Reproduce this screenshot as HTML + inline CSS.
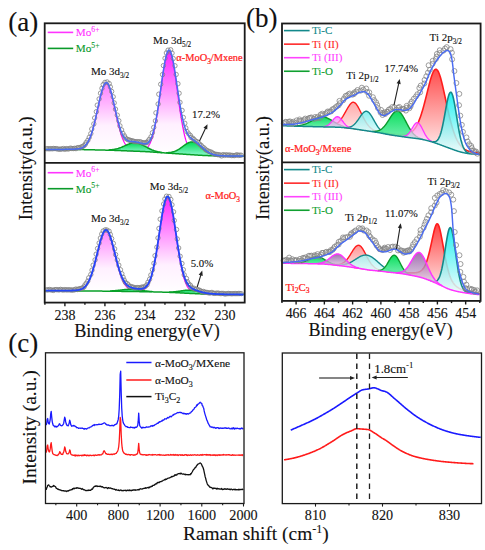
<!DOCTYPE html>
<html><head><meta charset="utf-8"><style>
html,body{margin:0;padding:0;background:#fff;}
body{width:485px;height:550px;overflow:hidden;font-family:"Liberation Serif",serif;}
svg{display:block;}
</style></head><body>
<svg width="485" height="550" viewBox="0 0 485 550" font-family='"Liberation Serif", serif'><defs><linearGradient id="g1" x1="0" y1="0" x2="0" y2="1"><stop offset="0" stop-color="#ff7cff" stop-opacity="1.0"/><stop offset="0.62" stop-color="#fff0ff" stop-opacity="1.0"/><stop offset="1" stop-color="#ffffff" stop-opacity="1.0"/></linearGradient><linearGradient id="g2" x1="0" y1="0" x2="0" y2="1"><stop offset="0" stop-color="#ff22ff" stop-opacity="1.0"/><stop offset="0.7" stop-color="#fff0ff" stop-opacity="1.0"/><stop offset="1" stop-color="#ffffff" stop-opacity="1.0"/></linearGradient><linearGradient id="g3" x1="0" y1="0" x2="0" y2="1"><stop offset="0" stop-color="#00dc55" stop-opacity="1.0"/><stop offset="1" stop-color="#90f8d0" stop-opacity="1.0"/></linearGradient><linearGradient id="g4" x1="0" y1="0" x2="0" y2="1"><stop offset="0" stop-color="#00dc55" stop-opacity="1.0"/><stop offset="1" stop-color="#90f8d0" stop-opacity="1.0"/></linearGradient><linearGradient id="g5" x1="0" y1="0" x2="0" y2="1"><stop offset="0" stop-color="#ff80ff" stop-opacity="1.0"/><stop offset="0.62" stop-color="#fff0ff" stop-opacity="1.0"/><stop offset="1" stop-color="#ffffff" stop-opacity="1.0"/></linearGradient><linearGradient id="g6" x1="0" y1="0" x2="0" y2="1"><stop offset="0" stop-color="#ff28ff" stop-opacity="1.0"/><stop offset="0.7" stop-color="#fff0ff" stop-opacity="1.0"/><stop offset="1" stop-color="#ffffff" stop-opacity="1.0"/></linearGradient><linearGradient id="g7" x1="0" y1="0" x2="0" y2="1"><stop offset="0" stop-color="#00dc55" stop-opacity="1.0"/><stop offset="1" stop-color="#90f8d0" stop-opacity="1.0"/></linearGradient><linearGradient id="g8" x1="0" y1="0" x2="0" y2="1"><stop offset="0" stop-color="#00dc55" stop-opacity="1.0"/><stop offset="1" stop-color="#90f8d0" stop-opacity="1.0"/></linearGradient><linearGradient id="g9" x1="0" y1="0" x2="0" y2="1"><stop offset="0" stop-color="#ff4444" stop-opacity="0.95"/><stop offset="1" stop-color="#fff4f4" stop-opacity="0.95"/></linearGradient><linearGradient id="g10" x1="0" y1="0" x2="0" y2="1"><stop offset="0" stop-color="#ffa4a4" stop-opacity="0.95"/><stop offset="1" stop-color="#fff0f0" stop-opacity="0.95"/></linearGradient><linearGradient id="g11" x1="0" y1="0" x2="0" y2="1"><stop offset="0" stop-color="#00f0f0" stop-opacity="0.85"/><stop offset="1" stop-color="#f0fcfc" stop-opacity="0.85"/></linearGradient><linearGradient id="g12" x1="0" y1="0" x2="0" y2="1"><stop offset="0" stop-color="#78eeee" stop-opacity="0.85"/><stop offset="1" stop-color="#e4fcfc" stop-opacity="0.85"/></linearGradient><linearGradient id="g13" x1="0" y1="0" x2="0" y2="1"><stop offset="0" stop-color="#00dc55" stop-opacity="0.95"/><stop offset="1" stop-color="#70f0b0" stop-opacity="0.95"/></linearGradient><linearGradient id="g14" x1="0" y1="0" x2="0" y2="1"><stop offset="0" stop-color="#00dc55" stop-opacity="0.95"/><stop offset="1" stop-color="#70f0b0" stop-opacity="0.95"/></linearGradient><linearGradient id="g15" x1="0" y1="0" x2="0" y2="1"><stop offset="0" stop-color="#ff90ff" stop-opacity="0.7"/><stop offset="1" stop-color="#ffe0ff" stop-opacity="0.7"/></linearGradient><linearGradient id="g16" x1="0" y1="0" x2="0" y2="1"><stop offset="0" stop-color="#ff70ff" stop-opacity="0.75"/><stop offset="1" stop-color="#ffd8ff" stop-opacity="0.75"/></linearGradient><linearGradient id="g17" x1="0" y1="0" x2="0" y2="1"><stop offset="0" stop-color="#ff3a3a" stop-opacity="0.95"/><stop offset="1" stop-color="#fff4f4" stop-opacity="0.95"/></linearGradient><linearGradient id="g18" x1="0" y1="0" x2="0" y2="1"><stop offset="0" stop-color="#ff9090" stop-opacity="0.95"/><stop offset="1" stop-color="#fff0f0" stop-opacity="0.95"/></linearGradient><linearGradient id="g19" x1="0" y1="0" x2="0" y2="1"><stop offset="0" stop-color="#00eeee" stop-opacity="0.85"/><stop offset="1" stop-color="#f0fcfc" stop-opacity="0.85"/></linearGradient><linearGradient id="g20" x1="0" y1="0" x2="0" y2="1"><stop offset="0" stop-color="#a0f2f2" stop-opacity="0.85"/><stop offset="1" stop-color="#e8fcfc" stop-opacity="0.85"/></linearGradient><linearGradient id="g21" x1="0" y1="0" x2="0" y2="1"><stop offset="0" stop-color="#00dc55" stop-opacity="0.95"/><stop offset="1" stop-color="#70f0b0" stop-opacity="0.95"/></linearGradient><linearGradient id="g22" x1="0" y1="0" x2="0" y2="1"><stop offset="0" stop-color="#00dc55" stop-opacity="0.95"/><stop offset="1" stop-color="#70f0b0" stop-opacity="0.95"/></linearGradient><linearGradient id="g23" x1="0" y1="0" x2="0" y2="1"><stop offset="0" stop-color="#8a4c9c" stop-opacity="0.8"/><stop offset="1" stop-color="#eee4f0" stop-opacity="0.8"/></linearGradient><linearGradient id="g24" x1="0" y1="0" x2="0" y2="1"><stop offset="0" stop-color="#8a4c9c" stop-opacity="0.8"/><stop offset="1" stop-color="#eee4f0" stop-opacity="0.8"/></linearGradient></defs><path d="M69.6,149.35 L70.1,149.34 L70.6,149.33 L71.1,149.32 L71.6,149.31 L72.1,149.29 L72.6,149.28 L73.1,149.26 L73.6,149.24 L74.1,149.22 L74.6,149.2 L75.1,149.17 L75.6,149.14 L76.1,149.1 L76.6,149.05 L77.1,149 L77.6,148.94 L78.1,148.87 L78.6,148.79 L79.1,148.7 L79.6,148.59 L80.1,148.46 L80.6,148.32 L81.1,148.16 L81.6,147.97 L82.1,147.75 L82.6,147.51 L83.1,147.23 L83.6,146.92 L84.1,146.56 L84.6,146.16 L85.1,145.71 L85.6,145.2 L86.1,144.64 L86.6,144.01 L87.1,143.32 L87.6,142.55 L88.1,141.7 L88.6,140.77 L89.1,139.76 L89.6,138.66 L90.1,137.47 L90.6,136.18 L91.1,134.8 L91.6,133.32 L92.1,131.74 L92.6,130.07 L93.1,128.3 L93.6,126.45 L94.1,124.51 L94.6,122.49 L95.1,120.4 L95.6,118.24 L96.1,116.03 L96.6,113.77 L97.1,111.49 L97.6,109.18 L98.1,106.87 L98.6,104.58 L99.1,102.31 L99.6,100.09 L100.1,97.93 L100.6,95.84 L101.1,93.86 L101.6,91.99 L102.1,90.26 L102.6,88.67 L103.1,87.25 L103.6,86 L104.1,84.95 L104.6,84.1 L105.1,83.47 L105.6,83.05 L106.1,82.86 L106.6,82.89 L107.1,83.16 L107.6,83.64 L108.1,84.34 L108.6,85.26 L109.1,86.37 L109.6,87.68 L110.1,89.16 L110.6,90.8 L111.1,92.59 L111.6,94.51 L112.1,96.54 L112.6,98.67 L113.1,100.87 L113.6,103.13 L114.1,105.44 L114.6,107.77 L115.1,110.11 L115.6,112.44 L116.1,114.75 L116.6,117.03 L117.1,119.26 L117.6,121.44 L118.1,123.55 L118.6,125.59 L119.1,127.55 L119.6,129.42 L120.1,131.19 L120.6,132.88 L121.1,134.47 L121.6,135.96 L122.1,137.36 L122.6,138.66 L123.1,139.87 L123.6,140.99 L124.1,142.01 L124.6,142.96 L125.1,143.82 L125.6,144.6 L126.1,145.32 L126.6,145.96 L127.1,146.54 L127.6,147.07 L128.1,147.53 L128.6,147.95 L129.1,148.33 L129.6,148.66 L130.1,148.95 L130.6,149.22 L131.1,149.45 L131.6,149.65 L132.1,149.83 L132.6,149.99 L133.1,150.13 L133.6,150.25 L134.1,150.36 L134.6,150.46 L135.1,150.54 L135.6,150.62 L136.1,150.69 L136.6,150.75 L137.1,150.81 L137.6,150.86 L138.1,150.91 L138.6,150.95 L139.1,150.99 L139.6,151.03 L140.1,151.06 L140.6,151.1 L141.1,151.13 L141.6,151.16 L142.1,151.2 L142.6,151.23 L143.1,151.26 L143.1,151.51 L142.6,151.49 L142.1,151.46 L141.6,151.44 L141.1,151.42 L140.6,151.4 L140.1,151.38 L139.6,151.36 L139.1,151.34 L138.6,151.32 L138.1,151.3 L137.6,151.28 L137.1,151.27 L136.6,151.25 L136.1,151.23 L135.6,151.21 L135.1,151.19 L134.6,151.17 L134.1,151.15 L133.6,151.14 L133.1,151.12 L132.6,151.1 L132.1,151.08 L131.6,151.06 L131.1,151.04 L130.6,151.02 L130.1,151 L129.6,150.98 L129.1,150.96 L128.6,150.94 L128.1,150.92 L127.6,150.9 L127.1,150.88 L126.6,150.86 L126.1,150.84 L125.6,150.82 L125.1,150.8 L124.6,150.78 L124.1,150.76 L123.6,150.74 L123.1,150.72 L122.6,150.69 L122.1,150.67 L121.6,150.65 L121.1,150.63 L120.6,150.61 L120.1,150.59 L119.6,150.57 L119.1,150.55 L118.6,150.53 L118.1,150.51 L117.6,150.49 L117.1,150.47 L116.6,150.46 L116.1,150.44 L115.6,150.42 L115.1,150.4 L114.6,150.38 L114.1,150.37 L113.6,150.35 L113.1,150.33 L112.6,150.32 L112.1,150.3 L111.6,150.29 L111.1,150.27 L110.6,150.26 L110.1,150.25 L109.6,150.23 L109.1,150.22 L108.6,150.2 L108.1,150.19 L107.6,150.18 L107.1,150.17 L106.6,150.15 L106.1,150.14 L105.6,150.13 L105.1,150.12 L104.6,150.11 L104.1,150.09 L103.6,150.08 L103.1,150.07 L102.6,150.06 L102.1,150.05 L101.6,150.04 L101.1,150.02 L100.6,150.01 L100.1,150 L99.6,149.99 L99.1,149.98 L98.6,149.97 L98.1,149.95 L97.6,149.94 L97.1,149.93 L96.6,149.92 L96.1,149.9 L95.6,149.89 L95.1,149.88 L94.6,149.86 L94.1,149.85 L93.6,149.84 L93.1,149.82 L92.6,149.81 L92.1,149.8 L91.6,149.78 L91.1,149.77 L90.6,149.76 L90.1,149.75 L89.6,149.73 L89.1,149.72 L88.6,149.71 L88.1,149.7 L87.6,149.69 L87.1,149.68 L86.6,149.67 L86.1,149.66 L85.6,149.65 L85.1,149.64 L84.6,149.64 L84.1,149.63 L83.6,149.62 L83.1,149.62 L82.6,149.61 L82.1,149.61 L81.6,149.6 L81.1,149.6 L80.6,149.6 L80.1,149.6 L79.6,149.6 L79.1,149.6 L78.6,149.6 L78.1,149.6 L77.6,149.6 L77.1,149.6 L76.6,149.6 L76.1,149.6 L75.6,149.6 L75.1,149.6 L74.6,149.6 L74.1,149.6 L73.6,149.6 L73.1,149.6 L72.6,149.6 L72.1,149.6 L71.6,149.6 L71.1,149.6 L70.6,149.6 L70.1,149.6 L69.6,149.6 Z" fill="url(#g1)" stroke="none"/>
<path d="M69.6,149.35 L70.1,149.34 L70.6,149.33 L71.1,149.32 L71.6,149.31 L72.1,149.29 L72.6,149.28 L73.1,149.26 L73.6,149.24 L74.1,149.22 L74.6,149.2 L75.1,149.17 L75.6,149.14 L76.1,149.1 L76.6,149.05 L77.1,149 L77.6,148.94 L78.1,148.87 L78.6,148.79 L79.1,148.7 L79.6,148.59 L80.1,148.46 L80.6,148.32 L81.1,148.16 L81.6,147.97 L82.1,147.75 L82.6,147.51 L83.1,147.23 L83.6,146.92 L84.1,146.56 L84.6,146.16 L85.1,145.71 L85.6,145.2 L86.1,144.64 L86.6,144.01 L87.1,143.32 L87.6,142.55 L88.1,141.7 L88.6,140.77 L89.1,139.76 L89.6,138.66 L90.1,137.47 L90.6,136.18 L91.1,134.8 L91.6,133.32 L92.1,131.74 L92.6,130.07 L93.1,128.3 L93.6,126.45 L94.1,124.51 L94.6,122.49 L95.1,120.4 L95.6,118.24 L96.1,116.03 L96.6,113.77 L97.1,111.49 L97.6,109.18 L98.1,106.87 L98.6,104.58 L99.1,102.31 L99.6,100.09 L100.1,97.93 L100.6,95.84 L101.1,93.86 L101.6,91.99 L102.1,90.26 L102.6,88.67 L103.1,87.25 L103.6,86 L104.1,84.95 L104.6,84.1 L105.1,83.47 L105.6,83.05 L106.1,82.86 L106.6,82.89 L107.1,83.16 L107.6,83.64 L108.1,84.34 L108.6,85.26 L109.1,86.37 L109.6,87.68 L110.1,89.16 L110.6,90.8 L111.1,92.59 L111.6,94.51 L112.1,96.54 L112.6,98.67 L113.1,100.87 L113.6,103.13 L114.1,105.44 L114.6,107.77 L115.1,110.11 L115.6,112.44 L116.1,114.75 L116.6,117.03 L117.1,119.26 L117.6,121.44 L118.1,123.55 L118.6,125.59 L119.1,127.55 L119.6,129.42 L120.1,131.19 L120.6,132.88 L121.1,134.47 L121.6,135.96 L122.1,137.36 L122.6,138.66 L123.1,139.87 L123.6,140.99 L124.1,142.01 L124.6,142.96 L125.1,143.82 L125.6,144.6 L126.1,145.32 L126.6,145.96 L127.1,146.54 L127.6,147.07 L128.1,147.53 L128.6,147.95 L129.1,148.33 L129.6,148.66 L130.1,148.95 L130.6,149.22 L131.1,149.45 L131.6,149.65 L132.1,149.83 L132.6,149.99 L133.1,150.13 L133.6,150.25 L134.1,150.36 L134.6,150.46 L135.1,150.54 L135.6,150.62 L136.1,150.69 L136.6,150.75 L137.1,150.81 L137.6,150.86 L138.1,150.91 L138.6,150.95 L139.1,150.99 L139.6,151.03 L140.1,151.06 L140.6,151.1 L141.1,151.13 L141.6,151.16 L142.1,151.2 L142.6,151.23 L143.1,151.26" fill="none" stroke="#ff00ff" stroke-width="1.2" stroke-linejoin="round"/>
<path d="M130.1,150.75 L130.6,150.77 L131.1,150.78 L131.6,150.79 L132.1,150.8 L132.6,150.81 L133.1,150.82 L133.6,150.83 L134.1,150.83 L134.6,150.84 L135.1,150.84 L135.6,150.84 L136.1,150.84 L136.6,150.84 L137.1,150.83 L137.6,150.82 L138.1,150.81 L138.6,150.79 L139.1,150.76 L139.6,150.73 L140.1,150.68 L140.6,150.63 L141.1,150.57 L141.6,150.49 L142.1,150.39 L142.6,150.27 L143.1,150.13 L143.6,149.97 L144.1,149.77 L144.6,149.54 L145.1,149.28 L145.6,148.97 L146.1,148.61 L146.6,148.19 L147.1,147.72 L147.6,147.17 L148.1,146.55 L148.6,145.85 L149.1,145.06 L149.6,144.17 L150.1,143.17 L150.6,142.06 L151.1,140.83 L151.6,139.46 L152.1,137.97 L152.6,136.33 L153.1,134.54 L153.6,132.6 L154.1,130.5 L154.6,128.25 L155.1,125.83 L155.6,123.26 L156.1,120.54 L156.6,117.67 L157.1,114.65 L157.6,111.5 L158.1,108.23 L158.6,104.86 L159.1,101.39 L159.6,97.85 L160.1,94.26 L160.6,90.64 L161.1,87.01 L161.6,83.41 L162.1,79.85 L162.6,76.38 L163.1,73.01 L163.6,69.78 L164.1,66.72 L164.6,63.85 L165.1,61.21 L165.6,58.81 L166.1,56.7 L166.6,54.89 L167.1,53.39 L167.6,52.24 L168.1,51.43 L168.6,50.99 L169.1,50.91 L169.6,51.2 L170.1,51.86 L170.6,52.87 L171.1,54.23 L171.6,55.92 L172.1,57.92 L172.6,60.22 L173.1,62.78 L173.6,65.58 L174.1,68.6 L174.6,71.8 L175.1,75.16 L175.6,78.64 L176.1,82.21 L176.6,85.86 L177.1,89.54 L177.6,93.23 L178.1,96.91 L178.6,100.55 L179.1,104.14 L179.6,107.64 L180.1,111.04 L180.6,114.33 L181.1,117.5 L181.6,120.53 L182.1,123.41 L182.6,126.15 L183.1,128.72 L183.6,131.14 L184.1,133.4 L184.6,135.51 L185.1,137.45 L185.6,139.25 L186.1,140.9 L186.6,142.41 L187.1,143.79 L187.6,145.04 L188.1,146.17 L188.6,147.19 L189.1,148.1 L189.6,148.92 L190.1,149.65 L190.6,150.3 L191.1,150.88 L191.6,151.39 L192.1,151.84 L192.6,152.24 L193.1,152.59 L193.6,152.9 L194.1,153.18 L194.6,153.41 L195.1,153.62 L195.6,153.81 L196.1,153.97 L196.6,154.11 L197.1,154.24 L197.6,154.35 L198.1,154.46 L198.6,154.55 L199.1,154.63 L199.6,154.7 L200.1,154.77 L200.6,154.83 L201.1,154.88 L201.6,154.93 L202.1,154.98 L202.6,155.03 L203.1,155.07 L203.6,155.11 L204.1,155.14 L204.6,155.18 L205.1,155.21 L205.6,155.24 L206.1,155.27 L206.6,155.3 L207.1,155.33 L207.6,155.36 L207.6,155.61 L207.1,155.59 L206.6,155.57 L206.1,155.55 L205.6,155.53 L205.1,155.5 L204.6,155.48 L204.1,155.46 L203.6,155.44 L203.1,155.41 L202.6,155.39 L202.1,155.36 L201.6,155.33 L201.1,155.3 L200.6,155.28 L200.1,155.25 L199.6,155.22 L199.1,155.19 L198.6,155.16 L198.1,155.13 L197.6,155.09 L197.1,155.06 L196.6,155.03 L196.1,155 L195.6,154.97 L195.1,154.93 L194.6,154.9 L194.1,154.87 L193.6,154.83 L193.1,154.8 L192.6,154.77 L192.1,154.74 L191.6,154.7 L191.1,154.67 L190.6,154.64 L190.1,154.61 L189.6,154.57 L189.1,154.54 L188.6,154.51 L188.1,154.48 L187.6,154.45 L187.1,154.41 L186.6,154.38 L186.1,154.35 L185.6,154.31 L185.1,154.28 L184.6,154.25 L184.1,154.21 L183.6,154.18 L183.1,154.15 L182.6,154.11 L182.1,154.08 L181.6,154.05 L181.1,154.01 L180.6,153.98 L180.1,153.94 L179.6,153.91 L179.1,153.88 L178.6,153.84 L178.1,153.81 L177.6,153.77 L177.1,153.74 L176.6,153.71 L176.1,153.67 L175.6,153.64 L175.1,153.61 L174.6,153.57 L174.1,153.54 L173.6,153.51 L173.1,153.47 L172.6,153.44 L172.1,153.41 L171.6,153.37 L171.1,153.34 L170.6,153.31 L170.1,153.27 L169.6,153.24 L169.1,153.21 L168.6,153.17 L168.1,153.14 L167.6,153.11 L167.1,153.07 L166.6,153.04 L166.1,153.01 L165.6,152.97 L165.1,152.94 L164.6,152.91 L164.1,152.87 L163.6,152.84 L163.1,152.81 L162.6,152.77 L162.1,152.74 L161.6,152.71 L161.1,152.67 L160.6,152.64 L160.1,152.61 L159.6,152.57 L159.1,152.54 L158.6,152.5 L158.1,152.47 L157.6,152.43 L157.1,152.4 L156.6,152.36 L156.1,152.33 L155.6,152.29 L155.1,152.26 L154.6,152.22 L154.1,152.18 L153.6,152.15 L153.1,152.11 L152.6,152.08 L152.1,152.04 L151.6,152.01 L151.1,151.97 L150.6,151.94 L150.1,151.9 L149.6,151.87 L149.1,151.84 L148.6,151.81 L148.1,151.77 L147.6,151.74 L147.1,151.71 L146.6,151.69 L146.1,151.66 L145.6,151.63 L145.1,151.61 L144.6,151.58 L144.1,151.56 L143.6,151.53 L143.1,151.51 L142.6,151.49 L142.1,151.46 L141.6,151.44 L141.1,151.42 L140.6,151.4 L140.1,151.38 L139.6,151.36 L139.1,151.34 L138.6,151.32 L138.1,151.3 L137.6,151.28 L137.1,151.27 L136.6,151.25 L136.1,151.23 L135.6,151.21 L135.1,151.19 L134.6,151.17 L134.1,151.15 L133.6,151.14 L133.1,151.12 L132.6,151.1 L132.1,151.08 L131.6,151.06 L131.1,151.04 L130.6,151.02 L130.1,151 Z" fill="url(#g2)" stroke="none"/>
<path d="M130.1,150.75 L130.6,150.77 L131.1,150.78 L131.6,150.79 L132.1,150.8 L132.6,150.81 L133.1,150.82 L133.6,150.83 L134.1,150.83 L134.6,150.84 L135.1,150.84 L135.6,150.84 L136.1,150.84 L136.6,150.84 L137.1,150.83 L137.6,150.82 L138.1,150.81 L138.6,150.79 L139.1,150.76 L139.6,150.73 L140.1,150.68 L140.6,150.63 L141.1,150.57 L141.6,150.49 L142.1,150.39 L142.6,150.27 L143.1,150.13 L143.6,149.97 L144.1,149.77 L144.6,149.54 L145.1,149.28 L145.6,148.97 L146.1,148.61 L146.6,148.19 L147.1,147.72 L147.6,147.17 L148.1,146.55 L148.6,145.85 L149.1,145.06 L149.6,144.17 L150.1,143.17 L150.6,142.06 L151.1,140.83 L151.6,139.46 L152.1,137.97 L152.6,136.33 L153.1,134.54 L153.6,132.6 L154.1,130.5 L154.6,128.25 L155.1,125.83 L155.6,123.26 L156.1,120.54 L156.6,117.67 L157.1,114.65 L157.6,111.5 L158.1,108.23 L158.6,104.86 L159.1,101.39 L159.6,97.85 L160.1,94.26 L160.6,90.64 L161.1,87.01 L161.6,83.41 L162.1,79.85 L162.6,76.38 L163.1,73.01 L163.6,69.78 L164.1,66.72 L164.6,63.85 L165.1,61.21 L165.6,58.81 L166.1,56.7 L166.6,54.89 L167.1,53.39 L167.6,52.24 L168.1,51.43 L168.6,50.99 L169.1,50.91 L169.6,51.2 L170.1,51.86 L170.6,52.87 L171.1,54.23 L171.6,55.92 L172.1,57.92 L172.6,60.22 L173.1,62.78 L173.6,65.58 L174.1,68.6 L174.6,71.8 L175.1,75.16 L175.6,78.64 L176.1,82.21 L176.6,85.86 L177.1,89.54 L177.6,93.23 L178.1,96.91 L178.6,100.55 L179.1,104.14 L179.6,107.64 L180.1,111.04 L180.6,114.33 L181.1,117.5 L181.6,120.53 L182.1,123.41 L182.6,126.15 L183.1,128.72 L183.6,131.14 L184.1,133.4 L184.6,135.51 L185.1,137.45 L185.6,139.25 L186.1,140.9 L186.6,142.41 L187.1,143.79 L187.6,145.04 L188.1,146.17 L188.6,147.19 L189.1,148.1 L189.6,148.92 L190.1,149.65 L190.6,150.3 L191.1,150.88 L191.6,151.39 L192.1,151.84 L192.6,152.24 L193.1,152.59 L193.6,152.9 L194.1,153.18 L194.6,153.41 L195.1,153.62 L195.6,153.81 L196.1,153.97 L196.6,154.11 L197.1,154.24 L197.6,154.35 L198.1,154.46 L198.6,154.55 L199.1,154.63 L199.6,154.7 L200.1,154.77 L200.6,154.83 L201.1,154.88 L201.6,154.93 L202.1,154.98 L202.6,155.03 L203.1,155.07 L203.6,155.11 L204.1,155.14 L204.6,155.18 L205.1,155.21 L205.6,155.24 L206.1,155.27 L206.6,155.3 L207.1,155.33 L207.6,155.36" fill="none" stroke="#ff00ff" stroke-width="1.2" stroke-linejoin="round"/>
<path d="M108.6,149.93 L109.1,149.9 L109.6,149.87 L110.1,149.84 L110.6,149.8 L111.1,149.76 L111.6,149.71 L112.1,149.66 L112.6,149.6 L113.1,149.53 L113.6,149.46 L114.1,149.38 L114.6,149.29 L115.1,149.2 L115.6,149.1 L116.1,148.99 L116.6,148.87 L117.1,148.74 L117.6,148.6 L118.1,148.46 L118.6,148.3 L119.1,148.14 L119.6,147.97 L120.1,147.79 L120.6,147.6 L121.1,147.41 L121.6,147.2 L122.1,147 L122.6,146.78 L123.1,146.56 L123.6,146.34 L124.1,146.12 L124.6,145.89 L125.1,145.66 L125.6,145.43 L126.1,145.2 L126.6,144.98 L127.1,144.76 L127.6,144.54 L128.1,144.33 L128.6,144.13 L129.1,143.94 L129.6,143.76 L130.1,143.59 L130.6,143.44 L131.1,143.3 L131.6,143.17 L132.1,143.06 L132.6,142.97 L133.1,142.89 L133.6,142.84 L134.1,142.8 L134.6,142.79 L135.1,142.79 L135.6,142.82 L136.1,142.86 L136.6,142.93 L137.1,143.01 L137.6,143.11 L138.1,143.24 L138.6,143.38 L139.1,143.53 L139.6,143.71 L140.1,143.9 L140.6,144.1 L141.1,144.32 L141.6,144.55 L142.1,144.79 L142.6,145.03 L143.1,145.29 L143.6,145.55 L144.1,145.82 L144.6,146.09 L145.1,146.36 L145.6,146.64 L146.1,146.92 L146.6,147.19 L147.1,147.47 L147.6,147.74 L148.1,148 L148.6,148.27 L149.1,148.52 L149.6,148.77 L150.1,149.02 L150.6,149.25 L151.1,149.48 L151.6,149.7 L152.1,149.92 L152.6,150.12 L153.1,150.31 L153.6,150.5 L154.1,150.68 L154.6,150.85 L155.1,151.01 L155.6,151.16 L156.1,151.3 L156.6,151.44 L157.1,151.56 L157.6,151.68 L158.1,151.8 L158.6,151.9 L159.1,152 L159.6,152.09 L160.1,152.18 L160.6,152.26 L161.1,152.34 L161.6,152.41 L162.1,152.48 L162.1,152.74 L161.6,152.71 L161.1,152.67 L160.6,152.64 L160.1,152.61 L159.6,152.57 L159.1,152.54 L158.6,152.5 L158.1,152.47 L157.6,152.43 L157.1,152.4 L156.6,152.36 L156.1,152.33 L155.6,152.29 L155.1,152.26 L154.6,152.22 L154.1,152.18 L153.6,152.15 L153.1,152.11 L152.6,152.08 L152.1,152.04 L151.6,152.01 L151.1,151.97 L150.6,151.94 L150.1,151.9 L149.6,151.87 L149.1,151.84 L148.6,151.81 L148.1,151.77 L147.6,151.74 L147.1,151.71 L146.6,151.69 L146.1,151.66 L145.6,151.63 L145.1,151.61 L144.6,151.58 L144.1,151.56 L143.6,151.53 L143.1,151.51 L142.6,151.49 L142.1,151.46 L141.6,151.44 L141.1,151.42 L140.6,151.4 L140.1,151.38 L139.6,151.36 L139.1,151.34 L138.6,151.32 L138.1,151.3 L137.6,151.28 L137.1,151.27 L136.6,151.25 L136.1,151.23 L135.6,151.21 L135.1,151.19 L134.6,151.17 L134.1,151.15 L133.6,151.14 L133.1,151.12 L132.6,151.1 L132.1,151.08 L131.6,151.06 L131.1,151.04 L130.6,151.02 L130.1,151 L129.6,150.98 L129.1,150.96 L128.6,150.94 L128.1,150.92 L127.6,150.9 L127.1,150.88 L126.6,150.86 L126.1,150.84 L125.6,150.82 L125.1,150.8 L124.6,150.78 L124.1,150.76 L123.6,150.74 L123.1,150.72 L122.6,150.69 L122.1,150.67 L121.6,150.65 L121.1,150.63 L120.6,150.61 L120.1,150.59 L119.6,150.57 L119.1,150.55 L118.6,150.53 L118.1,150.51 L117.6,150.49 L117.1,150.47 L116.6,150.46 L116.1,150.44 L115.6,150.42 L115.1,150.4 L114.6,150.38 L114.1,150.37 L113.6,150.35 L113.1,150.33 L112.6,150.32 L112.1,150.3 L111.6,150.29 L111.1,150.27 L110.6,150.26 L110.1,150.25 L109.6,150.23 L109.1,150.22 L108.6,150.2 Z" fill="url(#g3)" stroke="none"/>
<path d="M108.6,149.93 L109.1,149.9 L109.6,149.87 L110.1,149.84 L110.6,149.8 L111.1,149.76 L111.6,149.71 L112.1,149.66 L112.6,149.6 L113.1,149.53 L113.6,149.46 L114.1,149.38 L114.6,149.29 L115.1,149.2 L115.6,149.1 L116.1,148.99 L116.6,148.87 L117.1,148.74 L117.6,148.6 L118.1,148.46 L118.6,148.3 L119.1,148.14 L119.6,147.97 L120.1,147.79 L120.6,147.6 L121.1,147.41 L121.6,147.2 L122.1,147 L122.6,146.78 L123.1,146.56 L123.6,146.34 L124.1,146.12 L124.6,145.89 L125.1,145.66 L125.6,145.43 L126.1,145.2 L126.6,144.98 L127.1,144.76 L127.6,144.54 L128.1,144.33 L128.6,144.13 L129.1,143.94 L129.6,143.76 L130.1,143.59 L130.6,143.44 L131.1,143.3 L131.6,143.17 L132.1,143.06 L132.6,142.97 L133.1,142.89 L133.6,142.84 L134.1,142.8 L134.6,142.79 L135.1,142.79 L135.6,142.82 L136.1,142.86 L136.6,142.93 L137.1,143.01 L137.6,143.11 L138.1,143.24 L138.6,143.38 L139.1,143.53 L139.6,143.71 L140.1,143.9 L140.6,144.1 L141.1,144.32 L141.6,144.55 L142.1,144.79 L142.6,145.03 L143.1,145.29 L143.6,145.55 L144.1,145.82 L144.6,146.09 L145.1,146.36 L145.6,146.64 L146.1,146.92 L146.6,147.19 L147.1,147.47 L147.6,147.74 L148.1,148 L148.6,148.27 L149.1,148.52 L149.6,148.77 L150.1,149.02 L150.6,149.25 L151.1,149.48 L151.6,149.7 L152.1,149.92 L152.6,150.12 L153.1,150.31 L153.6,150.5 L154.1,150.68 L154.6,150.85 L155.1,151.01 L155.6,151.16 L156.1,151.3 L156.6,151.44 L157.1,151.56 L157.6,151.68 L158.1,151.8 L158.6,151.9 L159.1,152 L159.6,152.09 L160.1,152.18 L160.6,152.26 L161.1,152.34 L161.6,152.41 L162.1,152.48" fill="none" stroke="#08a028" stroke-width="1.5" stroke-linejoin="round"/>
<path d="M166.1,152.73 L166.6,152.72 L167.1,152.7 L167.6,152.68 L168.1,152.65 L168.6,152.61 L169.1,152.57 L169.6,152.52 L170.1,152.45 L170.6,152.38 L171.1,152.3 L171.6,152.2 L172.1,152.1 L172.6,151.98 L173.1,151.84 L173.6,151.7 L174.1,151.54 L174.6,151.36 L175.1,151.17 L175.6,150.96 L176.1,150.74 L176.6,150.5 L177.1,150.25 L177.6,149.98 L178.1,149.7 L178.6,149.4 L179.1,149.09 L179.6,148.76 L180.1,148.43 L180.6,148.08 L181.1,147.73 L181.6,147.37 L182.1,147 L182.6,146.63 L183.1,146.26 L183.6,145.89 L184.1,145.52 L184.6,145.15 L185.1,144.8 L185.6,144.45 L186.1,144.12 L186.6,143.8 L187.1,143.5 L187.6,143.22 L188.1,142.97 L188.6,142.73 L189.1,142.53 L189.6,142.35 L190.1,142.2 L190.6,142.09 L191.1,142.01 L191.6,141.96 L192.1,141.95 L192.6,141.97 L193.1,142.03 L193.6,142.12 L194.1,142.25 L194.6,142.41 L195.1,142.6 L195.6,142.82 L196.1,143.08 L196.6,143.36 L197.1,143.66 L197.6,143.99 L198.1,144.35 L198.6,144.72 L199.1,145.1 L199.6,145.51 L200.1,145.92 L200.6,146.34 L201.1,146.77 L201.6,147.2 L202.1,147.63 L202.6,148.06 L203.1,148.49 L203.6,148.92 L204.1,149.33 L204.6,149.74 L205.1,150.14 L205.6,150.52 L206.1,150.9 L206.6,151.26 L207.1,151.61 L207.6,151.94 L208.1,152.26 L208.6,152.56 L209.1,152.84 L209.6,153.11 L210.1,153.37 L210.6,153.61 L211.1,153.83 L211.6,154.04 L212.1,154.23 L212.6,154.41 L213.1,154.57 L213.6,154.73 L214.1,154.87 L214.6,154.99 L215.1,155.11 L215.6,155.22 L216.1,155.31 L216.6,155.4 L217.1,155.48 L217.6,155.55 L218.1,155.61 L218.6,155.67 L219.1,155.72 L219.1,155.99 L218.6,155.98 L218.1,155.97 L217.6,155.96 L217.1,155.94 L216.6,155.93 L216.1,155.92 L215.6,155.91 L215.1,155.89 L214.6,155.88 L214.1,155.86 L213.6,155.84 L213.1,155.83 L212.6,155.81 L212.1,155.79 L211.6,155.77 L211.1,155.75 L210.6,155.73 L210.1,155.71 L209.6,155.69 L209.1,155.67 L208.6,155.65 L208.1,155.63 L207.6,155.61 L207.1,155.59 L206.6,155.57 L206.1,155.55 L205.6,155.53 L205.1,155.5 L204.6,155.48 L204.1,155.46 L203.6,155.44 L203.1,155.41 L202.6,155.39 L202.1,155.36 L201.6,155.33 L201.1,155.3 L200.6,155.28 L200.1,155.25 L199.6,155.22 L199.1,155.19 L198.6,155.16 L198.1,155.13 L197.6,155.09 L197.1,155.06 L196.6,155.03 L196.1,155 L195.6,154.97 L195.1,154.93 L194.6,154.9 L194.1,154.87 L193.6,154.83 L193.1,154.8 L192.6,154.77 L192.1,154.74 L191.6,154.7 L191.1,154.67 L190.6,154.64 L190.1,154.61 L189.6,154.57 L189.1,154.54 L188.6,154.51 L188.1,154.48 L187.6,154.45 L187.1,154.41 L186.6,154.38 L186.1,154.35 L185.6,154.31 L185.1,154.28 L184.6,154.25 L184.1,154.21 L183.6,154.18 L183.1,154.15 L182.6,154.11 L182.1,154.08 L181.6,154.05 L181.1,154.01 L180.6,153.98 L180.1,153.94 L179.6,153.91 L179.1,153.88 L178.6,153.84 L178.1,153.81 L177.6,153.77 L177.1,153.74 L176.6,153.71 L176.1,153.67 L175.6,153.64 L175.1,153.61 L174.6,153.57 L174.1,153.54 L173.6,153.51 L173.1,153.47 L172.6,153.44 L172.1,153.41 L171.6,153.37 L171.1,153.34 L170.6,153.31 L170.1,153.27 L169.6,153.24 L169.1,153.21 L168.6,153.17 L168.1,153.14 L167.6,153.11 L167.1,153.07 L166.6,153.04 L166.1,153.01 Z" fill="url(#g4)" stroke="none"/>
<path d="M166.1,152.73 L166.6,152.72 L167.1,152.7 L167.6,152.68 L168.1,152.65 L168.6,152.61 L169.1,152.57 L169.6,152.52 L170.1,152.45 L170.6,152.38 L171.1,152.3 L171.6,152.2 L172.1,152.1 L172.6,151.98 L173.1,151.84 L173.6,151.7 L174.1,151.54 L174.6,151.36 L175.1,151.17 L175.6,150.96 L176.1,150.74 L176.6,150.5 L177.1,150.25 L177.6,149.98 L178.1,149.7 L178.6,149.4 L179.1,149.09 L179.6,148.76 L180.1,148.43 L180.6,148.08 L181.1,147.73 L181.6,147.37 L182.1,147 L182.6,146.63 L183.1,146.26 L183.6,145.89 L184.1,145.52 L184.6,145.15 L185.1,144.8 L185.6,144.45 L186.1,144.12 L186.6,143.8 L187.1,143.5 L187.6,143.22 L188.1,142.97 L188.6,142.73 L189.1,142.53 L189.6,142.35 L190.1,142.2 L190.6,142.09 L191.1,142.01 L191.6,141.96 L192.1,141.95 L192.6,141.97 L193.1,142.03 L193.6,142.12 L194.1,142.25 L194.6,142.41 L195.1,142.6 L195.6,142.82 L196.1,143.08 L196.6,143.36 L197.1,143.66 L197.6,143.99 L198.1,144.35 L198.6,144.72 L199.1,145.1 L199.6,145.51 L200.1,145.92 L200.6,146.34 L201.1,146.77 L201.6,147.2 L202.1,147.63 L202.6,148.06 L203.1,148.49 L203.6,148.92 L204.1,149.33 L204.6,149.74 L205.1,150.14 L205.6,150.52 L206.1,150.9 L206.6,151.26 L207.1,151.61 L207.6,151.94 L208.1,152.26 L208.6,152.56 L209.1,152.84 L209.6,153.11 L210.1,153.37 L210.6,153.61 L211.1,153.83 L211.6,154.04 L212.1,154.23 L212.6,154.41 L213.1,154.57 L213.6,154.73 L214.1,154.87 L214.6,154.99 L215.1,155.11 L215.6,155.22 L216.1,155.31 L216.6,155.4 L217.1,155.48 L217.6,155.55 L218.1,155.61 L218.6,155.67 L219.1,155.72" fill="none" stroke="#08a028" stroke-width="1.5" stroke-linejoin="round"/>
<path d="M45.6,149.6 L46.1,149.6 L46.6,149.6 L47.1,149.6 L47.6,149.6 L48.1,149.6 L48.6,149.6 L49.1,149.6 L49.6,149.6 L50.1,149.6 L50.6,149.6 L51.1,149.6 L51.6,149.6 L52.1,149.6 L52.6,149.6 L53.1,149.6 L53.6,149.6 L54.1,149.6 L54.6,149.6 L55.1,149.6 L55.6,149.6 L56.1,149.6 L56.6,149.6 L57.1,149.6 L57.6,149.6 L58.1,149.6 L58.6,149.6 L59.1,149.6 L59.6,149.6 L60.1,149.6 L60.6,149.6 L61.1,149.6 L61.6,149.6 L62.1,149.6 L62.6,149.6 L63.1,149.6 L63.6,149.6 L64.1,149.6 L64.6,149.6 L65.1,149.6 L65.6,149.6 L66.1,149.6 L66.6,149.6 L67.1,149.6 L67.6,149.6 L68.1,149.6 L68.6,149.6 L69.1,149.6 L69.6,149.6 L70.1,149.6 L70.6,149.6 L71.1,149.6 L71.6,149.6 L72.1,149.6 L72.6,149.6 L73.1,149.6 L73.6,149.6 L74.1,149.6 L74.6,149.6 L75.1,149.6 L75.6,149.6 L76.1,149.6 L76.6,149.6 L77.1,149.6 L77.6,149.6 L78.1,149.6 L78.6,149.6 L79.1,149.6 L79.6,149.6 L80.1,149.6 L80.6,149.6 L81.1,149.6 L81.6,149.6 L82.1,149.61 L82.6,149.61 L83.1,149.62 L83.6,149.62 L84.1,149.63 L84.6,149.64 L85.1,149.64 L85.6,149.65 L86.1,149.66 L86.6,149.67 L87.1,149.68 L87.6,149.69 L88.1,149.7 L88.6,149.71 L89.1,149.72 L89.6,149.73 L90.1,149.75 L90.6,149.76 L91.1,149.77 L91.6,149.78 L92.1,149.8 L92.6,149.81 L93.1,149.82 L93.6,149.84 L94.1,149.85 L94.6,149.86 L95.1,149.88 L95.6,149.89 L96.1,149.9 L96.6,149.92 L97.1,149.93 L97.6,149.94 L98.1,149.95 L98.6,149.97 L99.1,149.98 L99.6,149.99 L100.1,150 L100.6,150.01 L101.1,150.02 L101.6,150.04 L102.1,150.05 L102.6,150.06 L103.1,150.07 L103.6,150.08 L104.1,150.09 L104.6,150.11 L105.1,150.12 L105.6,150.13 L106.1,150.14 L106.6,150.15 L107.1,150.17 L107.6,150.18 L108.1,150.19 L108.6,150.2 L109.1,150.22 L109.6,150.23 L110.1,150.25 L110.6,150.26 L111.1,150.27 L111.6,150.29 L112.1,150.3 L112.6,150.32 L113.1,150.33 L113.6,150.35 L114.1,150.37 L114.6,150.38 L115.1,150.4 L115.6,150.42 L116.1,150.44 L116.6,150.46 L117.1,150.47 L117.6,150.49 L118.1,150.51 L118.6,150.53 L119.1,150.55 L119.6,150.57 L120.1,150.59 L120.6,150.61 L121.1,150.63 L121.6,150.65 L122.1,150.67 L122.6,150.69 L123.1,150.72 L123.6,150.74 L124.1,150.76 L124.6,150.78 L125.1,150.8 L125.6,150.82 L126.1,150.84 L126.6,150.86 L127.1,150.88 L127.6,150.9 L128.1,150.92 L128.6,150.94 L129.1,150.96 L129.6,150.98 L130.1,151 L130.6,151.02 L131.1,151.04 L131.6,151.06 L132.1,151.08 L132.6,151.1 L133.1,151.12 L133.6,151.14 L134.1,151.15 L134.6,151.17 L135.1,151.19 L135.6,151.21 L136.1,151.23 L136.6,151.25 L137.1,151.27 L137.6,151.28 L138.1,151.3 L138.6,151.32 L139.1,151.34 L139.6,151.36 L140.1,151.38 L140.6,151.4 L141.1,151.42 L141.6,151.44 L142.1,151.46 L142.6,151.49 L143.1,151.51 L143.6,151.53 L144.1,151.56 L144.6,151.58 L145.1,151.61 L145.6,151.63 L146.1,151.66 L146.6,151.69 L147.1,151.71 L147.6,151.74 L148.1,151.77 L148.6,151.81 L149.1,151.84 L149.6,151.87 L150.1,151.9 L150.6,151.94 L151.1,151.97 L151.6,152.01 L152.1,152.04 L152.6,152.08 L153.1,152.11 L153.6,152.15 L154.1,152.18 L154.6,152.22 L155.1,152.26 L155.6,152.29 L156.1,152.33 L156.6,152.36 L157.1,152.4 L157.6,152.43 L158.1,152.47 L158.6,152.5 L159.1,152.54 L159.6,152.57 L160.1,152.61 L160.6,152.64 L161.1,152.67 L161.6,152.71 L162.1,152.74 L162.6,152.77 L163.1,152.81 L163.6,152.84 L164.1,152.87 L164.6,152.91 L165.1,152.94 L165.6,152.97 L166.1,153.01 L166.6,153.04 L167.1,153.07 L167.6,153.11 L168.1,153.14 L168.6,153.17 L169.1,153.21 L169.6,153.24 L170.1,153.27 L170.6,153.31 L171.1,153.34 L171.6,153.37 L172.1,153.41 L172.6,153.44 L173.1,153.47 L173.6,153.51 L174.1,153.54 L174.6,153.57 L175.1,153.61 L175.6,153.64 L176.1,153.67 L176.6,153.71 L177.1,153.74 L177.6,153.77 L178.1,153.81 L178.6,153.84 L179.1,153.88 L179.6,153.91 L180.1,153.94 L180.6,153.98 L181.1,154.01 L181.6,154.05 L182.1,154.08 L182.6,154.11 L183.1,154.15 L183.6,154.18 L184.1,154.21 L184.6,154.25 L185.1,154.28 L185.6,154.31 L186.1,154.35 L186.6,154.38 L187.1,154.41 L187.6,154.45 L188.1,154.48 L188.6,154.51 L189.1,154.54 L189.6,154.57 L190.1,154.61 L190.6,154.64 L191.1,154.67 L191.6,154.7 L192.1,154.74 L192.6,154.77 L193.1,154.8 L193.6,154.83 L194.1,154.87 L194.6,154.9 L195.1,154.93 L195.6,154.97 L196.1,155 L196.6,155.03 L197.1,155.06 L197.6,155.09 L198.1,155.13 L198.6,155.16 L199.1,155.19 L199.6,155.22 L200.1,155.25 L200.6,155.28 L201.1,155.3 L201.6,155.33 L202.1,155.36 L202.6,155.39 L203.1,155.41 L203.6,155.44 L204.1,155.46 L204.6,155.48 L205.1,155.5 L205.6,155.53 L206.1,155.55 L206.6,155.57 L207.1,155.59 L207.6,155.61 L208.1,155.63 L208.6,155.65 L209.1,155.67 L209.6,155.69 L210.1,155.71 L210.6,155.73 L211.1,155.75 L211.6,155.77 L212.1,155.79 L212.6,155.81 L213.1,155.83 L213.6,155.84 L214.1,155.86 L214.6,155.88 L215.1,155.89 L215.6,155.91 L216.1,155.92 L216.6,155.93 L217.1,155.94 L217.6,155.96 L218.1,155.97 L218.6,155.98 L219.1,155.99 L219.6,155.99 L220.1,156 L220.6,156.01 L221.1,156.01 L221.6,156.02 L222.1,156.03 L222.6,156.03 L223.1,156.04 L223.6,156.05 L224.1,156.05 L224.6,156.06 L225.1,156.07 L225.6,156.07 L226.1,156.08 L226.6,156.08 L227.1,156.09 L227.6,156.1 L228.1,156.1 L228.6,156.11 L229.1,156.11 L229.6,156.12 L230.1,156.12 L230.6,156.13 L231.1,156.13 L231.6,156.14 L232.1,156.14 L232.6,156.14 L233.1,156.15 L233.6,156.15 L234.1,156.16 L234.6,156.16 L235.1,156.16 L235.6,156.17 L236.1,156.17 L236.6,156.17 L237.1,156.18 L237.6,156.18 L238.1,156.18 L238.6,156.18 L239.1,156.19 L239.6,156.19 L240.1,156.19 L240.6,156.19 L241.1,156.19 L241.6,156.2 L242.1,156.2 L242.6,156.2 L243.1,156.2 L243.6,156.2" fill="none" stroke="#08a028" stroke-width="1.5"/>
<g fill="none" stroke="#808080" stroke-width="0.8"><circle cx="46.6" cy="148.68" r="2.2"/><circle cx="48" cy="148.75" r="2.2"/><circle cx="49.4" cy="148.8" r="2.2"/><circle cx="50.8" cy="148.64" r="2.2"/><circle cx="52.2" cy="148.8" r="2.2"/><circle cx="53.6" cy="148.5" r="2.2"/><circle cx="55" cy="148.61" r="2.2"/><circle cx="56.4" cy="148.64" r="2.2"/><circle cx="57.8" cy="149.03" r="2.2"/><circle cx="59.2" cy="149.19" r="2.2"/><circle cx="60.6" cy="149.16" r="2.2"/><circle cx="62" cy="148.97" r="2.2"/><circle cx="63.39" cy="148.54" r="2.2"/><circle cx="64.8" cy="149.32" r="2.2"/><circle cx="66.19" cy="148.57" r="2.2"/><circle cx="67.6" cy="149" r="2.2"/><circle cx="68.99" cy="148.81" r="2.2"/><circle cx="70.38" cy="148.17" r="2.2"/><circle cx="71.78" cy="148.47" r="2.2"/><circle cx="73.18" cy="148.59" r="2.2"/><circle cx="74.55" cy="148.32" r="2.2"/><circle cx="75.96" cy="148.63" r="2.2"/><circle cx="77.25" cy="147.72" r="2.2"/><circle cx="78.61" cy="147.66" r="2.2"/><circle cx="80.04" cy="147.8" r="2.2"/><circle cx="81.22" cy="146.96" r="2.2"/><circle cx="82.59" cy="146.52" r="2.2"/><circle cx="83.93" cy="145.69" r="2.2"/><circle cx="85.22" cy="144.4" r="2.2"/><circle cx="86.18" cy="142.42" r="2.2"/><circle cx="87.83" cy="140.32" r="2.2"/><circle cx="89.22" cy="137.32" r="2.2"/><circle cx="90.81" cy="133.64" r="2.2"/><circle cx="91.77" cy="129" r="2.2"/><circle cx="93.81" cy="123.93" r="2.2"/><circle cx="94.63" cy="117.94" r="2.2"/><circle cx="96.35" cy="111.72" r="2.2"/><circle cx="97.25" cy="105.16" r="2.2"/><circle cx="99.12" cy="98.96" r="2.2"/><circle cx="100.5" cy="93.18" r="2.2"/><circle cx="101.96" cy="88.32" r="2.2"/><circle cx="103.19" cy="84.59" r="2.2"/><circle cx="104.93" cy="82.43" r="2.2"/><circle cx="107.11" cy="81.99" r="2.2"/><circle cx="109.18" cy="83.57" r="2.2"/><circle cx="110.34" cy="86.93" r="2.2"/><circle cx="111.67" cy="91.43" r="2.2"/><circle cx="113.18" cy="96.82" r="2.2"/><circle cx="114.2" cy="102.91" r="2.2"/><circle cx="115.49" cy="109.15" r="2.2"/><circle cx="117.29" cy="115.14" r="2.2"/><circle cx="118.82" cy="120.74" r="2.2"/><circle cx="119.93" cy="125.83" r="2.2"/><circle cx="121.61" cy="129.96" r="2.2"/><circle cx="122.88" cy="133.41" r="2.2"/><circle cx="124.46" cy="135.88" r="2.2"/><circle cx="125.37" cy="138.04" r="2.2"/><circle cx="126.9" cy="139.07" r="2.2"/><circle cx="128.18" cy="139.78" r="2.2"/><circle cx="129.49" cy="140.04" r="2.2"/><circle cx="130.72" cy="140.55" r="2.2"/><circle cx="132.06" cy="140.76" r="2.2"/><circle cx="133.44" cy="141.17" r="2.2"/><circle cx="134.82" cy="141.6" r="2.2"/><circle cx="136.25" cy="141.68" r="2.2"/><circle cx="137.72" cy="141.69" r="2.2"/><circle cx="139.22" cy="141.76" r="2.2"/><circle cx="140.72" cy="141.84" r="2.2"/><circle cx="142" cy="142.61" r="2.2"/><circle cx="143.33" cy="142.94" r="2.2"/><circle cx="144.61" cy="142.7" r="2.2"/><circle cx="145.81" cy="142.91" r="2.2"/><circle cx="147.08" cy="142.57" r="2.2"/><circle cx="147.93" cy="141.11" r="2.2"/><circle cx="149.26" cy="139.38" r="2.2"/><circle cx="151.05" cy="136.78" r="2.2"/><circle cx="152.39" cy="132.73" r="2.2"/><circle cx="153.73" cy="127.41" r="2.2"/><circle cx="155.42" cy="120.86" r="2.2"/><circle cx="155.92" cy="112.85" r="2.2"/><circle cx="158.12" cy="104.03" r="2.2"/><circle cx="158.79" cy="94.21" r="2.2"/><circle cx="160.67" cy="84.26" r="2.2"/><circle cx="162.53" cy="74.57" r="2.2"/><circle cx="163.42" cy="65.6" r="2.2"/><circle cx="165.04" cy="58.25" r="2.2"/><circle cx="166.4" cy="52.96" r="2.2"/><circle cx="168.08" cy="50.16" r="2.2"/><circle cx="170.67" cy="49.77" r="2.2"/><circle cx="172.04" cy="53.12" r="2.2"/><circle cx="173.25" cy="58.52" r="2.2"/><circle cx="174.97" cy="65.78" r="2.2"/><circle cx="176.15" cy="74.47" r="2.2"/><circle cx="177.94" cy="83.77" r="2.2"/><circle cx="179.1" cy="93.26" r="2.2"/><circle cx="179.98" cy="102.37" r="2.2"/><circle cx="182.07" cy="110.4" r="2.2"/><circle cx="183.34" cy="117.47" r="2.2"/><circle cx="184.81" cy="123.26" r="2.2"/><circle cx="185.83" cy="127.98" r="2.2"/><circle cx="186.99" cy="131.6" r="2.2"/><circle cx="188.81" cy="133.94" r="2.2"/><circle cx="190.45" cy="135.54" r="2.2"/><circle cx="191.11" cy="137.56" r="2.2"/><circle cx="192.85" cy="138.27" r="2.2"/><circle cx="194.07" cy="139.5" r="2.2"/><circle cx="195.18" cy="140.92" r="2.2"/><circle cx="196.94" cy="141.55" r="2.2"/><circle cx="198.27" cy="142.82" r="2.2"/><circle cx="199.56" cy="144.19" r="2.2"/><circle cx="201.1" cy="145.3" r="2.2"/><circle cx="202.21" cy="146.9" r="2.2"/><circle cx="203.91" cy="147.79" r="2.2"/><circle cx="205.12" cy="149.17" r="2.2"/><circle cx="206.5" cy="150.26" r="2.2"/><circle cx="208.07" cy="150.93" r="2.2"/><circle cx="209.45" cy="151.73" r="2.2"/><circle cx="211.01" cy="151.99" r="2.2"/><circle cx="212.2" cy="152.88" r="2.2"/><circle cx="213.44" cy="153.62" r="2.2"/><circle cx="214.76" cy="154.14" r="2.2"/><circle cx="216.15" cy="154.33" r="2.2"/><circle cx="217.5" cy="154.62" r="2.2"/><circle cx="218.89" cy="154.72" r="2.2"/><circle cx="220.25" cy="155.05" r="2.2"/><circle cx="221.59" cy="155.91" r="2.2"/><circle cx="223.05" cy="154.6" r="2.2"/><circle cx="224.42" cy="155.41" r="2.2"/><circle cx="225.83" cy="154.76" r="2.2"/><circle cx="227.22" cy="155.12" r="2.2"/><circle cx="228.62" cy="155.15" r="2.2"/><circle cx="230.02" cy="155.02" r="2.2"/><circle cx="231.41" cy="155.52" r="2.2"/><circle cx="232.81" cy="155.43" r="2.2"/><circle cx="234.2" cy="155.62" r="2.2"/><circle cx="235.61" cy="155.26" r="2.2"/><circle cx="237.01" cy="154.75" r="2.2"/><circle cx="238.41" cy="155.42" r="2.2"/><circle cx="239.81" cy="155.18" r="2.2"/><circle cx="241.2" cy="155.22" r="2.2"/></g>
<path d="M45.6,149.48 L46.1,149.48 L46.6,149.48 L47.1,149.48 L47.6,149.47 L48.1,149.47 L48.6,149.47 L49.1,149.47 L49.6,149.47 L50.1,149.46 L50.6,149.46 L51.1,149.46 L51.6,149.46 L52.1,149.45 L52.6,149.45 L53.1,149.45 L53.6,149.45 L54.1,149.44 L54.6,149.44 L55.1,149.44 L55.6,149.44 L56.1,149.43 L56.6,149.43 L57.1,149.43 L57.6,149.43 L58.1,149.42 L58.6,149.42 L59.1,149.42 L59.6,149.41 L60.1,149.41 L60.6,149.4 L61.1,149.4 L61.6,149.4 L62.1,149.39 L62.6,149.39 L63.1,149.38 L63.6,149.38 L64.1,149.38 L64.6,149.37 L65.1,149.37 L65.6,149.36 L66.1,149.36 L66.6,149.35 L67.1,149.34 L67.6,149.34 L68.1,149.33 L68.6,149.32 L69.1,149.32 L69.6,149.31 L70.1,149.3 L70.6,149.29 L71.1,149.28 L71.6,149.27 L72.1,149.25 L72.6,149.24 L73.1,149.22 L73.6,149.2 L74.1,149.18 L74.6,149.15 L75.1,149.12 L75.6,149.09 L76.1,149.05 L76.6,149.01 L77.1,148.95 L77.6,148.89 L78.1,148.82 L78.6,148.74 L79.1,148.65 L79.6,148.54 L80.1,148.41 L80.6,148.27 L81.1,148.1 L81.6,147.92 L82.1,147.7 L82.6,147.46 L83.1,147.18 L83.6,146.86 L84.1,146.51 L84.6,146.1 L85.1,145.65 L85.6,145.15 L86.1,144.58 L86.6,143.95 L87.1,143.26 L87.6,142.49 L88.1,141.64 L88.6,140.71 L89.1,139.7 L89.6,138.6 L90.1,137.4 L90.6,136.11 L91.1,134.73 L91.6,133.25 L92.1,131.67 L92.6,130 L93.1,128.23 L93.6,126.38 L94.1,124.44 L94.6,122.42 L95.1,120.32 L95.6,118.16 L96.1,115.95 L96.6,113.69 L97.1,111.4 L97.6,109.1 L98.1,106.79 L98.6,104.49 L99.1,102.21 L99.6,99.99 L100.1,97.82 L100.6,95.73 L101.1,93.74 L101.6,91.87 L102.1,90.12 L102.6,88.53 L103.1,87.1 L103.6,85.84 L104.1,84.78 L104.6,83.92 L105.1,83.26 L105.6,82.83 L106.1,82.62 L106.6,82.63 L107.1,82.87 L107.6,83.32 L108.1,83.99 L108.6,84.87 L109.1,85.95 L109.6,87.21 L110.1,88.64 L110.6,90.23 L111.1,91.97 L111.6,93.82 L112.1,95.78 L112.6,97.83 L113.1,99.95 L113.6,102.12 L114.1,104.32 L114.6,106.55 L115.1,108.77 L115.6,110.98 L116.1,113.16 L116.6,115.3 L117.1,117.38 L117.6,119.4 L118.1,121.35 L118.6,123.21 L119.1,124.98 L119.6,126.65 L120.1,128.23 L120.6,129.71 L121.1,131.08 L121.6,132.34 L122.1,133.51 L122.6,134.57 L123.1,135.54 L123.6,136.41 L124.1,137.18 L124.6,137.87 L125.1,138.48 L125.6,139.01 L126.1,139.47 L126.6,139.87 L127.1,140.2 L127.6,140.48 L128.1,140.72 L128.6,140.91 L129.1,141.07 L129.6,141.19 L130.1,141.29 L130.6,141.37 L131.1,141.43 L131.6,141.49 L132.1,141.53 L132.6,141.57 L133.1,141.61 L133.6,141.64 L134.1,141.69 L134.6,141.74 L135.1,141.79 L135.6,141.86 L136.1,141.94 L136.6,142.02 L137.1,142.12 L137.6,142.23 L138.1,142.34 L138.6,142.47 L139.1,142.6 L139.6,142.74 L140.1,142.88 L140.6,143.03 L141.1,143.17 L141.6,143.31 L142.1,143.44 L142.6,143.56 L143.1,143.66 L143.6,143.74 L144.1,143.8 L144.6,143.83 L145.1,143.81 L145.6,143.76 L146.1,143.65 L146.6,143.49 L147.1,143.27 L147.6,142.97 L148.1,142.59 L148.6,142.12 L149.1,141.56 L149.6,140.89 L150.1,140.11 L150.6,139.2 L151.1,138.17 L151.6,137 L152.1,135.68 L152.6,134.21 L153.1,132.58 L153.6,130.8 L154.1,128.84 L154.6,126.72 L155.1,124.44 L155.6,121.98 L156.1,119.37 L156.6,116.59 L157.1,113.67 L157.6,110.61 L158.1,107.41 L158.6,104.11 L159.1,100.7 L159.6,97.22 L160.1,93.67 L160.6,90.09 L161.1,86.51 L161.6,82.93 L162.1,79.4 L162.6,75.95 L163.1,72.59 L163.6,69.37 L164.1,66.31 L164.6,63.44 L165.1,60.78 L165.6,58.38 L166.1,56.24 L166.6,54.39 L167.1,52.86 L167.6,51.66 L168.1,50.81 L168.6,50.3 L169.1,50.16 L169.6,50.37 L170.1,50.93 L170.6,51.84 L171.1,53.09 L171.6,54.66 L172.1,56.52 L172.6,58.67 L173.1,61.07 L173.6,63.69 L174.1,66.51 L174.6,69.51 L175.1,72.64 L175.6,75.88 L176.1,79.21 L176.6,82.58 L177.1,85.98 L177.6,89.37 L178.1,92.73 L178.6,96.04 L179.1,99.28 L179.6,102.43 L180.1,105.46 L180.6,108.38 L181.1,111.16 L181.6,113.79 L182.1,116.27 L182.6,118.6 L183.1,120.77 L183.6,122.79 L184.1,124.65 L184.6,126.35 L185.1,127.91 L185.6,129.33 L186.1,130.62 L186.6,131.78 L187.1,132.83 L187.6,133.76 L188.1,134.61 L188.6,135.36 L189.1,136.04 L189.6,136.65 L190.1,137.2 L190.6,137.71 L191.1,138.17 L191.6,138.6 L192.1,139.01 L192.6,139.4 L193.1,139.77 L193.6,140.14 L194.1,140.51 L194.6,140.87 L195.1,141.24 L195.6,141.62 L196.1,142 L196.6,142.4 L197.1,142.8 L197.6,143.21 L198.1,143.63 L198.6,144.06 L199.1,144.5 L199.6,144.95 L200.1,145.4 L200.6,145.85 L201.1,146.31 L201.6,146.76 L202.1,147.22 L202.6,147.67 L203.1,148.11 L203.6,148.55 L204.1,148.98 L204.6,149.4 L205.1,149.81 L205.6,150.2 L206.1,150.59 L206.6,150.96 L207.1,151.31 L207.6,151.65 L208.1,151.97 L208.6,152.28 L209.1,152.57 L209.6,152.85 L210.1,153.11 L210.6,153.35 L211.1,153.58 L211.6,153.79 L212.1,153.99 L212.6,154.18 L213.1,154.35 L213.6,154.5 L214.1,154.65 L214.6,154.78 L215.1,154.9 L215.6,155.01 L216.1,155.11 L216.6,155.2 L217.1,155.28 L217.6,155.36 L218.1,155.43 L218.6,155.49 L219.1,155.54 L219.6,155.59 L220.1,155.63 L220.6,155.67 L221.1,155.7 L221.6,155.73 L222.1,155.76 L222.6,155.78 L223.1,155.81 L223.6,155.83 L224.1,155.85 L224.6,155.86 L225.1,155.88 L225.6,155.89 L226.1,155.91 L226.6,155.92 L227.1,155.93 L227.6,155.94 L228.1,155.95 L228.6,155.96 L229.1,155.97 L229.6,155.98 L230.1,155.99 L230.6,156 L231.1,156 L231.6,156.01 L232.1,156.02 L232.6,156.02 L233.1,156.03 L233.6,156.04 L234.1,156.04 L234.6,156.05 L235.1,156.05 L235.6,156.06 L236.1,156.06 L236.6,156.07 L237.1,156.07 L237.6,156.08 L238.1,156.08 L238.6,156.08 L239.1,156.09 L239.6,156.09 L240.1,156.09 L240.6,156.1 L241.1,156.1 L241.6,156.1 L242.1,156.1 L242.6,156.11 L243.1,156.11 L243.6,156.11" fill="none" stroke="#4a6cf2" stroke-width="1.5" stroke-linejoin="round"/>
<path d="M70.1,290.6 L70.6,290.59 L71.1,290.58 L71.6,290.57 L72.1,290.56 L72.6,290.54 L73.1,290.52 L73.6,290.5 L74.1,290.48 L74.6,290.45 L75.1,290.42 L75.6,290.38 L76.1,290.34 L76.6,290.29 L77.1,290.23 L77.6,290.16 L78.1,290.08 L78.6,289.99 L79.1,289.88 L79.6,289.76 L80.1,289.62 L80.6,289.45 L81.1,289.27 L81.6,289.06 L82.1,288.82 L82.6,288.55 L83.1,288.24 L83.6,287.9 L84.1,287.51 L84.6,287.08 L85.1,286.6 L85.6,286.07 L86.1,285.47 L86.6,284.82 L87.1,284.1 L87.6,283.31 L88.1,282.45 L88.6,281.52 L89.1,280.5 L89.6,279.41 L90.1,278.23 L90.6,276.97 L91.1,275.63 L91.6,274.21 L92.1,272.7 L92.6,271.11 L93.1,269.45 L93.6,267.71 L94.1,265.9 L94.6,264.04 L95.1,262.12 L95.6,260.15 L96.1,258.15 L96.6,256.12 L97.1,254.07 L97.6,252.02 L98.1,249.99 L98.6,247.97 L99.1,246 L99.6,244.08 L100.1,242.22 L100.6,240.45 L101.1,238.78 L101.6,237.22 L102.1,235.78 L102.6,234.48 L103.1,233.34 L103.6,232.35 L104.1,231.55 L104.6,230.92 L105.1,230.48 L105.6,230.23 L106.1,230.18 L106.6,230.32 L107.1,230.66 L107.6,231.19 L108.1,231.9 L108.6,232.79 L109.1,233.85 L109.6,235.07 L110.1,236.44 L110.6,237.94 L111.1,239.56 L111.6,241.29 L112.1,243.11 L112.6,245 L113.1,246.96 L113.6,248.97 L114.1,251 L114.6,253.06 L115.1,255.12 L115.6,257.17 L116.1,259.2 L116.6,261.21 L117.1,263.17 L117.6,265.08 L118.1,266.94 L118.6,268.73 L119.1,270.45 L119.6,272.1 L120.1,273.67 L120.6,275.16 L121.1,276.56 L121.6,277.88 L122.1,279.12 L122.6,280.27 L123.1,281.35 L123.6,282.34 L124.1,283.26 L124.6,284.1 L125.1,284.87 L125.6,285.58 L126.1,286.22 L126.6,286.8 L127.1,287.33 L127.6,287.8 L128.1,288.22 L128.6,288.6 L129.1,288.94 L129.6,289.24 L130.1,289.51 L130.6,289.75 L131.1,289.96 L131.6,290.14 L132.1,290.3 L132.6,290.45 L133.1,290.57 L133.6,290.68 L134.1,290.78 L134.6,290.86 L135.1,290.94 L135.6,291 L136.1,291.06 L136.6,291.11 L137.1,291.15 L137.6,291.19 L138.1,291.23 L138.6,291.26 L139.1,291.29 L139.6,291.31 L140.1,291.33 L140.6,291.36 L141.1,291.38 L141.6,291.39 L142.1,291.41 L142.1,291.67 L141.6,291.66 L141.1,291.65 L140.6,291.64 L140.1,291.64 L139.6,291.63 L139.1,291.62 L138.6,291.62 L138.1,291.61 L137.6,291.6 L137.1,291.6 L136.6,291.59 L136.1,291.58 L135.6,291.58 L135.1,291.57 L134.6,291.56 L134.1,291.56 L133.6,291.55 L133.1,291.54 L132.6,291.54 L132.1,291.53 L131.6,291.52 L131.1,291.52 L130.6,291.51 L130.1,291.5 L129.6,291.49 L129.1,291.49 L128.6,291.48 L128.1,291.47 L127.6,291.47 L127.1,291.46 L126.6,291.45 L126.1,291.44 L125.6,291.44 L125.1,291.43 L124.6,291.42 L124.1,291.42 L123.6,291.41 L123.1,291.4 L122.6,291.4 L122.1,291.39 L121.6,291.38 L121.1,291.37 L120.6,291.37 L120.1,291.36 L119.6,291.35 L119.1,291.35 L118.6,291.34 L118.1,291.33 L117.6,291.33 L117.1,291.32 L116.6,291.31 L116.1,291.3 L115.6,291.3 L115.1,291.29 L114.6,291.28 L114.1,291.28 L113.6,291.27 L113.1,291.26 L112.6,291.26 L112.1,291.25 L111.6,291.24 L111.1,291.24 L110.6,291.23 L110.1,291.22 L109.6,291.22 L109.1,291.21 L108.6,291.2 L108.1,291.2 L107.6,291.19 L107.1,291.19 L106.6,291.18 L106.1,291.17 L105.6,291.17 L105.1,291.16 L104.6,291.15 L104.1,291.15 L103.6,291.14 L103.1,291.14 L102.6,291.13 L102.1,291.12 L101.6,291.12 L101.1,291.11 L100.6,291.11 L100.1,291.1 L99.6,291.1 L99.1,291.09 L98.6,291.08 L98.1,291.08 L97.6,291.07 L97.1,291.07 L96.6,291.06 L96.1,291.05 L95.6,291.05 L95.1,291.04 L94.6,291.04 L94.1,291.03 L93.6,291.02 L93.1,291.02 L92.6,291.01 L92.1,291.01 L91.6,291 L91.1,291 L90.6,290.99 L90.1,290.98 L89.6,290.98 L89.1,290.97 L88.6,290.97 L88.1,290.96 L87.6,290.96 L87.1,290.95 L86.6,290.95 L86.1,290.94 L85.6,290.94 L85.1,290.93 L84.6,290.93 L84.1,290.93 L83.6,290.92 L83.1,290.92 L82.6,290.92 L82.1,290.91 L81.6,290.91 L81.1,290.91 L80.6,290.9 L80.1,290.9 L79.6,290.9 L79.1,290.9 L78.6,290.89 L78.1,290.89 L77.6,290.89 L77.1,290.89 L76.6,290.88 L76.1,290.88 L75.6,290.88 L75.1,290.88 L74.6,290.88 L74.1,290.87 L73.6,290.87 L73.1,290.87 L72.6,290.87 L72.1,290.87 L71.6,290.86 L71.1,290.86 L70.6,290.86 L70.1,290.86 Z" fill="url(#g5)" stroke="none"/>
<path d="M70.1,290.6 L70.6,290.59 L71.1,290.58 L71.6,290.57 L72.1,290.56 L72.6,290.54 L73.1,290.52 L73.6,290.5 L74.1,290.48 L74.6,290.45 L75.1,290.42 L75.6,290.38 L76.1,290.34 L76.6,290.29 L77.1,290.23 L77.6,290.16 L78.1,290.08 L78.6,289.99 L79.1,289.88 L79.6,289.76 L80.1,289.62 L80.6,289.45 L81.1,289.27 L81.6,289.06 L82.1,288.82 L82.6,288.55 L83.1,288.24 L83.6,287.9 L84.1,287.51 L84.6,287.08 L85.1,286.6 L85.6,286.07 L86.1,285.47 L86.6,284.82 L87.1,284.1 L87.6,283.31 L88.1,282.45 L88.6,281.52 L89.1,280.5 L89.6,279.41 L90.1,278.23 L90.6,276.97 L91.1,275.63 L91.6,274.21 L92.1,272.7 L92.6,271.11 L93.1,269.45 L93.6,267.71 L94.1,265.9 L94.6,264.04 L95.1,262.12 L95.6,260.15 L96.1,258.15 L96.6,256.12 L97.1,254.07 L97.6,252.02 L98.1,249.99 L98.6,247.97 L99.1,246 L99.6,244.08 L100.1,242.22 L100.6,240.45 L101.1,238.78 L101.6,237.22 L102.1,235.78 L102.6,234.48 L103.1,233.34 L103.6,232.35 L104.1,231.55 L104.6,230.92 L105.1,230.48 L105.6,230.23 L106.1,230.18 L106.6,230.32 L107.1,230.66 L107.6,231.19 L108.1,231.9 L108.6,232.79 L109.1,233.85 L109.6,235.07 L110.1,236.44 L110.6,237.94 L111.1,239.56 L111.6,241.29 L112.1,243.11 L112.6,245 L113.1,246.96 L113.6,248.97 L114.1,251 L114.6,253.06 L115.1,255.12 L115.6,257.17 L116.1,259.2 L116.6,261.21 L117.1,263.17 L117.6,265.08 L118.1,266.94 L118.6,268.73 L119.1,270.45 L119.6,272.1 L120.1,273.67 L120.6,275.16 L121.1,276.56 L121.6,277.88 L122.1,279.12 L122.6,280.27 L123.1,281.35 L123.6,282.34 L124.1,283.26 L124.6,284.1 L125.1,284.87 L125.6,285.58 L126.1,286.22 L126.6,286.8 L127.1,287.33 L127.6,287.8 L128.1,288.22 L128.6,288.6 L129.1,288.94 L129.6,289.24 L130.1,289.51 L130.6,289.75 L131.1,289.96 L131.6,290.14 L132.1,290.3 L132.6,290.45 L133.1,290.57 L133.6,290.68 L134.1,290.78 L134.6,290.86 L135.1,290.94 L135.6,291 L136.1,291.06 L136.6,291.11 L137.1,291.15 L137.6,291.19 L138.1,291.23 L138.6,291.26 L139.1,291.29 L139.6,291.31 L140.1,291.33 L140.6,291.36 L141.1,291.38 L141.6,291.39 L142.1,291.41" fill="none" stroke="#ff00ff" stroke-width="1.2" stroke-linejoin="round"/>
<path d="M125.6,291.19 L126.1,291.19 L126.6,291.19 L127.1,291.19 L127.6,291.19 L128.1,291.19 L128.6,291.19 L129.1,291.19 L129.6,291.19 L130.1,291.19 L130.6,291.18 L131.1,291.18 L131.6,291.18 L132.1,291.17 L132.6,291.17 L133.1,291.16 L133.6,291.15 L134.1,291.14 L134.6,291.13 L135.1,291.11 L135.6,291.09 L136.1,291.07 L136.6,291.05 L137.1,291.01 L137.6,290.98 L138.1,290.93 L138.6,290.88 L139.1,290.82 L139.6,290.74 L140.1,290.66 L140.6,290.55 L141.1,290.43 L141.6,290.29 L142.1,290.13 L142.6,289.93 L143.1,289.71 L143.6,289.45 L144.1,289.15 L144.6,288.8 L145.1,288.41 L145.6,287.96 L146.1,287.44 L146.6,286.86 L147.1,286.2 L147.6,285.45 L148.1,284.62 L148.6,283.69 L149.1,282.66 L149.6,281.51 L150.1,280.24 L150.6,278.85 L151.1,277.33 L151.6,275.67 L152.1,273.87 L152.6,271.93 L153.1,269.84 L153.6,267.6 L154.1,265.22 L154.6,262.69 L155.1,260.03 L155.6,257.23 L156.1,254.3 L156.6,251.26 L157.1,248.12 L157.6,244.89 L158.1,241.59 L158.6,238.24 L159.1,234.85 L159.6,231.46 L160.1,228.08 L160.6,224.74 L161.1,221.46 L161.6,218.28 L162.1,215.22 L162.6,212.31 L163.1,209.58 L163.6,207.05 L164.1,204.75 L164.6,202.7 L165.1,200.93 L165.6,199.46 L166.1,198.3 L166.6,197.46 L167.1,196.97 L167.6,196.81 L168.1,197 L168.6,197.54 L169.1,198.41 L169.6,199.6 L170.1,201.11 L170.6,202.92 L171.1,205 L171.6,207.34 L172.1,209.91 L172.6,212.68 L173.1,215.63 L173.6,218.73 L174.1,221.95 L174.6,225.26 L175.1,228.64 L175.6,232.06 L176.1,235.5 L176.6,238.92 L177.1,242.32 L177.6,245.66 L178.1,248.93 L178.6,252.11 L179.1,255.19 L179.6,258.16 L180.1,261 L180.6,263.7 L181.1,266.27 L181.6,268.69 L182.1,270.97 L182.6,273.1 L183.1,275.08 L183.6,276.92 L184.1,278.61 L184.6,280.17 L185.1,281.6 L185.6,282.9 L186.1,284.08 L186.6,285.15 L187.1,286.12 L187.6,286.99 L188.1,287.76 L188.6,288.46 L189.1,289.07 L189.6,289.62 L190.1,290.1 L190.6,290.53 L191.1,290.9 L191.6,291.23 L192.1,291.52 L192.6,291.78 L193.1,292 L193.6,292.2 L194.1,292.37 L194.6,292.52 L195.1,292.66 L195.6,292.78 L196.1,292.88 L196.6,292.97 L197.1,293.06 L197.6,293.13 L198.1,293.2 L198.6,293.26 L199.1,293.31 L199.6,293.36 L200.1,293.41 L200.6,293.46 L201.1,293.5 L201.6,293.53 L202.1,293.57 L202.6,293.6 L203.1,293.64 L203.6,293.67 L204.1,293.7 L204.6,293.72 L205.1,293.75 L205.6,293.78 L206.1,293.8 L206.6,293.82 L207.1,293.85 L207.6,293.87 L208.1,293.89 L208.6,293.91 L209.1,293.92 L209.6,293.94 L209.6,294.19 L209.1,294.18 L208.6,294.17 L208.1,294.16 L207.6,294.14 L207.1,294.13 L206.6,294.12 L206.1,294.1 L205.6,294.08 L205.1,294.07 L204.6,294.05 L204.1,294.03 L203.6,294.01 L203.1,293.99 L202.6,293.97 L202.1,293.95 L201.6,293.93 L201.1,293.91 L200.6,293.89 L200.1,293.87 L199.6,293.85 L199.1,293.82 L198.6,293.8 L198.1,293.78 L197.6,293.75 L197.1,293.73 L196.6,293.71 L196.1,293.68 L195.6,293.66 L195.1,293.64 L194.6,293.61 L194.1,293.59 L193.6,293.57 L193.1,293.54 L192.6,293.52 L192.1,293.5 L191.6,293.47 L191.1,293.45 L190.6,293.43 L190.1,293.4 L189.6,293.38 L189.1,293.36 L188.6,293.34 L188.1,293.31 L187.6,293.29 L187.1,293.26 L186.6,293.24 L186.1,293.21 L185.6,293.19 L185.1,293.16 L184.6,293.13 L184.1,293.11 L183.6,293.08 L183.1,293.05 L182.6,293.02 L182.1,293 L181.6,292.97 L181.1,292.94 L180.6,292.92 L180.1,292.89 L179.6,292.86 L179.1,292.83 L178.6,292.81 L178.1,292.78 L177.6,292.75 L177.1,292.73 L176.6,292.7 L176.1,292.68 L175.6,292.65 L175.1,292.62 L174.6,292.6 L174.1,292.58 L173.6,292.55 L173.1,292.53 L172.6,292.51 L172.1,292.49 L171.6,292.46 L171.1,292.44 L170.6,292.42 L170.1,292.4 L169.6,292.39 L169.1,292.37 L168.6,292.35 L168.1,292.33 L167.6,292.31 L167.1,292.29 L166.6,292.28 L166.1,292.26 L165.6,292.24 L165.1,292.22 L164.6,292.21 L164.1,292.19 L163.6,292.17 L163.1,292.16 L162.6,292.14 L162.1,292.12 L161.6,292.11 L161.1,292.09 L160.6,292.07 L160.1,292.06 L159.6,292.04 L159.1,292.03 L158.6,292.01 L158.1,292 L157.6,291.99 L157.1,291.97 L156.6,291.96 L156.1,291.94 L155.6,291.93 L155.1,291.92 L154.6,291.9 L154.1,291.89 L153.6,291.88 L153.1,291.87 L152.6,291.86 L152.1,291.84 L151.6,291.83 L151.1,291.82 L150.6,291.81 L150.1,291.8 L149.6,291.79 L149.1,291.78 L148.6,291.77 L148.1,291.76 L147.6,291.75 L147.1,291.75 L146.6,291.74 L146.1,291.73 L145.6,291.72 L145.1,291.71 L144.6,291.7 L144.1,291.7 L143.6,291.69 L143.1,291.68 L142.6,291.67 L142.1,291.67 L141.6,291.66 L141.1,291.65 L140.6,291.64 L140.1,291.64 L139.6,291.63 L139.1,291.62 L138.6,291.62 L138.1,291.61 L137.6,291.6 L137.1,291.6 L136.6,291.59 L136.1,291.58 L135.6,291.58 L135.1,291.57 L134.6,291.56 L134.1,291.56 L133.6,291.55 L133.1,291.54 L132.6,291.54 L132.1,291.53 L131.6,291.52 L131.1,291.52 L130.6,291.51 L130.1,291.5 L129.6,291.49 L129.1,291.49 L128.6,291.48 L128.1,291.47 L127.6,291.47 L127.1,291.46 L126.6,291.45 L126.1,291.44 L125.6,291.44 Z" fill="url(#g6)" stroke="none"/>
<path d="M125.6,291.19 L126.1,291.19 L126.6,291.19 L127.1,291.19 L127.6,291.19 L128.1,291.19 L128.6,291.19 L129.1,291.19 L129.6,291.19 L130.1,291.19 L130.6,291.18 L131.1,291.18 L131.6,291.18 L132.1,291.17 L132.6,291.17 L133.1,291.16 L133.6,291.15 L134.1,291.14 L134.6,291.13 L135.1,291.11 L135.6,291.09 L136.1,291.07 L136.6,291.05 L137.1,291.01 L137.6,290.98 L138.1,290.93 L138.6,290.88 L139.1,290.82 L139.6,290.74 L140.1,290.66 L140.6,290.55 L141.1,290.43 L141.6,290.29 L142.1,290.13 L142.6,289.93 L143.1,289.71 L143.6,289.45 L144.1,289.15 L144.6,288.8 L145.1,288.41 L145.6,287.96 L146.1,287.44 L146.6,286.86 L147.1,286.2 L147.6,285.45 L148.1,284.62 L148.6,283.69 L149.1,282.66 L149.6,281.51 L150.1,280.24 L150.6,278.85 L151.1,277.33 L151.6,275.67 L152.1,273.87 L152.6,271.93 L153.1,269.84 L153.6,267.6 L154.1,265.22 L154.6,262.69 L155.1,260.03 L155.6,257.23 L156.1,254.3 L156.6,251.26 L157.1,248.12 L157.6,244.89 L158.1,241.59 L158.6,238.24 L159.1,234.85 L159.6,231.46 L160.1,228.08 L160.6,224.74 L161.1,221.46 L161.6,218.28 L162.1,215.22 L162.6,212.31 L163.1,209.58 L163.6,207.05 L164.1,204.75 L164.6,202.7 L165.1,200.93 L165.6,199.46 L166.1,198.3 L166.6,197.46 L167.1,196.97 L167.6,196.81 L168.1,197 L168.6,197.54 L169.1,198.41 L169.6,199.6 L170.1,201.11 L170.6,202.92 L171.1,205 L171.6,207.34 L172.1,209.91 L172.6,212.68 L173.1,215.63 L173.6,218.73 L174.1,221.95 L174.6,225.26 L175.1,228.64 L175.6,232.06 L176.1,235.5 L176.6,238.92 L177.1,242.32 L177.6,245.66 L178.1,248.93 L178.6,252.11 L179.1,255.19 L179.6,258.16 L180.1,261 L180.6,263.7 L181.1,266.27 L181.6,268.69 L182.1,270.97 L182.6,273.1 L183.1,275.08 L183.6,276.92 L184.1,278.61 L184.6,280.17 L185.1,281.6 L185.6,282.9 L186.1,284.08 L186.6,285.15 L187.1,286.12 L187.6,286.99 L188.1,287.76 L188.6,288.46 L189.1,289.07 L189.6,289.62 L190.1,290.1 L190.6,290.53 L191.1,290.9 L191.6,291.23 L192.1,291.52 L192.6,291.78 L193.1,292 L193.6,292.2 L194.1,292.37 L194.6,292.52 L195.1,292.66 L195.6,292.78 L196.1,292.88 L196.6,292.97 L197.1,293.06 L197.6,293.13 L198.1,293.2 L198.6,293.26 L199.1,293.31 L199.6,293.36 L200.1,293.41 L200.6,293.46 L201.1,293.5 L201.6,293.53 L202.1,293.57 L202.6,293.6 L203.1,293.64 L203.6,293.67 L204.1,293.7 L204.6,293.72 L205.1,293.75 L205.6,293.78 L206.1,293.8 L206.6,293.82 L207.1,293.85 L207.6,293.87 L208.1,293.89 L208.6,293.91 L209.1,293.92 L209.6,293.94" fill="none" stroke="#ff00ff" stroke-width="1.2" stroke-linejoin="round"/>
<path d="M110.1,290.96 L110.6,290.93 L111.1,290.91 L111.6,290.88 L112.1,290.86 L112.6,290.83 L113.1,290.79 L113.6,290.76 L114.1,290.72 L114.6,290.68 L115.1,290.64 L115.6,290.59 L116.1,290.55 L116.6,290.5 L117.1,290.45 L117.6,290.4 L118.1,290.34 L118.6,290.29 L119.1,290.23 L119.6,290.18 L120.1,290.12 L120.6,290.06 L121.1,290 L121.6,289.94 L122.1,289.89 L122.6,289.83 L123.1,289.77 L123.6,289.72 L124.1,289.67 L124.6,289.62 L125.1,289.57 L125.6,289.53 L126.1,289.48 L126.6,289.45 L127.1,289.41 L127.6,289.39 L128.1,289.36 L128.6,289.34 L129.1,289.33 L129.6,289.31 L130.1,289.31 L130.6,289.31 L131.1,289.32 L131.6,289.33 L132.1,289.34 L132.6,289.36 L133.1,289.39 L133.6,289.42 L134.1,289.46 L134.6,289.5 L135.1,289.54 L135.6,289.59 L136.1,289.64 L136.6,289.7 L137.1,289.76 L137.6,289.82 L138.1,289.88 L138.6,289.95 L139.1,290.02 L139.6,290.09 L140.1,290.16 L140.6,290.23 L141.1,290.3 L141.6,290.38 L142.1,290.45 L142.6,290.52 L143.1,290.59 L143.6,290.66 L144.1,290.73 L144.6,290.8 L145.1,290.87 L145.6,290.93 L146.1,290.99 L146.6,291.06 L147.1,291.11 L147.6,291.17 L148.1,291.23 L148.6,291.28 L149.1,291.33 L149.6,291.38 L150.1,291.42 L150.6,291.47 L151.1,291.51 L151.6,291.55 L152.1,291.59 L152.1,291.84 L151.6,291.83 L151.1,291.82 L150.6,291.81 L150.1,291.8 L149.6,291.79 L149.1,291.78 L148.6,291.77 L148.1,291.76 L147.6,291.75 L147.1,291.75 L146.6,291.74 L146.1,291.73 L145.6,291.72 L145.1,291.71 L144.6,291.7 L144.1,291.7 L143.6,291.69 L143.1,291.68 L142.6,291.67 L142.1,291.67 L141.6,291.66 L141.1,291.65 L140.6,291.64 L140.1,291.64 L139.6,291.63 L139.1,291.62 L138.6,291.62 L138.1,291.61 L137.6,291.6 L137.1,291.6 L136.6,291.59 L136.1,291.58 L135.6,291.58 L135.1,291.57 L134.6,291.56 L134.1,291.56 L133.6,291.55 L133.1,291.54 L132.6,291.54 L132.1,291.53 L131.6,291.52 L131.1,291.52 L130.6,291.51 L130.1,291.5 L129.6,291.49 L129.1,291.49 L128.6,291.48 L128.1,291.47 L127.6,291.47 L127.1,291.46 L126.6,291.45 L126.1,291.44 L125.6,291.44 L125.1,291.43 L124.6,291.42 L124.1,291.42 L123.6,291.41 L123.1,291.4 L122.6,291.4 L122.1,291.39 L121.6,291.38 L121.1,291.37 L120.6,291.37 L120.1,291.36 L119.6,291.35 L119.1,291.35 L118.6,291.34 L118.1,291.33 L117.6,291.33 L117.1,291.32 L116.6,291.31 L116.1,291.3 L115.6,291.3 L115.1,291.29 L114.6,291.28 L114.1,291.28 L113.6,291.27 L113.1,291.26 L112.6,291.26 L112.1,291.25 L111.6,291.24 L111.1,291.24 L110.6,291.23 L110.1,291.22 Z" fill="url(#g7)" stroke="none"/>
<path d="M110.1,290.96 L110.6,290.93 L111.1,290.91 L111.6,290.88 L112.1,290.86 L112.6,290.83 L113.1,290.79 L113.6,290.76 L114.1,290.72 L114.6,290.68 L115.1,290.64 L115.6,290.59 L116.1,290.55 L116.6,290.5 L117.1,290.45 L117.6,290.4 L118.1,290.34 L118.6,290.29 L119.1,290.23 L119.6,290.18 L120.1,290.12 L120.6,290.06 L121.1,290 L121.6,289.94 L122.1,289.89 L122.6,289.83 L123.1,289.77 L123.6,289.72 L124.1,289.67 L124.6,289.62 L125.1,289.57 L125.6,289.53 L126.1,289.48 L126.6,289.45 L127.1,289.41 L127.6,289.39 L128.1,289.36 L128.6,289.34 L129.1,289.33 L129.6,289.31 L130.1,289.31 L130.6,289.31 L131.1,289.32 L131.6,289.33 L132.1,289.34 L132.6,289.36 L133.1,289.39 L133.6,289.42 L134.1,289.46 L134.6,289.5 L135.1,289.54 L135.6,289.59 L136.1,289.64 L136.6,289.7 L137.1,289.76 L137.6,289.82 L138.1,289.88 L138.6,289.95 L139.1,290.02 L139.6,290.09 L140.1,290.16 L140.6,290.23 L141.1,290.3 L141.6,290.38 L142.1,290.45 L142.6,290.52 L143.1,290.59 L143.6,290.66 L144.1,290.73 L144.6,290.8 L145.1,290.87 L145.6,290.93 L146.1,290.99 L146.6,291.06 L147.1,291.11 L147.6,291.17 L148.1,291.23 L148.6,291.28 L149.1,291.33 L149.6,291.38 L150.1,291.42 L150.6,291.47 L151.1,291.51 L151.6,291.55 L152.1,291.59" fill="none" stroke="#08a028" stroke-width="1.5" stroke-linejoin="round"/>
<path d="M169.1,292.1 L169.6,292.09 L170.1,292.07 L170.6,292.05 L171.1,292.03 L171.6,292 L172.1,291.97 L172.6,291.94 L173.1,291.91 L173.6,291.87 L174.1,291.82 L174.6,291.78 L175.1,291.73 L175.6,291.67 L176.1,291.62 L176.6,291.56 L177.1,291.49 L177.6,291.43 L178.1,291.36 L178.6,291.29 L179.1,291.21 L179.6,291.14 L180.1,291.06 L180.6,290.99 L181.1,290.91 L181.6,290.83 L182.1,290.76 L182.6,290.69 L183.1,290.62 L183.6,290.55 L184.1,290.48 L184.6,290.42 L185.1,290.37 L185.6,290.32 L186.1,290.28 L186.6,290.24 L187.1,290.21 L187.6,290.19 L188.1,290.18 L188.6,290.17 L189.1,290.17 L189.6,290.18 L190.1,290.2 L190.6,290.23 L191.1,290.27 L191.6,290.32 L192.1,290.38 L192.6,290.44 L193.1,290.51 L193.6,290.59 L194.1,290.68 L194.6,290.78 L195.1,290.88 L195.6,290.99 L196.1,291.1 L196.6,291.21 L197.1,291.33 L197.6,291.46 L198.1,291.58 L198.6,291.71 L199.1,291.83 L199.6,291.96 L200.1,292.08 L200.6,292.21 L201.1,292.33 L201.6,292.45 L202.1,292.57 L202.6,292.69 L203.1,292.8 L203.6,292.9 L204.1,293.01 L204.6,293.11 L205.1,293.2 L205.6,293.29 L206.1,293.38 L206.6,293.46 L207.1,293.53 L207.6,293.6 L208.1,293.67 L208.6,293.73 L209.1,293.79 L209.6,293.84 L210.1,293.89 L210.6,293.93 L210.6,294.21 L210.1,294.2 L209.6,294.19 L209.1,294.18 L208.6,294.17 L208.1,294.16 L207.6,294.14 L207.1,294.13 L206.6,294.12 L206.1,294.1 L205.6,294.08 L205.1,294.07 L204.6,294.05 L204.1,294.03 L203.6,294.01 L203.1,293.99 L202.6,293.97 L202.1,293.95 L201.6,293.93 L201.1,293.91 L200.6,293.89 L200.1,293.87 L199.6,293.85 L199.1,293.82 L198.6,293.8 L198.1,293.78 L197.6,293.75 L197.1,293.73 L196.6,293.71 L196.1,293.68 L195.6,293.66 L195.1,293.64 L194.6,293.61 L194.1,293.59 L193.6,293.57 L193.1,293.54 L192.6,293.52 L192.1,293.5 L191.6,293.47 L191.1,293.45 L190.6,293.43 L190.1,293.4 L189.6,293.38 L189.1,293.36 L188.6,293.34 L188.1,293.31 L187.6,293.29 L187.1,293.26 L186.6,293.24 L186.1,293.21 L185.6,293.19 L185.1,293.16 L184.6,293.13 L184.1,293.11 L183.6,293.08 L183.1,293.05 L182.6,293.02 L182.1,293 L181.6,292.97 L181.1,292.94 L180.6,292.92 L180.1,292.89 L179.6,292.86 L179.1,292.83 L178.6,292.81 L178.1,292.78 L177.6,292.75 L177.1,292.73 L176.6,292.7 L176.1,292.68 L175.6,292.65 L175.1,292.62 L174.6,292.6 L174.1,292.58 L173.6,292.55 L173.1,292.53 L172.6,292.51 L172.1,292.49 L171.6,292.46 L171.1,292.44 L170.6,292.42 L170.1,292.4 L169.6,292.39 L169.1,292.37 Z" fill="url(#g8)" stroke="none"/>
<path d="M169.1,292.1 L169.6,292.09 L170.1,292.07 L170.6,292.05 L171.1,292.03 L171.6,292 L172.1,291.97 L172.6,291.94 L173.1,291.91 L173.6,291.87 L174.1,291.82 L174.6,291.78 L175.1,291.73 L175.6,291.67 L176.1,291.62 L176.6,291.56 L177.1,291.49 L177.6,291.43 L178.1,291.36 L178.6,291.29 L179.1,291.21 L179.6,291.14 L180.1,291.06 L180.6,290.99 L181.1,290.91 L181.6,290.83 L182.1,290.76 L182.6,290.69 L183.1,290.62 L183.6,290.55 L184.1,290.48 L184.6,290.42 L185.1,290.37 L185.6,290.32 L186.1,290.28 L186.6,290.24 L187.1,290.21 L187.6,290.19 L188.1,290.18 L188.6,290.17 L189.1,290.17 L189.6,290.18 L190.1,290.2 L190.6,290.23 L191.1,290.27 L191.6,290.32 L192.1,290.38 L192.6,290.44 L193.1,290.51 L193.6,290.59 L194.1,290.68 L194.6,290.78 L195.1,290.88 L195.6,290.99 L196.1,291.1 L196.6,291.21 L197.1,291.33 L197.6,291.46 L198.1,291.58 L198.6,291.71 L199.1,291.83 L199.6,291.96 L200.1,292.08 L200.6,292.21 L201.1,292.33 L201.6,292.45 L202.1,292.57 L202.6,292.69 L203.1,292.8 L203.6,292.9 L204.1,293.01 L204.6,293.11 L205.1,293.2 L205.6,293.29 L206.1,293.38 L206.6,293.46 L207.1,293.53 L207.6,293.6 L208.1,293.67 L208.6,293.73 L209.1,293.79 L209.6,293.84 L210.1,293.89 L210.6,293.93" fill="none" stroke="#08a028" stroke-width="1.5" stroke-linejoin="round"/>
<path d="M45.6,290.8 L46.1,290.8 L46.6,290.8 L47.1,290.8 L47.6,290.8 L48.1,290.8 L48.6,290.8 L49.1,290.8 L49.6,290.8 L50.1,290.8 L50.6,290.8 L51.1,290.8 L51.6,290.8 L52.1,290.81 L52.6,290.81 L53.1,290.81 L53.6,290.81 L54.1,290.81 L54.6,290.81 L55.1,290.81 L55.6,290.81 L56.1,290.81 L56.6,290.81 L57.1,290.82 L57.6,290.82 L58.1,290.82 L58.6,290.82 L59.1,290.82 L59.6,290.82 L60.1,290.82 L60.6,290.82 L61.1,290.83 L61.6,290.83 L62.1,290.83 L62.6,290.83 L63.1,290.83 L63.6,290.83 L64.1,290.84 L64.6,290.84 L65.1,290.84 L65.6,290.84 L66.1,290.84 L66.6,290.84 L67.1,290.85 L67.6,290.85 L68.1,290.85 L68.6,290.85 L69.1,290.85 L69.6,290.85 L70.1,290.86 L70.6,290.86 L71.1,290.86 L71.6,290.86 L72.1,290.87 L72.6,290.87 L73.1,290.87 L73.6,290.87 L74.1,290.87 L74.6,290.88 L75.1,290.88 L75.6,290.88 L76.1,290.88 L76.6,290.88 L77.1,290.89 L77.6,290.89 L78.1,290.89 L78.6,290.89 L79.1,290.9 L79.6,290.9 L80.1,290.9 L80.6,290.9 L81.1,290.91 L81.6,290.91 L82.1,290.91 L82.6,290.92 L83.1,290.92 L83.6,290.92 L84.1,290.93 L84.6,290.93 L85.1,290.93 L85.6,290.94 L86.1,290.94 L86.6,290.95 L87.1,290.95 L87.6,290.96 L88.1,290.96 L88.6,290.97 L89.1,290.97 L89.6,290.98 L90.1,290.98 L90.6,290.99 L91.1,291 L91.6,291 L92.1,291.01 L92.6,291.01 L93.1,291.02 L93.6,291.02 L94.1,291.03 L94.6,291.04 L95.1,291.04 L95.6,291.05 L96.1,291.05 L96.6,291.06 L97.1,291.07 L97.6,291.07 L98.1,291.08 L98.6,291.08 L99.1,291.09 L99.6,291.1 L100.1,291.1 L100.6,291.11 L101.1,291.11 L101.6,291.12 L102.1,291.12 L102.6,291.13 L103.1,291.14 L103.6,291.14 L104.1,291.15 L104.6,291.15 L105.1,291.16 L105.6,291.17 L106.1,291.17 L106.6,291.18 L107.1,291.19 L107.6,291.19 L108.1,291.2 L108.6,291.2 L109.1,291.21 L109.6,291.22 L110.1,291.22 L110.6,291.23 L111.1,291.24 L111.6,291.24 L112.1,291.25 L112.6,291.26 L113.1,291.26 L113.6,291.27 L114.1,291.28 L114.6,291.28 L115.1,291.29 L115.6,291.3 L116.1,291.3 L116.6,291.31 L117.1,291.32 L117.6,291.33 L118.1,291.33 L118.6,291.34 L119.1,291.35 L119.6,291.35 L120.1,291.36 L120.6,291.37 L121.1,291.37 L121.6,291.38 L122.1,291.39 L122.6,291.4 L123.1,291.4 L123.6,291.41 L124.1,291.42 L124.6,291.42 L125.1,291.43 L125.6,291.44 L126.1,291.44 L126.6,291.45 L127.1,291.46 L127.6,291.47 L128.1,291.47 L128.6,291.48 L129.1,291.49 L129.6,291.49 L130.1,291.5 L130.6,291.51 L131.1,291.52 L131.6,291.52 L132.1,291.53 L132.6,291.54 L133.1,291.54 L133.6,291.55 L134.1,291.56 L134.6,291.56 L135.1,291.57 L135.6,291.58 L136.1,291.58 L136.6,291.59 L137.1,291.6 L137.6,291.6 L138.1,291.61 L138.6,291.62 L139.1,291.62 L139.6,291.63 L140.1,291.64 L140.6,291.64 L141.1,291.65 L141.6,291.66 L142.1,291.67 L142.6,291.67 L143.1,291.68 L143.6,291.69 L144.1,291.7 L144.6,291.7 L145.1,291.71 L145.6,291.72 L146.1,291.73 L146.6,291.74 L147.1,291.75 L147.6,291.75 L148.1,291.76 L148.6,291.77 L149.1,291.78 L149.6,291.79 L150.1,291.8 L150.6,291.81 L151.1,291.82 L151.6,291.83 L152.1,291.84 L152.6,291.86 L153.1,291.87 L153.6,291.88 L154.1,291.89 L154.6,291.9 L155.1,291.92 L155.6,291.93 L156.1,291.94 L156.6,291.96 L157.1,291.97 L157.6,291.99 L158.1,292 L158.6,292.01 L159.1,292.03 L159.6,292.04 L160.1,292.06 L160.6,292.07 L161.1,292.09 L161.6,292.11 L162.1,292.12 L162.6,292.14 L163.1,292.16 L163.6,292.17 L164.1,292.19 L164.6,292.21 L165.1,292.22 L165.6,292.24 L166.1,292.26 L166.6,292.28 L167.1,292.29 L167.6,292.31 L168.1,292.33 L168.6,292.35 L169.1,292.37 L169.6,292.39 L170.1,292.4 L170.6,292.42 L171.1,292.44 L171.6,292.46 L172.1,292.49 L172.6,292.51 L173.1,292.53 L173.6,292.55 L174.1,292.58 L174.6,292.6 L175.1,292.62 L175.6,292.65 L176.1,292.68 L176.6,292.7 L177.1,292.73 L177.6,292.75 L178.1,292.78 L178.6,292.81 L179.1,292.83 L179.6,292.86 L180.1,292.89 L180.6,292.92 L181.1,292.94 L181.6,292.97 L182.1,293 L182.6,293.02 L183.1,293.05 L183.6,293.08 L184.1,293.11 L184.6,293.13 L185.1,293.16 L185.6,293.19 L186.1,293.21 L186.6,293.24 L187.1,293.26 L187.6,293.29 L188.1,293.31 L188.6,293.34 L189.1,293.36 L189.6,293.38 L190.1,293.4 L190.6,293.43 L191.1,293.45 L191.6,293.47 L192.1,293.5 L192.6,293.52 L193.1,293.54 L193.6,293.57 L194.1,293.59 L194.6,293.61 L195.1,293.64 L195.6,293.66 L196.1,293.68 L196.6,293.71 L197.1,293.73 L197.6,293.75 L198.1,293.78 L198.6,293.8 L199.1,293.82 L199.6,293.85 L200.1,293.87 L200.6,293.89 L201.1,293.91 L201.6,293.93 L202.1,293.95 L202.6,293.97 L203.1,293.99 L203.6,294.01 L204.1,294.03 L204.6,294.05 L205.1,294.07 L205.6,294.08 L206.1,294.1 L206.6,294.12 L207.1,294.13 L207.6,294.14 L208.1,294.16 L208.6,294.17 L209.1,294.18 L209.6,294.19 L210.1,294.2 L210.6,294.21 L211.1,294.22 L211.6,294.23 L212.1,294.24 L212.6,294.25 L213.1,294.26 L213.6,294.27 L214.1,294.28 L214.6,294.28 L215.1,294.29 L215.6,294.3 L216.1,294.31 L216.6,294.32 L217.1,294.33 L217.6,294.34 L218.1,294.34 L218.6,294.35 L219.1,294.36 L219.6,294.37 L220.1,294.38 L220.6,294.39 L221.1,294.39 L221.6,294.4 L222.1,294.41 L222.6,294.42 L223.1,294.42 L223.6,294.43 L224.1,294.44 L224.6,294.45 L225.1,294.45 L225.6,294.46 L226.1,294.47 L226.6,294.47 L227.1,294.48 L227.6,294.48 L228.1,294.49 L228.6,294.5 L229.1,294.5 L229.6,294.51 L230.1,294.51 L230.6,294.52 L231.1,294.52 L231.6,294.53 L232.1,294.53 L232.6,294.54 L233.1,294.54 L233.6,294.55 L234.1,294.55 L234.6,294.56 L235.1,294.56 L235.6,294.57 L236.1,294.57 L236.6,294.57 L237.1,294.58 L237.6,294.58 L238.1,294.58 L238.6,294.58 L239.1,294.59 L239.6,294.59 L240.1,294.59 L240.6,294.59 L241.1,294.59 L241.6,294.6 L242.1,294.6 L242.6,294.6 L243.1,294.6 L243.6,294.6" fill="none" stroke="#08a028" stroke-width="1.5"/>
<g fill="none" stroke="#808080" stroke-width="0.8"><circle cx="46.6" cy="289.85" r="2.2"/><circle cx="48" cy="289.95" r="2.2"/><circle cx="49.4" cy="289.51" r="2.2"/><circle cx="50.8" cy="289.86" r="2.2"/><circle cx="52.2" cy="290.03" r="2.2"/><circle cx="53.6" cy="290.4" r="2.2"/><circle cx="55" cy="289.56" r="2.2"/><circle cx="56.4" cy="289.64" r="2.2"/><circle cx="57.8" cy="289.78" r="2.2"/><circle cx="59.2" cy="289.9" r="2.2"/><circle cx="60.59" cy="289.38" r="2.2"/><circle cx="62" cy="289.84" r="2.2"/><circle cx="63.4" cy="290.01" r="2.2"/><circle cx="64.79" cy="289.65" r="2.2"/><circle cx="66.19" cy="289.9" r="2.2"/><circle cx="67.59" cy="289.8" r="2.2"/><circle cx="68.99" cy="289.88" r="2.2"/><circle cx="70.39" cy="289.81" r="2.2"/><circle cx="71.79" cy="290.19" r="2.2"/><circle cx="73.18" cy="289.92" r="2.2"/><circle cx="74.57" cy="289.83" r="2.2"/><circle cx="75.88" cy="289.04" r="2.2"/><circle cx="77.31" cy="289.52" r="2.2"/><circle cx="78.63" cy="289.1" r="2.2"/><circle cx="79.92" cy="288.63" r="2.2"/><circle cx="81.3" cy="288.34" r="2.2"/><circle cx="82.74" cy="287.83" r="2.2"/><circle cx="84.12" cy="286.87" r="2.2"/><circle cx="84.9" cy="284.99" r="2.2"/><circle cx="86.26" cy="283.26" r="2.2"/><circle cx="87.82" cy="281.04" r="2.2"/><circle cx="88.72" cy="277.86" r="2.2"/><circle cx="90.81" cy="274.49" r="2.2"/><circle cx="92.02" cy="270.13" r="2.2"/><circle cx="93.15" cy="265.16" r="2.2"/><circle cx="95.07" cy="259.92" r="2.2"/><circle cx="96.14" cy="254.17" r="2.2"/><circle cx="97.56" cy="248.46" r="2.2"/><circle cx="99.11" cy="243.03" r="2.2"/><circle cx="100.38" cy="238.07" r="2.2"/><circle cx="101.72" cy="233.97" r="2.2"/><circle cx="103.18" cy="230.99" r="2.2"/><circle cx="105.27" cy="229.85" r="2.2"/><circle cx="106.91" cy="230.01" r="2.2"/><circle cx="109.1" cy="231.22" r="2.2"/><circle cx="110.3" cy="234.42" r="2.2"/><circle cx="111.66" cy="238.57" r="2.2"/><circle cx="113.36" cy="243.42" r="2.2"/><circle cx="114.64" cy="248.88" r="2.2"/><circle cx="115.64" cy="254.59" r="2.2"/><circle cx="117.32" cy="260.03" r="2.2"/><circle cx="118.8" cy="265.18" r="2.2"/><circle cx="120.48" cy="269.75" r="2.2"/><circle cx="121.85" cy="273.79" r="2.2"/><circle cx="123.07" cy="277.23" r="2.2"/><circle cx="124.2" cy="280.09" r="2.2"/><circle cx="125.33" cy="282.39" r="2.2"/><circle cx="127.15" cy="283.61" r="2.2"/><circle cx="128.33" cy="284.91" r="2.2"/><circle cx="129.34" cy="286.29" r="2.2"/><circle cx="130.93" cy="286.44" r="2.2"/><circle cx="132.2" cy="287.07" r="2.2"/><circle cx="133.6" cy="287.27" r="2.2"/><circle cx="134.89" cy="287.88" r="2.2"/><circle cx="136.33" cy="287.69" r="2.2"/><circle cx="137.71" cy="287.58" r="2.2"/><circle cx="139.04" cy="287.67" r="2.2"/><circle cx="140.36" cy="288.15" r="2.2"/><circle cx="141.53" cy="287.17" r="2.2"/><circle cx="142.77" cy="287.15" r="2.2"/><circle cx="144.16" cy="286.96" r="2.2"/><circle cx="145.53" cy="286.1" r="2.2"/><circle cx="147.05" cy="284.72" r="2.2"/><circle cx="148" cy="282.21" r="2.2"/><circle cx="149.59" cy="279.2" r="2.2"/><circle cx="150.85" cy="275.01" r="2.2"/><circle cx="152.46" cy="269.77" r="2.2"/><circle cx="153.92" cy="263.31" r="2.2"/><circle cx="155.03" cy="255.68" r="2.2"/><circle cx="156.86" cy="247.21" r="2.2"/><circle cx="158" cy="237.96" r="2.2"/><circle cx="158.96" cy="228.43" r="2.2"/><circle cx="160.17" cy="219.2" r="2.2"/><circle cx="161.9" cy="210.89" r="2.2"/><circle cx="163.64" cy="204.03" r="2.2"/><circle cx="164.89" cy="198.99" r="2.2"/><circle cx="166.5" cy="196.21" r="2.2"/><circle cx="168.96" cy="196.49" r="2.2"/><circle cx="170.83" cy="199.46" r="2.2"/><circle cx="171.97" cy="204.8" r="2.2"/><circle cx="173.58" cy="211.87" r="2.2"/><circle cx="174.25" cy="220.45" r="2.2"/><circle cx="176.52" cy="229.51" r="2.2"/><circle cx="177.27" cy="238.97" r="2.2"/><circle cx="178.66" cy="247.99" r="2.2"/><circle cx="180.15" cy="256.28" r="2.2"/><circle cx="181.95" cy="263.49" r="2.2"/><circle cx="183.3" cy="269.67" r="2.2"/><circle cx="184.22" cy="274.84" r="2.2"/><circle cx="186.46" cy="278.5" r="2.2"/><circle cx="187.37" cy="281.71" r="2.2"/><circle cx="188.7" cy="283.95" r="2.2"/><circle cx="190.4" cy="285.22" r="2.2"/><circle cx="191.01" cy="287.18" r="2.2"/><circle cx="192.41" cy="288.08" r="2.2"/><circle cx="194.06" cy="288.25" r="2.2"/><circle cx="195.15" cy="289.46" r="2.2"/><circle cx="196.82" cy="289.22" r="2.2"/><circle cx="198.11" cy="289.95" r="2.2"/><circle cx="199.53" cy="290.25" r="2.2"/><circle cx="200.8" cy="291.05" r="2.2"/><circle cx="202.13" cy="291.63" r="2.2"/><circle cx="203.64" cy="291.46" r="2.2"/><circle cx="204.91" cy="292.26" r="2.2"/><circle cx="206.32" cy="292.39" r="2.2"/><circle cx="207.72" cy="292.53" r="2.2"/><circle cx="209.06" cy="293.02" r="2.2"/><circle cx="210.48" cy="292.85" r="2.2"/><circle cx="211.91" cy="292.41" r="2.2"/><circle cx="213.24" cy="293.3" r="2.2"/><circle cx="214.63" cy="293.34" r="2.2"/><circle cx="216.04" cy="293.24" r="2.2"/><circle cx="217.44" cy="293.1" r="2.2"/><circle cx="218.83" cy="293.26" r="2.2"/><circle cx="220.22" cy="293.59" r="2.2"/><circle cx="221.62" cy="293.48" r="2.2"/><circle cx="223.02" cy="293.37" r="2.2"/><circle cx="224.41" cy="293.88" r="2.2"/><circle cx="225.81" cy="293.9" r="2.2"/><circle cx="227.21" cy="293.62" r="2.2"/><circle cx="228.61" cy="293.52" r="2.2"/><circle cx="230.01" cy="293.62" r="2.2"/><circle cx="231.41" cy="293.71" r="2.2"/><circle cx="232.81" cy="293.69" r="2.2"/><circle cx="234.21" cy="293.6" r="2.2"/><circle cx="235.61" cy="293.58" r="2.2"/><circle cx="237.01" cy="293.7" r="2.2"/><circle cx="238.41" cy="293.51" r="2.2"/><circle cx="239.81" cy="293.54" r="2.2"/><circle cx="241.2" cy="293.61" r="2.2"/></g>
<path d="M45.6,290.68 L46.1,290.68 L46.6,290.68 L47.1,290.67 L47.6,290.67 L48.1,290.67 L48.6,290.67 L49.1,290.67 L49.6,290.67 L50.1,290.67 L50.6,290.66 L51.1,290.66 L51.6,290.66 L52.1,290.66 L52.6,290.66 L53.1,290.66 L53.6,290.65 L54.1,290.65 L54.6,290.65 L55.1,290.65 L55.6,290.65 L56.1,290.65 L56.6,290.64 L57.1,290.64 L57.6,290.64 L58.1,290.64 L58.6,290.64 L59.1,290.64 L59.6,290.63 L60.1,290.63 L60.6,290.63 L61.1,290.63 L61.6,290.62 L62.1,290.62 L62.6,290.62 L63.1,290.62 L63.6,290.61 L64.1,290.61 L64.6,290.61 L65.1,290.6 L65.6,290.6 L66.1,290.6 L66.6,290.59 L67.1,290.59 L67.6,290.58 L68.1,290.58 L68.6,290.57 L69.1,290.57 L69.6,290.56 L70.1,290.55 L70.6,290.54 L71.1,290.53 L71.6,290.52 L72.1,290.51 L72.6,290.49 L73.1,290.47 L73.6,290.45 L74.1,290.43 L74.6,290.4 L75.1,290.36 L75.6,290.33 L76.1,290.28 L76.6,290.23 L77.1,290.17 L77.6,290.1 L78.1,290.02 L78.6,289.93 L79.1,289.82 L79.6,289.7 L80.1,289.56 L80.6,289.39 L81.1,289.21 L81.6,289 L82.1,288.76 L82.6,288.49 L83.1,288.18 L83.6,287.84 L84.1,287.45 L84.6,287.02 L85.1,286.53 L85.6,286 L86.1,285.4 L86.6,284.75 L87.1,284.03 L87.6,283.24 L88.1,282.38 L88.6,281.44 L89.1,280.43 L89.6,279.33 L90.1,278.16 L90.6,276.9 L91.1,275.55 L91.6,274.13 L92.1,272.62 L92.6,271.03 L93.1,269.36 L93.6,267.62 L94.1,265.82 L94.6,263.95 L95.1,262.03 L95.6,260.06 L96.1,258.05 L96.6,256.02 L97.1,253.97 L97.6,251.92 L98.1,249.88 L98.6,247.86 L99.1,245.89 L99.6,243.96 L100.1,242.1 L100.6,240.32 L101.1,238.64 L101.6,237.08 L102.1,235.63 L102.6,234.33 L103.1,233.17 L103.6,232.18 L104.1,231.36 L104.6,230.73 L105.1,230.27 L105.6,230.01 L106.1,229.94 L106.6,230.07 L107.1,230.39 L107.6,230.9 L108.1,231.6 L108.6,232.46 L109.1,233.5 L109.6,234.69 L110.1,236.03 L110.6,237.5 L111.1,239.09 L111.6,240.78 L112.1,242.57 L112.6,244.42 L113.1,246.34 L113.6,248.3 L114.1,250.29 L114.6,252.29 L115.1,254.3 L115.6,256.3 L116.1,258.28 L116.6,260.22 L117.1,262.12 L117.6,263.98 L118.1,265.77 L118.6,267.49 L119.1,269.15 L119.6,270.73 L120.1,272.23 L120.6,273.65 L121.1,274.98 L121.6,276.23 L122.1,277.4 L122.6,278.49 L123.1,279.49 L123.6,280.42 L124.1,281.28 L124.6,282.06 L125.1,282.77 L125.6,283.42 L126.1,284 L126.6,284.53 L127.1,285.01 L127.6,285.44 L128.1,285.83 L128.6,286.17 L129.1,286.48 L129.6,286.76 L130.1,287 L130.6,287.23 L131.1,287.42 L131.6,287.6 L132.1,287.76 L132.6,287.9 L133.1,288.03 L133.6,288.15 L134.1,288.26 L134.6,288.36 L135.1,288.45 L135.6,288.53 L136.1,288.61 L136.6,288.67 L137.1,288.73 L137.6,288.78 L138.1,288.82 L138.6,288.86 L139.1,288.88 L139.6,288.88 L140.1,288.88 L140.6,288.85 L141.1,288.81 L141.6,288.75 L142.1,288.66 L142.6,288.54 L143.1,288.39 L143.6,288.2 L144.1,287.97 L144.6,287.69 L145.1,287.35 L145.6,286.96 L146.1,286.51 L146.6,285.98 L147.1,285.38 L147.6,284.69 L148.1,283.9 L148.6,283.02 L149.1,282.03 L149.6,280.92 L150.1,279.7 L150.6,278.34 L151.1,276.86 L151.6,275.23 L152.1,273.46 L152.6,271.55 L153.1,269.48 L153.6,267.27 L154.1,264.91 L154.6,262.4 L155.1,259.76 L155.6,256.97 L156.1,254.07 L156.6,251.04 L157.1,247.91 L157.6,244.69 L158.1,241.4 L158.6,238.05 L159.1,234.68 L159.6,231.29 L160.1,227.91 L160.6,224.57 L161.1,221.3 L161.6,218.12 L162.1,215.06 L162.6,212.15 L163.1,209.41 L163.6,206.88 L164.1,204.57 L164.6,202.52 L165.1,200.74 L165.6,199.25 L166.1,198.08 L166.6,197.23 L167.1,196.72 L167.6,196.54 L168.1,196.71 L168.6,197.22 L169.1,198.06 L169.6,199.23 L170.1,200.7 L170.6,202.47 L171.1,204.51 L171.6,206.8 L172.1,209.32 L172.6,212.04 L173.1,214.93 L173.6,217.97 L174.1,221.12 L174.6,224.37 L175.1,227.68 L175.6,231.02 L176.1,234.37 L176.6,237.71 L177.1,241.02 L177.6,244.27 L178.1,247.45 L178.6,250.53 L179.1,253.51 L179.6,256.38 L180.1,259.11 L180.6,261.72 L181.1,264.18 L181.6,266.5 L182.1,268.67 L182.6,270.7 L183.1,272.59 L183.6,274.33 L184.1,275.94 L184.6,277.41 L185.1,278.76 L185.6,279.99 L186.1,281.1 L186.6,282.11 L187.1,283.02 L187.6,283.84 L188.1,284.58 L188.6,285.24 L189.1,285.84 L189.6,286.37 L190.1,286.85 L190.6,287.29 L191.1,287.68 L191.6,288.04 L192.1,288.36 L192.6,288.66 L193.1,288.93 L193.6,289.19 L194.1,289.42 L194.6,289.65 L195.1,289.86 L195.6,290.06 L196.1,290.25 L196.6,290.44 L197.1,290.62 L197.6,290.79 L198.1,290.96 L198.6,291.12 L199.1,291.28 L199.6,291.44 L200.1,291.59 L200.6,291.74 L201.1,291.88 L201.6,292.02 L202.1,292.15 L202.6,292.28 L203.1,292.4 L203.6,292.52 L204.1,292.64 L204.6,292.75 L205.1,292.85 L205.6,292.95 L206.1,293.04 L206.6,293.13 L207.1,293.21 L207.6,293.29 L208.1,293.37 L208.6,293.43 L209.1,293.5 L209.6,293.56 L210.1,293.61 L210.6,293.66 L211.1,293.71 L211.6,293.75 L212.1,293.79 L212.6,293.83 L213.1,293.86 L213.6,293.89 L214.1,293.93 L214.6,293.95 L215.1,293.98 L215.6,294 L216.1,294.03 L216.6,294.05 L217.1,294.07 L217.6,294.09 L218.1,294.11 L218.6,294.12 L219.1,294.14 L219.6,294.16 L220.1,294.17 L220.6,294.18 L221.1,294.2 L221.6,294.21 L222.1,294.22 L222.6,294.23 L223.1,294.25 L223.6,294.26 L224.1,294.27 L224.6,294.28 L225.1,294.29 L225.6,294.3 L226.1,294.31 L226.6,294.32 L227.1,294.33 L227.6,294.33 L228.1,294.34 L228.6,294.35 L229.1,294.36 L229.6,294.37 L230.1,294.38 L230.6,294.38 L231.1,294.39 L231.6,294.4 L232.1,294.4 L232.6,294.41 L233.1,294.42 L233.6,294.42 L234.1,294.43 L234.6,294.44 L235.1,294.44 L235.6,294.45 L236.1,294.45 L236.6,294.46 L237.1,294.46 L237.6,294.47 L238.1,294.47 L238.6,294.47 L239.1,294.48 L239.6,294.48 L240.1,294.48 L240.6,294.49 L241.1,294.49 L241.6,294.49 L242.1,294.5 L242.6,294.5 L243.1,294.5 L243.6,294.5" fill="none" stroke="#2446f8" stroke-width="1.8" stroke-linejoin="round"/>
<line x1="47.7" y1="32.4" x2="73.2" y2="32.4" stroke="#ff33ff" stroke-width="1.6" />
<line x1="47.7" y1="48.4" x2="73.2" y2="48.4" stroke="#0a9a2a" stroke-width="1.6" />
<text x="75.8" y="36.2" font-size="11.2" fill="#ff33ff" stroke="#ff33ff" stroke-width="0.12">Mo<tspan font-size="7.6" dy="-4.6">6+</tspan></text>
<text x="75.8" y="52.2" font-size="11.2" fill="#0a9a2a" stroke="#0a9a2a" stroke-width="0.12">Mo<tspan font-size="7.6" dy="-4.6">5+</tspan></text>
<line x1="47.7" y1="172.7" x2="73.2" y2="172.7" stroke="#ff33ff" stroke-width="1.6" />
<line x1="47.7" y1="188.7" x2="73.2" y2="188.7" stroke="#0a9a2a" stroke-width="1.6" />
<text x="75.8" y="176.8" font-size="11.2" fill="#ff33ff" stroke="#ff33ff" stroke-width="0.12">Mo<tspan font-size="7.6" dy="-4.6">6+</tspan></text>
<text x="75.8" y="192.8" font-size="11.2" fill="#0a9a2a" stroke="#0a9a2a" stroke-width="0.12">Mo<tspan font-size="7.6" dy="-4.6">5+</tspan></text>
<text x="90.9" y="74.7" font-size="11" fill="#111" stroke="#111" stroke-width="0.12">Mo 3d<tspan font-size="7.2" dy="3.0">3/2</tspan></text>
<text x="153" y="43.7" font-size="11" fill="#111" stroke="#111" stroke-width="0.12">Mo 3d<tspan font-size="7.2" dy="3.0">5/2</tspan></text>
<text x="91" y="221.8" font-size="11" fill="#111" stroke="#111" stroke-width="0.12">Mo 3d<tspan font-size="7.2" dy="3.0">3/2</tspan></text>
<text x="149.8" y="189.8" font-size="11" fill="#111" stroke="#111" stroke-width="0.12">Mo 3d<tspan font-size="7.2" dy="3.0">5/2</tspan></text>
<text x="176.3" y="61.2" font-size="10.4" fill="#ff2020" stroke="#ff2020" stroke-width="0.22">&#945;-MoO<tspan font-size="7.4" dy="3.2">3</tspan><tspan dy="-3.2">/Mxene</tspan></text>
<text x="205.5" y="198.6" font-size="10.4" fill="#ff2020" stroke="#ff2020" stroke-width="0.22">&#945;-MoO<tspan font-size="7.4" dy="3.2">3</tspan></text>
<text x="192" y="117.7" font-size="10.8" fill="#111" stroke="#111" stroke-width="0.12" text-anchor="start" >17.2%</text>
<text x="190.7" y="266.9" font-size="10.8" fill="#111" stroke="#111" stroke-width="0.12" text-anchor="start" >5.0%</text>
<line x1="199.5" y1="141.1" x2="205.79" y2="127.82" stroke="#222" stroke-width="1.1" />
<path d="M207.5,124.2 L207.26,129.62 L203.46,127.82 Z" fill="#222"/>
<line x1="197.2" y1="287" x2="201.03" y2="274.43" stroke="#222" stroke-width="1.1" />
<path d="M202.2,270.6 L202.75,276 L198.73,274.77 Z" fill="#222"/>
<path d="M336.4,126.91 L336.9,126.93 L337.4,126.94 L337.9,126.96 L338.4,126.97 L338.9,126.99 L339.4,127.01 L339.9,127.02 L340.4,127.05 L340.9,127.07 L341.4,127.1 L341.9,127.13 L342.4,127.17 L342.9,127.21 L343.4,127.25 L343.9,127.29 L344.4,127.34 L344.9,127.39 L345.4,127.44 L345.9,127.5 L346.4,127.55 L346.9,127.61 L347.4,127.67 L347.9,127.72 L348.4,127.78 L348.9,127.84 L349.4,127.9 L349.9,127.95 L350.4,128.01 L350.9,128.07 L351.4,128.13 L351.9,128.2 L352.4,128.26 L352.9,128.33 L353.4,128.4 L353.9,128.47 L354.4,128.55 L354.9,128.62 L355.4,128.69 L355.9,128.77 L356.4,128.84 L356.9,128.92 L357.4,128.99 L357.9,129.07 L358.4,129.14 L358.9,129.22 L359.4,129.29 L359.9,129.36 L360.4,129.43 L360.9,129.5 L361.4,129.56 L361.9,129.63 L362.4,129.7 L362.9,129.77 L363.4,129.84 L363.9,129.91 L364.4,129.97 L364.9,130.04 L365.4,130.11 L365.9,130.18 L366.4,130.24 L366.9,130.31 L367.4,130.38 L367.9,130.45 L368.4,130.52 L368.9,130.59 L369.4,130.65 L369.9,130.72 L370.4,130.79 L370.9,130.86 L371.4,130.93 L371.9,131 L372.4,131.07 L372.9,131.13 L373.4,131.2 L373.9,131.27 L374.4,131.34 L374.9,131.41 L375.4,131.48 L375.9,131.54 L376.4,131.61 L376.9,131.68 L377.4,131.75 L377.9,131.82 L378.4,131.9 L378.9,131.97 L379.4,132.04 L379.9,132.11 L380.4,132.19 L380.9,132.26 L381.4,132.34 L381.9,132.42 L382.4,132.5 L382.9,132.59 L383.4,132.67 L383.9,132.75 L384.4,132.84 L384.9,132.92 L385.4,133 L385.9,133.08 L386.4,133.16 L386.9,133.24 L387.4,133.32 L387.9,133.39 L388.4,133.47 L388.9,133.54 L389.4,133.6 L389.9,133.67 L390.4,133.73 L390.9,133.79 L391.4,133.84 L391.9,133.89 L392.4,133.95 L392.9,134 L393.4,134.04 L393.9,134.09 L394.4,134.13 L394.9,134.17 L395.4,134.21 L395.9,134.25 L396.4,134.29 L396.9,134.32 L397.4,134.35 L397.9,134.38 L398.4,134.41 L398.9,134.43 L399.4,134.45 L399.9,134.47 L400.4,134.48 L400.9,134.49 L401.4,134.5 L401.9,134.49 L402.4,134.49 L402.9,134.47 L403.4,134.45 L403.9,134.42 L404.4,134.38 L404.9,134.33 L405.4,134.27 L405.9,134.2 L406.4,134.11 L406.9,134 L407.4,133.88 L407.9,133.74 L408.4,133.58 L408.9,133.4 L409.4,133.19 L409.9,132.95 L410.4,132.68 L410.9,132.38 L411.4,132.04 L411.9,131.67 L412.4,131.25 L412.9,130.79 L413.4,130.28 L413.9,129.72 L414.4,129.11 L414.9,128.44 L415.4,127.72 L415.9,126.94 L416.4,126.1 L416.9,125.19 L417.4,124.22 L417.9,123.18 L418.4,122.07 L418.9,120.89 L419.4,119.64 L419.9,118.32 L420.4,116.94 L420.9,115.48 L421.4,113.95 L421.9,112.36 L422.4,110.7 L422.9,108.98 L423.4,107.2 L423.9,105.37 L424.4,103.49 L424.9,101.57 L425.4,99.61 L425.9,97.62 L426.4,95.61 L426.9,93.59 L427.4,91.57 L427.9,89.56 L428.4,87.57 L428.9,85.61 L429.4,83.7 L429.9,81.84 L430.4,80.06 L430.9,78.36 L431.4,76.76 L431.9,75.28 L432.4,73.93 L432.9,72.74 L433.4,71.7 L433.9,70.83 L434.4,70.15 L434.9,69.66 L435.4,69.36 L435.9,69.28 L436.4,69.39 L436.9,69.72 L437.4,70.25 L437.9,70.98 L438.4,71.91 L438.9,73.02 L439.4,74.3 L439.9,75.75 L440.4,77.34 L440.9,79.08 L441.4,80.93 L441.9,82.9 L442.4,84.96 L442.9,87.1 L443.4,89.31 L443.9,91.57 L444.4,93.86 L444.9,96.18 L445.4,98.52 L445.9,100.86 L446.4,103.18 L446.9,105.5 L447.4,107.78 L447.9,110.03 L448.4,112.23 L448.9,114.39 L449.4,116.49 L449.9,118.53 L450.4,120.5 L450.9,122.42 L451.4,124.26 L451.9,126.04 L452.4,127.74 L452.9,129.37 L453.4,130.93 L453.9,132.41 L454.4,133.81 L454.9,135.14 L455.4,136.4 L455.9,137.59 L456.4,138.7 L456.9,139.75 L457.4,140.73 L457.9,141.65 L458.4,142.5 L458.9,143.3 L459.4,144.03 L459.9,144.71 L460.4,145.34 L460.9,145.93 L461.4,146.48 L461.9,146.99 L462.4,147.47 L462.9,147.91 L463.4,148.33 L463.9,148.71 L464.4,149.07 L464.9,149.4 L465.4,149.71 L465.9,149.99 L466.4,150.26 L466.9,150.5 L467.4,150.72 L467.9,150.93 L468.4,151.12 L468.9,151.29 L469.4,151.44 L469.9,151.58 L470.4,151.71 L470.9,151.83 L471.4,151.94 L471.9,152.05 L472.4,152.15 L472.9,152.24 L473.4,152.34 L473.9,152.42 L474.4,152.5 L474.9,152.58 L475.4,152.65 L475.9,152.72 L476.4,152.79 L476.9,152.85 L477.4,152.91 L477.9,152.96 L478.4,153.01 L478.9,153.06 L479.4,153.1 L479.4,154.38 L478.9,154.37 L478.4,154.36 L477.9,154.34 L477.4,154.32 L476.9,154.29 L476.4,154.27 L475.9,154.24 L475.4,154.21 L474.9,154.18 L474.4,154.15 L473.9,154.11 L473.4,154.08 L472.9,154.04 L472.4,154 L471.9,153.96 L471.4,153.92 L470.9,153.88 L470.4,153.83 L469.9,153.79 L469.4,153.74 L468.9,153.68 L468.4,153.62 L467.9,153.55 L467.4,153.47 L466.9,153.38 L466.4,153.29 L465.9,153.19 L465.4,153.09 L464.9,152.99 L464.4,152.87 L463.9,152.76 L463.4,152.64 L462.9,152.52 L462.4,152.4 L461.9,152.28 L461.4,152.15 L460.9,152.03 L460.4,151.9 L459.9,151.77 L459.4,151.64 L458.9,151.5 L458.4,151.36 L457.9,151.21 L457.4,151.05 L456.9,150.89 L456.4,150.72 L455.9,150.55 L455.4,150.37 L454.9,150.19 L454.4,150.01 L453.9,149.83 L453.4,149.64 L452.9,149.46 L452.4,149.27 L451.9,149.09 L451.4,148.91 L450.9,148.72 L450.4,148.54 L449.9,148.36 L449.4,148.19 L448.9,148.01 L448.4,147.82 L447.9,147.64 L447.4,147.45 L446.9,147.27 L446.4,147.08 L445.9,146.89 L445.4,146.7 L444.9,146.51 L444.4,146.33 L443.9,146.14 L443.4,145.95 L442.9,145.76 L442.4,145.58 L441.9,145.39 L441.4,145.21 L440.9,145.02 L440.4,144.84 L439.9,144.66 L439.4,144.48 L438.9,144.3 L438.4,144.12 L437.9,143.94 L437.4,143.76 L436.9,143.57 L436.4,143.39 L435.9,143.21 L435.4,143.03 L434.9,142.85 L434.4,142.68 L433.9,142.51 L433.4,142.34 L432.9,142.18 L432.4,142.02 L431.9,141.86 L431.4,141.71 L430.9,141.57 L430.4,141.43 L429.9,141.29 L429.4,141.15 L428.9,141.02 L428.4,140.88 L427.9,140.75 L427.4,140.62 L426.9,140.49 L426.4,140.36 L425.9,140.24 L425.4,140.12 L424.9,140 L424.4,139.88 L423.9,139.77 L423.4,139.66 L422.9,139.55 L422.4,139.45 L421.9,139.35 L421.4,139.25 L420.9,139.16 L420.4,139.07 L419.9,138.98 L419.4,138.9 L418.9,138.83 L418.4,138.75 L417.9,138.68 L417.4,138.61 L416.9,138.55 L416.4,138.48 L415.9,138.42 L415.4,138.36 L414.9,138.3 L414.4,138.24 L413.9,138.18 L413.4,138.12 L412.9,138.06 L412.4,138 L411.9,137.94 L411.4,137.88 L410.9,137.82 L410.4,137.75 L409.9,137.69 L409.4,137.62 L408.9,137.55 L408.4,137.48 L407.9,137.41 L407.4,137.35 L406.9,137.28 L406.4,137.21 L405.9,137.14 L405.4,137.07 L404.9,137 L404.4,136.93 L403.9,136.86 L403.4,136.79 L402.9,136.72 L402.4,136.64 L401.9,136.57 L401.4,136.5 L400.9,136.43 L400.4,136.36 L399.9,136.29 L399.4,136.21 L398.9,136.14 L398.4,136.07 L397.9,136 L397.4,135.93 L396.9,135.85 L396.4,135.78 L395.9,135.71 L395.4,135.64 L394.9,135.56 L394.4,135.49 L393.9,135.42 L393.4,135.34 L392.9,135.26 L392.4,135.19 L391.9,135.11 L391.4,135.03 L390.9,134.95 L390.4,134.87 L389.9,134.78 L389.4,134.7 L388.9,134.61 L388.4,134.52 L387.9,134.42 L387.4,134.33 L386.9,134.23 L386.4,134.14 L385.9,134.04 L385.4,133.94 L384.9,133.84 L384.4,133.74 L383.9,133.64 L383.4,133.54 L382.9,133.44 L382.4,133.34 L381.9,133.25 L381.4,133.15 L380.9,133.06 L380.4,132.97 L379.9,132.88 L379.4,132.8 L378.9,132.71 L378.4,132.63 L377.9,132.54 L377.4,132.46 L376.9,132.38 L376.4,132.3 L375.9,132.22 L375.4,132.14 L374.9,132.06 L374.4,131.98 L373.9,131.9 L373.4,131.83 L372.9,131.75 L372.4,131.67 L371.9,131.59 L371.4,131.52 L370.9,131.44 L370.4,131.36 L369.9,131.28 L369.4,131.21 L368.9,131.13 L368.4,131.05 L367.9,130.98 L367.4,130.9 L366.9,130.83 L366.4,130.75 L365.9,130.68 L365.4,130.6 L364.9,130.53 L364.4,130.45 L363.9,130.38 L363.4,130.31 L362.9,130.23 L362.4,130.16 L361.9,130.08 L361.4,130.01 L360.9,129.93 L360.4,129.86 L359.9,129.78 L359.4,129.71 L358.9,129.63 L358.4,129.55 L357.9,129.47 L357.4,129.39 L356.9,129.32 L356.4,129.24 L355.9,129.16 L355.4,129.08 L354.9,129 L354.4,128.92 L353.9,128.84 L353.4,128.77 L352.9,128.69 L352.4,128.62 L351.9,128.55 L351.4,128.48 L350.9,128.41 L350.4,128.35 L349.9,128.29 L349.4,128.23 L348.9,128.17 L348.4,128.11 L347.9,128.04 L347.4,127.98 L346.9,127.92 L346.4,127.86 L345.9,127.8 L345.4,127.75 L344.9,127.69 L344.4,127.64 L343.9,127.59 L343.4,127.54 L342.9,127.49 L342.4,127.45 L341.9,127.41 L341.4,127.38 L340.9,127.35 L340.4,127.32 L339.9,127.3 L339.4,127.27 L338.9,127.25 L338.4,127.24 L337.9,127.22 L337.4,127.2 L336.9,127.18 L336.4,127.17 Z" fill="url(#g9)" stroke="none"/>
<path d="M336.4,126.91 L336.9,126.93 L337.4,126.94 L337.9,126.96 L338.4,126.97 L338.9,126.99 L339.4,127.01 L339.9,127.02 L340.4,127.05 L340.9,127.07 L341.4,127.1 L341.9,127.13 L342.4,127.17 L342.9,127.21 L343.4,127.25 L343.9,127.29 L344.4,127.34 L344.9,127.39 L345.4,127.44 L345.9,127.5 L346.4,127.55 L346.9,127.61 L347.4,127.67 L347.9,127.72 L348.4,127.78 L348.9,127.84 L349.4,127.9 L349.9,127.95 L350.4,128.01 L350.9,128.07 L351.4,128.13 L351.9,128.2 L352.4,128.26 L352.9,128.33 L353.4,128.4 L353.9,128.47 L354.4,128.55 L354.9,128.62 L355.4,128.69 L355.9,128.77 L356.4,128.84 L356.9,128.92 L357.4,128.99 L357.9,129.07 L358.4,129.14 L358.9,129.22 L359.4,129.29 L359.9,129.36 L360.4,129.43 L360.9,129.5 L361.4,129.56 L361.9,129.63 L362.4,129.7 L362.9,129.77 L363.4,129.84 L363.9,129.91 L364.4,129.97 L364.9,130.04 L365.4,130.11 L365.9,130.18 L366.4,130.24 L366.9,130.31 L367.4,130.38 L367.9,130.45 L368.4,130.52 L368.9,130.59 L369.4,130.65 L369.9,130.72 L370.4,130.79 L370.9,130.86 L371.4,130.93 L371.9,131 L372.4,131.07 L372.9,131.13 L373.4,131.2 L373.9,131.27 L374.4,131.34 L374.9,131.41 L375.4,131.48 L375.9,131.54 L376.4,131.61 L376.9,131.68 L377.4,131.75 L377.9,131.82 L378.4,131.9 L378.9,131.97 L379.4,132.04 L379.9,132.11 L380.4,132.19 L380.9,132.26 L381.4,132.34 L381.9,132.42 L382.4,132.5 L382.9,132.59 L383.4,132.67 L383.9,132.75 L384.4,132.84 L384.9,132.92 L385.4,133 L385.9,133.08 L386.4,133.16 L386.9,133.24 L387.4,133.32 L387.9,133.39 L388.4,133.47 L388.9,133.54 L389.4,133.6 L389.9,133.67 L390.4,133.73 L390.9,133.79 L391.4,133.84 L391.9,133.89 L392.4,133.95 L392.9,134 L393.4,134.04 L393.9,134.09 L394.4,134.13 L394.9,134.17 L395.4,134.21 L395.9,134.25 L396.4,134.29 L396.9,134.32 L397.4,134.35 L397.9,134.38 L398.4,134.41 L398.9,134.43 L399.4,134.45 L399.9,134.47 L400.4,134.48 L400.9,134.49 L401.4,134.5 L401.9,134.49 L402.4,134.49 L402.9,134.47 L403.4,134.45 L403.9,134.42 L404.4,134.38 L404.9,134.33 L405.4,134.27 L405.9,134.2 L406.4,134.11 L406.9,134 L407.4,133.88 L407.9,133.74 L408.4,133.58 L408.9,133.4 L409.4,133.19 L409.9,132.95 L410.4,132.68 L410.9,132.38 L411.4,132.04 L411.9,131.67 L412.4,131.25 L412.9,130.79 L413.4,130.28 L413.9,129.72 L414.4,129.11 L414.9,128.44 L415.4,127.72 L415.9,126.94 L416.4,126.1 L416.9,125.19 L417.4,124.22 L417.9,123.18 L418.4,122.07 L418.9,120.89 L419.4,119.64 L419.9,118.32 L420.4,116.94 L420.9,115.48 L421.4,113.95 L421.9,112.36 L422.4,110.7 L422.9,108.98 L423.4,107.2 L423.9,105.37 L424.4,103.49 L424.9,101.57 L425.4,99.61 L425.9,97.62 L426.4,95.61 L426.9,93.59 L427.4,91.57 L427.9,89.56 L428.4,87.57 L428.9,85.61 L429.4,83.7 L429.9,81.84 L430.4,80.06 L430.9,78.36 L431.4,76.76 L431.9,75.28 L432.4,73.93 L432.9,72.74 L433.4,71.7 L433.9,70.83 L434.4,70.15 L434.9,69.66 L435.4,69.36 L435.9,69.28 L436.4,69.39 L436.9,69.72 L437.4,70.25 L437.9,70.98 L438.4,71.91 L438.9,73.02 L439.4,74.3 L439.9,75.75 L440.4,77.34 L440.9,79.08 L441.4,80.93 L441.9,82.9 L442.4,84.96 L442.9,87.1 L443.4,89.31 L443.9,91.57 L444.4,93.86 L444.9,96.18 L445.4,98.52 L445.9,100.86 L446.4,103.18 L446.9,105.5 L447.4,107.78 L447.9,110.03 L448.4,112.23 L448.9,114.39 L449.4,116.49 L449.9,118.53 L450.4,120.5 L450.9,122.42 L451.4,124.26 L451.9,126.04 L452.4,127.74 L452.9,129.37 L453.4,130.93 L453.9,132.41 L454.4,133.81 L454.9,135.14 L455.4,136.4 L455.9,137.59 L456.4,138.7 L456.9,139.75 L457.4,140.73 L457.9,141.65 L458.4,142.5 L458.9,143.3 L459.4,144.03 L459.9,144.71 L460.4,145.34 L460.9,145.93 L461.4,146.48 L461.9,146.99 L462.4,147.47 L462.9,147.91 L463.4,148.33 L463.9,148.71 L464.4,149.07 L464.9,149.4 L465.4,149.71 L465.9,149.99 L466.4,150.26 L466.9,150.5 L467.4,150.72 L467.9,150.93 L468.4,151.12 L468.9,151.29 L469.4,151.44 L469.9,151.58 L470.4,151.71 L470.9,151.83 L471.4,151.94 L471.9,152.05 L472.4,152.15 L472.9,152.24 L473.4,152.34 L473.9,152.42 L474.4,152.5 L474.9,152.58 L475.4,152.65 L475.9,152.72 L476.4,152.79 L476.9,152.85 L477.4,152.91 L477.9,152.96 L478.4,153.01 L478.9,153.06 L479.4,153.1" fill="none" stroke="#ff1c1c" stroke-width="1.6" stroke-linejoin="round"/>
<path d="M311.4,126.34 L311.9,126.34 L312.4,126.35 L312.9,126.35 L313.4,126.36 L313.9,126.37 L314.4,126.37 L314.9,126.37 L315.4,126.38 L315.9,126.38 L316.4,126.39 L316.9,126.39 L317.4,126.39 L317.9,126.4 L318.4,126.4 L318.9,126.4 L319.4,126.4 L319.9,126.4 L320.4,126.4 L320.9,126.4 L321.4,126.4 L321.9,126.4 L322.4,126.39 L322.9,126.39 L323.4,126.38 L323.9,126.37 L324.4,126.36 L324.9,126.35 L325.4,126.33 L325.9,126.31 L326.4,126.29 L326.9,126.26 L327.4,126.23 L327.9,126.19 L328.4,126.15 L328.9,126.1 L329.4,126.05 L329.9,125.99 L330.4,125.91 L330.9,125.83 L331.4,125.73 L331.9,125.62 L332.4,125.5 L332.9,125.36 L333.4,125.2 L333.9,125.02 L334.4,124.82 L334.9,124.59 L335.4,124.34 L335.9,124.05 L336.4,123.74 L336.9,123.4 L337.4,123.02 L337.9,122.6 L338.4,122.15 L338.9,121.66 L339.4,121.13 L339.9,120.56 L340.4,119.95 L340.9,119.3 L341.4,118.62 L341.9,117.9 L342.4,117.14 L342.9,116.36 L343.4,115.54 L343.9,114.7 L344.4,113.84 L344.9,112.96 L345.4,112.06 L345.9,111.16 L346.4,110.26 L346.9,109.37 L347.4,108.49 L347.9,107.63 L348.4,106.8 L348.9,106.02 L349.4,105.28 L349.9,104.6 L350.4,103.99 L350.9,103.46 L351.4,103.02 L351.9,102.68 L352.4,102.43 L352.9,102.3 L353.4,102.27 L353.9,102.36 L354.4,102.56 L354.9,102.87 L355.4,103.28 L355.9,103.79 L356.4,104.4 L356.9,105.09 L357.4,105.85 L357.9,106.68 L358.4,107.57 L358.9,108.5 L359.4,109.47 L359.9,110.47 L360.4,111.49 L360.9,112.52 L361.4,113.56 L361.9,114.59 L362.4,115.61 L362.9,116.62 L363.4,117.6 L363.9,118.56 L364.4,119.49 L364.9,120.38 L365.4,121.24 L365.9,122.06 L366.4,122.85 L366.9,123.59 L367.4,124.29 L367.9,124.95 L368.4,125.57 L368.9,126.14 L369.4,126.68 L369.9,127.19 L370.4,127.65 L370.9,128.08 L371.4,128.48 L371.9,128.85 L372.4,129.19 L372.9,129.5 L373.4,129.79 L373.9,130.06 L374.4,130.3 L374.9,130.53 L375.4,130.74 L375.9,130.94 L376.4,131.12 L376.9,131.3 L377.4,131.46 L377.9,131.61 L378.4,131.76 L378.9,131.9 L379.4,132.04 L379.9,132.17 L380.4,132.29 L380.9,132.42 L381.4,132.54 L381.9,132.67 L382.4,132.79 L382.9,132.91 L383.4,133.03 L383.9,133.15 L384.4,133.26 L384.9,133.38 L385.4,133.49 L385.9,133.61 L386.4,133.72 L386.9,133.83 L387.4,133.94 L387.9,134.04 L388.4,134.15 L388.9,134.25 L389.4,134.35 L389.9,134.44 L390.4,134.53 L390.9,134.63 L391.4,134.71 L391.9,134.8 L392.4,134.89 L392.9,134.97 L393.4,135.05 L393.9,135.14 L394.4,135.22 L394.9,135.3 L395.4,135.38 L395.9,135.46 L395.9,135.71 L395.4,135.64 L394.9,135.56 L394.4,135.49 L393.9,135.42 L393.4,135.34 L392.9,135.26 L392.4,135.19 L391.9,135.11 L391.4,135.03 L390.9,134.95 L390.4,134.87 L389.9,134.78 L389.4,134.7 L388.9,134.61 L388.4,134.52 L387.9,134.42 L387.4,134.33 L386.9,134.23 L386.4,134.14 L385.9,134.04 L385.4,133.94 L384.9,133.84 L384.4,133.74 L383.9,133.64 L383.4,133.54 L382.9,133.44 L382.4,133.34 L381.9,133.25 L381.4,133.15 L380.9,133.06 L380.4,132.97 L379.9,132.88 L379.4,132.8 L378.9,132.71 L378.4,132.63 L377.9,132.54 L377.4,132.46 L376.9,132.38 L376.4,132.3 L375.9,132.22 L375.4,132.14 L374.9,132.06 L374.4,131.98 L373.9,131.9 L373.4,131.83 L372.9,131.75 L372.4,131.67 L371.9,131.59 L371.4,131.52 L370.9,131.44 L370.4,131.36 L369.9,131.28 L369.4,131.21 L368.9,131.13 L368.4,131.05 L367.9,130.98 L367.4,130.9 L366.9,130.83 L366.4,130.75 L365.9,130.68 L365.4,130.6 L364.9,130.53 L364.4,130.45 L363.9,130.38 L363.4,130.31 L362.9,130.23 L362.4,130.16 L361.9,130.08 L361.4,130.01 L360.9,129.93 L360.4,129.86 L359.9,129.78 L359.4,129.71 L358.9,129.63 L358.4,129.55 L357.9,129.47 L357.4,129.39 L356.9,129.32 L356.4,129.24 L355.9,129.16 L355.4,129.08 L354.9,129 L354.4,128.92 L353.9,128.84 L353.4,128.77 L352.9,128.69 L352.4,128.62 L351.9,128.55 L351.4,128.48 L350.9,128.41 L350.4,128.35 L349.9,128.29 L349.4,128.23 L348.9,128.17 L348.4,128.11 L347.9,128.04 L347.4,127.98 L346.9,127.92 L346.4,127.86 L345.9,127.8 L345.4,127.75 L344.9,127.69 L344.4,127.64 L343.9,127.59 L343.4,127.54 L342.9,127.49 L342.4,127.45 L341.9,127.41 L341.4,127.38 L340.9,127.35 L340.4,127.32 L339.9,127.3 L339.4,127.27 L338.9,127.25 L338.4,127.24 L337.9,127.22 L337.4,127.2 L336.9,127.18 L336.4,127.17 L335.9,127.15 L335.4,127.14 L334.9,127.12 L334.4,127.11 L333.9,127.09 L333.4,127.08 L332.9,127.07 L332.4,127.06 L331.9,127.05 L331.4,127.04 L330.9,127.02 L330.4,127.01 L329.9,127 L329.4,126.99 L328.9,126.98 L328.4,126.97 L327.9,126.96 L327.4,126.95 L326.9,126.94 L326.4,126.94 L325.9,126.93 L325.4,126.92 L324.9,126.91 L324.4,126.9 L323.9,126.89 L323.4,126.88 L322.9,126.87 L322.4,126.86 L321.9,126.84 L321.4,126.83 L320.9,126.82 L320.4,126.81 L319.9,126.8 L319.4,126.79 L318.9,126.77 L318.4,126.76 L317.9,126.75 L317.4,126.74 L316.9,126.72 L316.4,126.71 L315.9,126.7 L315.4,126.69 L314.9,126.68 L314.4,126.66 L313.9,126.65 L313.4,126.64 L312.9,126.63 L312.4,126.62 L311.9,126.6 L311.4,126.59 Z" fill="url(#g10)" stroke="none"/>
<path d="M311.4,126.34 L311.9,126.34 L312.4,126.35 L312.9,126.35 L313.4,126.36 L313.9,126.37 L314.4,126.37 L314.9,126.37 L315.4,126.38 L315.9,126.38 L316.4,126.39 L316.9,126.39 L317.4,126.39 L317.9,126.4 L318.4,126.4 L318.9,126.4 L319.4,126.4 L319.9,126.4 L320.4,126.4 L320.9,126.4 L321.4,126.4 L321.9,126.4 L322.4,126.39 L322.9,126.39 L323.4,126.38 L323.9,126.37 L324.4,126.36 L324.9,126.35 L325.4,126.33 L325.9,126.31 L326.4,126.29 L326.9,126.26 L327.4,126.23 L327.9,126.19 L328.4,126.15 L328.9,126.1 L329.4,126.05 L329.9,125.99 L330.4,125.91 L330.9,125.83 L331.4,125.73 L331.9,125.62 L332.4,125.5 L332.9,125.36 L333.4,125.2 L333.9,125.02 L334.4,124.82 L334.9,124.59 L335.4,124.34 L335.9,124.05 L336.4,123.74 L336.9,123.4 L337.4,123.02 L337.9,122.6 L338.4,122.15 L338.9,121.66 L339.4,121.13 L339.9,120.56 L340.4,119.95 L340.9,119.3 L341.4,118.62 L341.9,117.9 L342.4,117.14 L342.9,116.36 L343.4,115.54 L343.9,114.7 L344.4,113.84 L344.9,112.96 L345.4,112.06 L345.9,111.16 L346.4,110.26 L346.9,109.37 L347.4,108.49 L347.9,107.63 L348.4,106.8 L348.9,106.02 L349.4,105.28 L349.9,104.6 L350.4,103.99 L350.9,103.46 L351.4,103.02 L351.9,102.68 L352.4,102.43 L352.9,102.3 L353.4,102.27 L353.9,102.36 L354.4,102.56 L354.9,102.87 L355.4,103.28 L355.9,103.79 L356.4,104.4 L356.9,105.09 L357.4,105.85 L357.9,106.68 L358.4,107.57 L358.9,108.5 L359.4,109.47 L359.9,110.47 L360.4,111.49 L360.9,112.52 L361.4,113.56 L361.9,114.59 L362.4,115.61 L362.9,116.62 L363.4,117.6 L363.9,118.56 L364.4,119.49 L364.9,120.38 L365.4,121.24 L365.9,122.06 L366.4,122.85 L366.9,123.59 L367.4,124.29 L367.9,124.95 L368.4,125.57 L368.9,126.14 L369.4,126.68 L369.9,127.19 L370.4,127.65 L370.9,128.08 L371.4,128.48 L371.9,128.85 L372.4,129.19 L372.9,129.5 L373.4,129.79 L373.9,130.06 L374.4,130.3 L374.9,130.53 L375.4,130.74 L375.9,130.94 L376.4,131.12 L376.9,131.3 L377.4,131.46 L377.9,131.61 L378.4,131.76 L378.9,131.9 L379.4,132.04 L379.9,132.17 L380.4,132.29 L380.9,132.42 L381.4,132.54 L381.9,132.67 L382.4,132.79 L382.9,132.91 L383.4,133.03 L383.9,133.15 L384.4,133.26 L384.9,133.38 L385.4,133.49 L385.9,133.61 L386.4,133.72 L386.9,133.83 L387.4,133.94 L387.9,134.04 L388.4,134.15 L388.9,134.25 L389.4,134.35 L389.9,134.44 L390.4,134.53 L390.9,134.63 L391.4,134.71 L391.9,134.8 L392.4,134.89 L392.9,134.97 L393.4,135.05 L393.9,135.14 L394.4,135.22 L394.9,135.3 L395.4,135.38 L395.9,135.46" fill="none" stroke="#ff1c1c" stroke-width="1.4" stroke-linejoin="round"/>
<path d="M432.4,141.71 L432.9,141.77 L433.4,141.81 L433.9,141.81 L434.4,141.78 L434.9,141.7 L435.4,141.57 L435.9,141.37 L436.4,141.08 L436.9,140.71 L437.4,140.22 L437.9,139.62 L438.4,138.88 L438.9,137.98 L439.4,136.93 L439.9,135.7 L440.4,134.28 L440.9,132.68 L441.4,130.89 L441.9,128.91 L442.4,126.75 L442.9,124.42 L443.4,121.94 L443.9,119.33 L444.4,116.62 L444.9,113.84 L445.4,111.04 L445.9,108.27 L446.4,105.56 L446.9,102.97 L447.4,100.56 L447.9,98.37 L448.4,96.45 L448.9,94.84 L449.4,93.59 L449.9,92.72 L450.4,92.26 L450.9,92.22 L451.4,92.62 L451.9,93.44 L452.4,94.68 L452.9,96.3 L453.4,98.27 L453.9,100.56 L454.4,103.12 L454.9,105.9 L455.4,108.85 L455.9,111.92 L456.4,115.06 L456.9,118.21 L457.4,121.34 L457.9,124.4 L458.4,127.35 L458.9,130.16 L459.4,132.82 L459.9,135.3 L460.4,137.59 L460.9,139.69 L461.4,141.59 L461.9,143.31 L462.4,144.85 L462.9,146.2 L463.4,147.4 L463.9,148.44 L464.4,149.34 L464.9,150.12 L465.4,150.78 L465.9,151.35 L466.4,151.83 L466.9,152.23 L467.4,152.57 L467.9,152.85 L468.4,153.08 L468.9,153.28 L469.4,153.43 L469.4,153.74 L468.9,153.68 L468.4,153.62 L467.9,153.55 L467.4,153.47 L466.9,153.38 L466.4,153.29 L465.9,153.19 L465.4,153.09 L464.9,152.99 L464.4,152.87 L463.9,152.76 L463.4,152.64 L462.9,152.52 L462.4,152.4 L461.9,152.28 L461.4,152.15 L460.9,152.03 L460.4,151.9 L459.9,151.77 L459.4,151.64 L458.9,151.5 L458.4,151.36 L457.9,151.21 L457.4,151.05 L456.9,150.89 L456.4,150.72 L455.9,150.55 L455.4,150.37 L454.9,150.19 L454.4,150.01 L453.9,149.83 L453.4,149.64 L452.9,149.46 L452.4,149.27 L451.9,149.09 L451.4,148.91 L450.9,148.72 L450.4,148.54 L449.9,148.36 L449.4,148.19 L448.9,148.01 L448.4,147.82 L447.9,147.64 L447.4,147.45 L446.9,147.27 L446.4,147.08 L445.9,146.89 L445.4,146.7 L444.9,146.51 L444.4,146.33 L443.9,146.14 L443.4,145.95 L442.9,145.76 L442.4,145.58 L441.9,145.39 L441.4,145.21 L440.9,145.02 L440.4,144.84 L439.9,144.66 L439.4,144.48 L438.9,144.3 L438.4,144.12 L437.9,143.94 L437.4,143.76 L436.9,143.57 L436.4,143.39 L435.9,143.21 L435.4,143.03 L434.9,142.85 L434.4,142.68 L433.9,142.51 L433.4,142.34 L432.9,142.18 L432.4,142.02 Z" fill="url(#g11)" stroke="none"/>
<path d="M432.4,141.71 L432.9,141.77 L433.4,141.81 L433.9,141.81 L434.4,141.78 L434.9,141.7 L435.4,141.57 L435.9,141.37 L436.4,141.08 L436.9,140.71 L437.4,140.22 L437.9,139.62 L438.4,138.88 L438.9,137.98 L439.4,136.93 L439.9,135.7 L440.4,134.28 L440.9,132.68 L441.4,130.89 L441.9,128.91 L442.4,126.75 L442.9,124.42 L443.4,121.94 L443.9,119.33 L444.4,116.62 L444.9,113.84 L445.4,111.04 L445.9,108.27 L446.4,105.56 L446.9,102.97 L447.4,100.56 L447.9,98.37 L448.4,96.45 L448.9,94.84 L449.4,93.59 L449.9,92.72 L450.4,92.26 L450.9,92.22 L451.4,92.62 L451.9,93.44 L452.4,94.68 L452.9,96.3 L453.4,98.27 L453.9,100.56 L454.4,103.12 L454.9,105.9 L455.4,108.85 L455.9,111.92 L456.4,115.06 L456.9,118.21 L457.4,121.34 L457.9,124.4 L458.4,127.35 L458.9,130.16 L459.4,132.82 L459.9,135.3 L460.4,137.59 L460.9,139.69 L461.4,141.59 L461.9,143.31 L462.4,144.85 L462.9,146.2 L463.4,147.4 L463.9,148.44 L464.4,149.34 L464.9,150.12 L465.4,150.78 L465.9,151.35 L466.4,151.83 L466.9,152.23 L467.4,152.57 L467.9,152.85 L468.4,153.08 L468.9,153.28 L469.4,153.43" fill="none" stroke="#13898b" stroke-width="1.6" stroke-linejoin="round"/>
<path d="M345.4,127.49 L345.9,127.49 L346.4,127.47 L346.9,127.45 L347.4,127.42 L347.9,127.36 L348.4,127.29 L348.9,127.2 L349.4,127.09 L349.9,126.95 L350.4,126.78 L350.9,126.58 L351.4,126.35 L351.9,126.09 L352.4,125.8 L352.9,125.47 L353.4,125.1 L353.9,124.69 L354.4,124.24 L354.9,123.75 L355.4,123.22 L355.9,122.65 L356.4,122.05 L356.9,121.41 L357.4,120.74 L357.9,120.04 L358.4,119.32 L358.9,118.59 L359.4,117.85 L359.9,117.11 L360.4,116.37 L360.9,115.66 L361.4,114.96 L361.9,114.31 L362.4,113.69 L362.9,113.13 L363.4,112.63 L363.9,112.2 L364.4,111.84 L364.9,111.56 L365.4,111.37 L365.9,111.27 L366.4,111.26 L366.9,111.34 L367.4,111.52 L367.9,111.79 L368.4,112.15 L368.9,112.6 L369.4,113.12 L369.9,113.72 L370.4,114.38 L370.9,115.11 L371.4,115.88 L371.9,116.7 L372.4,117.55 L372.9,118.42 L373.4,119.31 L373.9,120.21 L374.4,121.1 L374.9,121.99 L375.4,122.86 L375.9,123.71 L376.4,124.54 L376.9,125.33 L377.4,126.09 L377.9,126.82 L378.4,127.5 L378.9,128.14 L379.4,128.75 L379.9,129.31 L380.4,129.83 L380.9,130.32 L381.4,130.77 L381.9,131.18 L382.4,131.57 L382.9,131.92 L383.4,132.24 L383.9,132.53 L384.4,132.8 L384.9,133.05 L385.4,133.28 L385.9,133.49 L386.4,133.68 L386.9,133.86 L387.4,134.02 L387.9,134.17 L387.9,134.42 L387.4,134.33 L386.9,134.23 L386.4,134.14 L385.9,134.04 L385.4,133.94 L384.9,133.84 L384.4,133.74 L383.9,133.64 L383.4,133.54 L382.9,133.44 L382.4,133.34 L381.9,133.25 L381.4,133.15 L380.9,133.06 L380.4,132.97 L379.9,132.88 L379.4,132.8 L378.9,132.71 L378.4,132.63 L377.9,132.54 L377.4,132.46 L376.9,132.38 L376.4,132.3 L375.9,132.22 L375.4,132.14 L374.9,132.06 L374.4,131.98 L373.9,131.9 L373.4,131.83 L372.9,131.75 L372.4,131.67 L371.9,131.59 L371.4,131.52 L370.9,131.44 L370.4,131.36 L369.9,131.28 L369.4,131.21 L368.9,131.13 L368.4,131.05 L367.9,130.98 L367.4,130.9 L366.9,130.83 L366.4,130.75 L365.9,130.68 L365.4,130.6 L364.9,130.53 L364.4,130.45 L363.9,130.38 L363.4,130.31 L362.9,130.23 L362.4,130.16 L361.9,130.08 L361.4,130.01 L360.9,129.93 L360.4,129.86 L359.9,129.78 L359.4,129.71 L358.9,129.63 L358.4,129.55 L357.9,129.47 L357.4,129.39 L356.9,129.32 L356.4,129.24 L355.9,129.16 L355.4,129.08 L354.9,129 L354.4,128.92 L353.9,128.84 L353.4,128.77 L352.9,128.69 L352.4,128.62 L351.9,128.55 L351.4,128.48 L350.9,128.41 L350.4,128.35 L349.9,128.29 L349.4,128.23 L348.9,128.17 L348.4,128.11 L347.9,128.04 L347.4,127.98 L346.9,127.92 L346.4,127.86 L345.9,127.8 L345.4,127.75 Z" fill="url(#g12)" stroke="none"/>
<path d="M345.4,127.49 L345.9,127.49 L346.4,127.47 L346.9,127.45 L347.4,127.42 L347.9,127.36 L348.4,127.29 L348.9,127.2 L349.4,127.09 L349.9,126.95 L350.4,126.78 L350.9,126.58 L351.4,126.35 L351.9,126.09 L352.4,125.8 L352.9,125.47 L353.4,125.1 L353.9,124.69 L354.4,124.24 L354.9,123.75 L355.4,123.22 L355.9,122.65 L356.4,122.05 L356.9,121.41 L357.4,120.74 L357.9,120.04 L358.4,119.32 L358.9,118.59 L359.4,117.85 L359.9,117.11 L360.4,116.37 L360.9,115.66 L361.4,114.96 L361.9,114.31 L362.4,113.69 L362.9,113.13 L363.4,112.63 L363.9,112.2 L364.4,111.84 L364.9,111.56 L365.4,111.37 L365.9,111.27 L366.4,111.26 L366.9,111.34 L367.4,111.52 L367.9,111.79 L368.4,112.15 L368.9,112.6 L369.4,113.12 L369.9,113.72 L370.4,114.38 L370.9,115.11 L371.4,115.88 L371.9,116.7 L372.4,117.55 L372.9,118.42 L373.4,119.31 L373.9,120.21 L374.4,121.1 L374.9,121.99 L375.4,122.86 L375.9,123.71 L376.4,124.54 L376.9,125.33 L377.4,126.09 L377.9,126.82 L378.4,127.5 L378.9,128.14 L379.4,128.75 L379.9,129.31 L380.4,129.83 L380.9,130.32 L381.4,130.77 L381.9,131.18 L382.4,131.57 L382.9,131.92 L383.4,132.24 L383.9,132.53 L384.4,132.8 L384.9,133.05 L385.4,133.28 L385.9,133.49 L386.4,133.68 L386.9,133.86 L387.4,134.02 L387.9,134.17" fill="none" stroke="#13898b" stroke-width="1.4" stroke-linejoin="round"/>
<path d="M371.9,131.34 L372.4,131.36 L372.9,131.38 L373.4,131.39 L373.9,131.39 L374.4,131.38 L374.9,131.36 L375.4,131.32 L375.9,131.26 L376.4,131.19 L376.9,131.1 L377.4,130.98 L377.9,130.85 L378.4,130.69 L378.9,130.5 L379.4,130.28 L379.9,130.03 L380.4,129.75 L380.9,129.44 L381.4,129.1 L381.9,128.72 L382.4,128.3 L382.9,127.85 L383.4,127.36 L383.9,126.83 L384.4,126.27 L384.9,125.66 L385.4,125.03 L385.9,124.36 L386.4,123.66 L386.9,122.93 L387.4,122.17 L387.9,121.4 L388.4,120.61 L388.9,119.81 L389.4,119.01 L389.9,118.21 L390.4,117.41 L390.9,116.63 L391.4,115.88 L391.9,115.15 L392.4,114.46 L392.9,113.81 L393.4,113.22 L393.9,112.68 L394.4,112.2 L394.9,111.8 L395.4,111.46 L395.9,111.21 L396.4,111.03 L396.9,110.94 L397.4,110.93 L397.9,111.01 L398.4,111.18 L398.9,111.43 L399.4,111.77 L399.9,112.19 L400.4,112.68 L400.9,113.25 L401.4,113.88 L401.9,114.58 L402.4,115.33 L402.9,116.14 L403.4,116.99 L403.9,117.87 L404.4,118.78 L404.9,119.72 L405.4,120.67 L405.9,121.63 L406.4,122.59 L406.9,123.55 L407.4,124.5 L407.9,125.43 L408.4,126.34 L408.9,127.23 L409.4,128.1 L409.9,128.93 L410.4,129.72 L410.9,130.48 L411.4,131.2 L411.9,131.88 L412.4,132.53 L412.9,133.13 L413.4,133.69 L413.9,134.22 L414.4,134.7 L414.9,135.16 L415.4,135.58 L415.9,135.97 L416.4,136.32 L416.9,136.65 L417.4,136.96 L417.9,137.24 L418.4,137.51 L418.9,137.75 L419.4,137.97 L419.9,138.19 L420.4,138.39 L420.9,138.58 L421.4,138.76 L421.9,138.93 L422.4,139.09 L422.9,139.25 L422.9,139.55 L422.4,139.45 L421.9,139.35 L421.4,139.25 L420.9,139.16 L420.4,139.07 L419.9,138.98 L419.4,138.9 L418.9,138.83 L418.4,138.75 L417.9,138.68 L417.4,138.61 L416.9,138.55 L416.4,138.48 L415.9,138.42 L415.4,138.36 L414.9,138.3 L414.4,138.24 L413.9,138.18 L413.4,138.12 L412.9,138.06 L412.4,138 L411.9,137.94 L411.4,137.88 L410.9,137.82 L410.4,137.75 L409.9,137.69 L409.4,137.62 L408.9,137.55 L408.4,137.48 L407.9,137.41 L407.4,137.35 L406.9,137.28 L406.4,137.21 L405.9,137.14 L405.4,137.07 L404.9,137 L404.4,136.93 L403.9,136.86 L403.4,136.79 L402.9,136.72 L402.4,136.64 L401.9,136.57 L401.4,136.5 L400.9,136.43 L400.4,136.36 L399.9,136.29 L399.4,136.21 L398.9,136.14 L398.4,136.07 L397.9,136 L397.4,135.93 L396.9,135.85 L396.4,135.78 L395.9,135.71 L395.4,135.64 L394.9,135.56 L394.4,135.49 L393.9,135.42 L393.4,135.34 L392.9,135.26 L392.4,135.19 L391.9,135.11 L391.4,135.03 L390.9,134.95 L390.4,134.87 L389.9,134.78 L389.4,134.7 L388.9,134.61 L388.4,134.52 L387.9,134.42 L387.4,134.33 L386.9,134.23 L386.4,134.14 L385.9,134.04 L385.4,133.94 L384.9,133.84 L384.4,133.74 L383.9,133.64 L383.4,133.54 L382.9,133.44 L382.4,133.34 L381.9,133.25 L381.4,133.15 L380.9,133.06 L380.4,132.97 L379.9,132.88 L379.4,132.8 L378.9,132.71 L378.4,132.63 L377.9,132.54 L377.4,132.46 L376.9,132.38 L376.4,132.3 L375.9,132.22 L375.4,132.14 L374.9,132.06 L374.4,131.98 L373.9,131.9 L373.4,131.83 L372.9,131.75 L372.4,131.67 L371.9,131.59 Z" fill="url(#g13)" stroke="none"/>
<path d="M371.9,131.34 L372.4,131.36 L372.9,131.38 L373.4,131.39 L373.9,131.39 L374.4,131.38 L374.9,131.36 L375.4,131.32 L375.9,131.26 L376.4,131.19 L376.9,131.1 L377.4,130.98 L377.9,130.85 L378.4,130.69 L378.9,130.5 L379.4,130.28 L379.9,130.03 L380.4,129.75 L380.9,129.44 L381.4,129.1 L381.9,128.72 L382.4,128.3 L382.9,127.85 L383.4,127.36 L383.9,126.83 L384.4,126.27 L384.9,125.66 L385.4,125.03 L385.9,124.36 L386.4,123.66 L386.9,122.93 L387.4,122.17 L387.9,121.4 L388.4,120.61 L388.9,119.81 L389.4,119.01 L389.9,118.21 L390.4,117.41 L390.9,116.63 L391.4,115.88 L391.9,115.15 L392.4,114.46 L392.9,113.81 L393.4,113.22 L393.9,112.68 L394.4,112.2 L394.9,111.8 L395.4,111.46 L395.9,111.21 L396.4,111.03 L396.9,110.94 L397.4,110.93 L397.9,111.01 L398.4,111.18 L398.9,111.43 L399.4,111.77 L399.9,112.19 L400.4,112.68 L400.9,113.25 L401.4,113.88 L401.9,114.58 L402.4,115.33 L402.9,116.14 L403.4,116.99 L403.9,117.87 L404.4,118.78 L404.9,119.72 L405.4,120.67 L405.9,121.63 L406.4,122.59 L406.9,123.55 L407.4,124.5 L407.9,125.43 L408.4,126.34 L408.9,127.23 L409.4,128.1 L409.9,128.93 L410.4,129.72 L410.9,130.48 L411.4,131.2 L411.9,131.88 L412.4,132.53 L412.9,133.13 L413.4,133.69 L413.9,134.22 L414.4,134.7 L414.9,135.16 L415.4,135.58 L415.9,135.97 L416.4,136.32 L416.9,136.65 L417.4,136.96 L417.9,137.24 L418.4,137.51 L418.9,137.75 L419.4,137.97 L419.9,138.19 L420.4,138.39 L420.9,138.58 L421.4,138.76 L421.9,138.93 L422.4,139.09 L422.9,139.25" fill="none" stroke="#0b9a2c" stroke-width="1.4" stroke-linejoin="round"/>
<path d="M294.9,125.89 L295.4,125.87 L295.9,125.85 L296.4,125.82 L296.9,125.78 L297.4,125.74 L297.9,125.7 L298.4,125.64 L298.9,125.58 L299.4,125.52 L299.9,125.44 L300.4,125.36 L300.9,125.27 L301.4,125.17 L301.9,125.06 L302.4,124.94 L302.9,124.81 L303.4,124.67 L303.9,124.52 L304.4,124.35 L304.9,124.18 L305.4,124 L305.9,123.8 L306.4,123.6 L306.9,123.38 L307.4,123.16 L307.9,122.92 L308.4,122.68 L308.9,122.43 L309.4,122.17 L309.9,121.9 L310.4,121.63 L310.9,121.35 L311.4,121.07 L311.9,120.78 L312.4,120.5 L312.9,120.21 L313.4,119.93 L313.9,119.65 L314.4,119.37 L314.9,119.1 L315.4,118.84 L315.9,118.59 L316.4,118.35 L316.9,118.13 L317.4,117.91 L317.9,117.72 L318.4,117.54 L318.9,117.38 L319.4,117.24 L319.9,117.12 L320.4,117.02 L320.9,116.94 L321.4,116.89 L321.9,116.86 L322.4,116.86 L322.9,116.87 L323.4,116.92 L323.9,116.98 L324.4,117.07 L324.9,117.18 L325.4,117.31 L325.9,117.47 L326.4,117.64 L326.9,117.83 L327.4,118.05 L327.9,118.27 L328.4,118.52 L328.9,118.77 L329.4,119.04 L329.9,119.32 L330.4,119.61 L330.9,119.9 L331.4,120.21 L331.9,120.51 L332.4,120.82 L332.9,121.13 L333.4,121.44 L333.9,121.75 L334.4,122.05 L334.9,122.35 L335.4,122.65 L335.9,122.94 L336.4,123.22 L336.9,123.5 L337.4,123.77 L337.9,124.02 L338.4,124.27 L338.9,124.51 L339.4,124.75 L339.9,124.97 L340.4,125.18 L340.9,125.39 L341.4,125.59 L341.9,125.78 L342.4,125.97 L342.9,126.15 L343.4,126.32 L343.9,126.49 L344.4,126.65 L344.9,126.8 L345.4,126.95 L345.9,127.09 L346.4,127.22 L346.9,127.35 L347.4,127.48 L347.9,127.6 L348.4,127.71 L348.9,127.82 L349.4,127.92 L349.9,128.02 L349.9,128.29 L349.4,128.23 L348.9,128.17 L348.4,128.11 L347.9,128.04 L347.4,127.98 L346.9,127.92 L346.4,127.86 L345.9,127.8 L345.4,127.75 L344.9,127.69 L344.4,127.64 L343.9,127.59 L343.4,127.54 L342.9,127.49 L342.4,127.45 L341.9,127.41 L341.4,127.38 L340.9,127.35 L340.4,127.32 L339.9,127.3 L339.4,127.27 L338.9,127.25 L338.4,127.24 L337.9,127.22 L337.4,127.2 L336.9,127.18 L336.4,127.17 L335.9,127.15 L335.4,127.14 L334.9,127.12 L334.4,127.11 L333.9,127.09 L333.4,127.08 L332.9,127.07 L332.4,127.06 L331.9,127.05 L331.4,127.04 L330.9,127.02 L330.4,127.01 L329.9,127 L329.4,126.99 L328.9,126.98 L328.4,126.97 L327.9,126.96 L327.4,126.95 L326.9,126.94 L326.4,126.94 L325.9,126.93 L325.4,126.92 L324.9,126.91 L324.4,126.9 L323.9,126.89 L323.4,126.88 L322.9,126.87 L322.4,126.86 L321.9,126.84 L321.4,126.83 L320.9,126.82 L320.4,126.81 L319.9,126.8 L319.4,126.79 L318.9,126.77 L318.4,126.76 L317.9,126.75 L317.4,126.74 L316.9,126.72 L316.4,126.71 L315.9,126.7 L315.4,126.69 L314.9,126.68 L314.4,126.66 L313.9,126.65 L313.4,126.64 L312.9,126.63 L312.4,126.62 L311.9,126.6 L311.4,126.59 L310.9,126.58 L310.4,126.57 L309.9,126.56 L309.4,126.54 L308.9,126.53 L308.4,126.52 L307.9,126.51 L307.4,126.5 L306.9,126.48 L306.4,126.47 L305.9,126.46 L305.4,126.45 L304.9,126.43 L304.4,126.42 L303.9,126.41 L303.4,126.39 L302.9,126.38 L302.4,126.37 L301.9,126.35 L301.4,126.34 L300.9,126.33 L300.4,126.31 L299.9,126.3 L299.4,126.28 L298.9,126.27 L298.4,126.25 L297.9,126.24 L297.4,126.22 L296.9,126.21 L296.4,126.19 L295.9,126.18 L295.4,126.16 L294.9,126.15 Z" fill="url(#g14)" stroke="none"/>
<path d="M294.9,125.89 L295.4,125.87 L295.9,125.85 L296.4,125.82 L296.9,125.78 L297.4,125.74 L297.9,125.7 L298.4,125.64 L298.9,125.58 L299.4,125.52 L299.9,125.44 L300.4,125.36 L300.9,125.27 L301.4,125.17 L301.9,125.06 L302.4,124.94 L302.9,124.81 L303.4,124.67 L303.9,124.52 L304.4,124.35 L304.9,124.18 L305.4,124 L305.9,123.8 L306.4,123.6 L306.9,123.38 L307.4,123.16 L307.9,122.92 L308.4,122.68 L308.9,122.43 L309.4,122.17 L309.9,121.9 L310.4,121.63 L310.9,121.35 L311.4,121.07 L311.9,120.78 L312.4,120.5 L312.9,120.21 L313.4,119.93 L313.9,119.65 L314.4,119.37 L314.9,119.1 L315.4,118.84 L315.9,118.59 L316.4,118.35 L316.9,118.13 L317.4,117.91 L317.9,117.72 L318.4,117.54 L318.9,117.38 L319.4,117.24 L319.9,117.12 L320.4,117.02 L320.9,116.94 L321.4,116.89 L321.9,116.86 L322.4,116.86 L322.9,116.87 L323.4,116.92 L323.9,116.98 L324.4,117.07 L324.9,117.18 L325.4,117.31 L325.9,117.47 L326.4,117.64 L326.9,117.83 L327.4,118.05 L327.9,118.27 L328.4,118.52 L328.9,118.77 L329.4,119.04 L329.9,119.32 L330.4,119.61 L330.9,119.9 L331.4,120.21 L331.9,120.51 L332.4,120.82 L332.9,121.13 L333.4,121.44 L333.9,121.75 L334.4,122.05 L334.9,122.35 L335.4,122.65 L335.9,122.94 L336.4,123.22 L336.9,123.5 L337.4,123.77 L337.9,124.02 L338.4,124.27 L338.9,124.51 L339.4,124.75 L339.9,124.97 L340.4,125.18 L340.9,125.39 L341.4,125.59 L341.9,125.78 L342.4,125.97 L342.9,126.15 L343.4,126.32 L343.9,126.49 L344.4,126.65 L344.9,126.8 L345.4,126.95 L345.9,127.09 L346.4,127.22 L346.9,127.35 L347.4,127.48 L347.9,127.6 L348.4,127.71 L348.9,127.82 L349.4,127.92 L349.9,128.02" fill="none" stroke="#0b9a2c" stroke-width="1.4" stroke-linejoin="round"/>
<path d="M402.4,136.37 L402.9,136.35 L403.4,136.32 L403.9,136.26 L404.4,136.17 L404.9,136.04 L405.4,135.88 L405.9,135.67 L406.4,135.41 L406.9,135.1 L407.4,134.73 L407.9,134.3 L408.4,133.8 L408.9,133.24 L409.4,132.62 L409.9,131.95 L410.4,131.21 L410.9,130.43 L411.4,129.61 L411.9,128.77 L412.4,127.92 L412.9,127.07 L413.4,126.25 L413.9,125.47 L414.4,124.75 L414.9,124.11 L415.4,123.56 L415.9,123.13 L416.4,122.82 L416.9,122.65 L417.4,122.61 L417.9,122.73 L418.4,122.98 L418.9,123.37 L419.4,123.9 L419.9,124.54 L420.4,125.29 L420.9,126.12 L421.4,127.03 L421.9,128 L422.4,129 L422.9,130.01 L423.4,131.03 L423.9,132.03 L424.4,133.01 L424.9,133.94 L425.4,134.83 L425.9,135.66 L426.4,136.44 L426.9,137.15 L427.4,137.81 L427.9,138.4 L428.4,138.94 L428.9,139.42 L429.4,139.86 L429.9,140.25 L430.4,140.6 L430.9,140.91 L431.4,141.2 L431.9,141.46 L432.4,141.71 L432.4,142.02 L431.9,141.86 L431.4,141.71 L430.9,141.57 L430.4,141.43 L429.9,141.29 L429.4,141.15 L428.9,141.02 L428.4,140.88 L427.9,140.75 L427.4,140.62 L426.9,140.49 L426.4,140.36 L425.9,140.24 L425.4,140.12 L424.9,140 L424.4,139.88 L423.9,139.77 L423.4,139.66 L422.9,139.55 L422.4,139.45 L421.9,139.35 L421.4,139.25 L420.9,139.16 L420.4,139.07 L419.9,138.98 L419.4,138.9 L418.9,138.83 L418.4,138.75 L417.9,138.68 L417.4,138.61 L416.9,138.55 L416.4,138.48 L415.9,138.42 L415.4,138.36 L414.9,138.3 L414.4,138.24 L413.9,138.18 L413.4,138.12 L412.9,138.06 L412.4,138 L411.9,137.94 L411.4,137.88 L410.9,137.82 L410.4,137.75 L409.9,137.69 L409.4,137.62 L408.9,137.55 L408.4,137.48 L407.9,137.41 L407.4,137.35 L406.9,137.28 L406.4,137.21 L405.9,137.14 L405.4,137.07 L404.9,137 L404.4,136.93 L403.9,136.86 L403.4,136.79 L402.9,136.72 L402.4,136.64 Z" fill="url(#g15)" stroke="none"/>
<path d="M402.4,136.37 L402.9,136.35 L403.4,136.32 L403.9,136.26 L404.4,136.17 L404.9,136.04 L405.4,135.88 L405.9,135.67 L406.4,135.41 L406.9,135.1 L407.4,134.73 L407.9,134.3 L408.4,133.8 L408.9,133.24 L409.4,132.62 L409.9,131.95 L410.4,131.21 L410.9,130.43 L411.4,129.61 L411.9,128.77 L412.4,127.92 L412.9,127.07 L413.4,126.25 L413.9,125.47 L414.4,124.75 L414.9,124.11 L415.4,123.56 L415.9,123.13 L416.4,122.82 L416.9,122.65 L417.4,122.61 L417.9,122.73 L418.4,122.98 L418.9,123.37 L419.4,123.9 L419.9,124.54 L420.4,125.29 L420.9,126.12 L421.4,127.03 L421.9,128 L422.4,129 L422.9,130.01 L423.4,131.03 L423.9,132.03 L424.4,133.01 L424.9,133.94 L425.4,134.83 L425.9,135.66 L426.4,136.44 L426.9,137.15 L427.4,137.81 L427.9,138.4 L428.4,138.94 L428.9,139.42 L429.4,139.86 L429.9,140.25 L430.4,140.6 L430.9,140.91 L431.4,141.2 L431.9,141.46 L432.4,141.71" fill="none" stroke="#ff33ff" stroke-width="1.3" stroke-linejoin="round"/>
<path d="M323.9,126.59 L324.4,126.51 L324.9,126.41 L325.4,126.29 L325.9,126.14 L326.4,125.96 L326.9,125.74 L327.4,125.48 L327.9,125.18 L328.4,124.84 L328.9,124.46 L329.4,124.02 L329.9,123.55 L330.4,123.04 L330.9,122.49 L331.4,121.91 L331.9,121.31 L332.4,120.69 L332.9,120.08 L333.4,119.49 L333.9,118.91 L334.4,118.38 L334.9,117.9 L335.4,117.49 L335.9,117.16 L336.4,116.91 L336.9,116.76 L337.4,116.7 L337.9,116.75 L338.4,116.9 L338.9,117.14 L339.4,117.48 L339.9,117.9 L340.4,118.39 L340.9,118.94 L341.4,119.54 L341.9,120.18 L342.4,120.84 L342.9,121.51 L343.4,122.17 L343.9,122.82 L344.4,123.44 L344.9,124.03 L345.4,124.59 L345.9,125.11 L346.4,125.58 L346.9,126.01 L347.4,126.39 L347.9,126.74 L348.4,127.04 L348.9,127.31 L349.4,127.54 L349.9,127.74 L350.4,127.92 L350.9,128.08 L351.4,128.22 L351.4,128.48 L350.9,128.41 L350.4,128.35 L349.9,128.29 L349.4,128.23 L348.9,128.17 L348.4,128.11 L347.9,128.04 L347.4,127.98 L346.9,127.92 L346.4,127.86 L345.9,127.8 L345.4,127.75 L344.9,127.69 L344.4,127.64 L343.9,127.59 L343.4,127.54 L342.9,127.49 L342.4,127.45 L341.9,127.41 L341.4,127.38 L340.9,127.35 L340.4,127.32 L339.9,127.3 L339.4,127.27 L338.9,127.25 L338.4,127.24 L337.9,127.22 L337.4,127.2 L336.9,127.18 L336.4,127.17 L335.9,127.15 L335.4,127.14 L334.9,127.12 L334.4,127.11 L333.9,127.09 L333.4,127.08 L332.9,127.07 L332.4,127.06 L331.9,127.05 L331.4,127.04 L330.9,127.02 L330.4,127.01 L329.9,127 L329.4,126.99 L328.9,126.98 L328.4,126.97 L327.9,126.96 L327.4,126.95 L326.9,126.94 L326.4,126.94 L325.9,126.93 L325.4,126.92 L324.9,126.91 L324.4,126.9 L323.9,126.89 Z" fill="url(#g16)" stroke="none"/>
<path d="M323.9,126.59 L324.4,126.51 L324.9,126.41 L325.4,126.29 L325.9,126.14 L326.4,125.96 L326.9,125.74 L327.4,125.48 L327.9,125.18 L328.4,124.84 L328.9,124.46 L329.4,124.02 L329.9,123.55 L330.4,123.04 L330.9,122.49 L331.4,121.91 L331.9,121.31 L332.4,120.69 L332.9,120.08 L333.4,119.49 L333.9,118.91 L334.4,118.38 L334.9,117.9 L335.4,117.49 L335.9,117.16 L336.4,116.91 L336.9,116.76 L337.4,116.7 L337.9,116.75 L338.4,116.9 L338.9,117.14 L339.4,117.48 L339.9,117.9 L340.4,118.39 L340.9,118.94 L341.4,119.54 L341.9,120.18 L342.4,120.84 L342.9,121.51 L343.4,122.17 L343.9,122.82 L344.4,123.44 L344.9,124.03 L345.4,124.59 L345.9,125.11 L346.4,125.58 L346.9,126.01 L347.4,126.39 L347.9,126.74 L348.4,127.04 L348.9,127.31 L349.4,127.54 L349.9,127.74 L350.4,127.92 L350.9,128.08 L351.4,128.22" fill="none" stroke="#ff33ff" stroke-width="1.3" stroke-linejoin="round"/>
<path d="M282.9,125.73 L283.4,125.75 L283.9,125.77 L284.4,125.79 L284.9,125.81 L285.4,125.82 L285.9,125.84 L286.4,125.86 L286.9,125.88 L287.4,125.9 L287.9,125.91 L288.4,125.93 L288.9,125.95 L289.4,125.97 L289.9,125.98 L290.4,126 L290.9,126.02 L291.4,126.03 L291.9,126.05 L292.4,126.07 L292.9,126.08 L293.4,126.1 L293.9,126.11 L294.4,126.13 L294.9,126.15 L295.4,126.16 L295.9,126.18 L296.4,126.19 L296.9,126.21 L297.4,126.22 L297.9,126.24 L298.4,126.25 L298.9,126.27 L299.4,126.28 L299.9,126.3 L300.4,126.31 L300.9,126.33 L301.4,126.34 L301.9,126.35 L302.4,126.37 L302.9,126.38 L303.4,126.39 L303.9,126.41 L304.4,126.42 L304.9,126.43 L305.4,126.45 L305.9,126.46 L306.4,126.47 L306.9,126.48 L307.4,126.5 L307.9,126.51 L308.4,126.52 L308.9,126.53 L309.4,126.54 L309.9,126.56 L310.4,126.57 L310.9,126.58 L311.4,126.59 L311.9,126.6 L312.4,126.62 L312.9,126.63 L313.4,126.64 L313.9,126.65 L314.4,126.66 L314.9,126.68 L315.4,126.69 L315.9,126.7 L316.4,126.71 L316.9,126.72 L317.4,126.74 L317.9,126.75 L318.4,126.76 L318.9,126.77 L319.4,126.79 L319.9,126.8 L320.4,126.81 L320.9,126.82 L321.4,126.83 L321.9,126.84 L322.4,126.86 L322.9,126.87 L323.4,126.88 L323.9,126.89 L324.4,126.9 L324.9,126.91 L325.4,126.92 L325.9,126.93 L326.4,126.94 L326.9,126.94 L327.4,126.95 L327.9,126.96 L328.4,126.97 L328.9,126.98 L329.4,126.99 L329.9,127 L330.4,127.01 L330.9,127.02 L331.4,127.04 L331.9,127.05 L332.4,127.06 L332.9,127.07 L333.4,127.08 L333.9,127.09 L334.4,127.11 L334.9,127.12 L335.4,127.14 L335.9,127.15 L336.4,127.17 L336.9,127.18 L337.4,127.2 L337.9,127.22 L338.4,127.24 L338.9,127.25 L339.4,127.27 L339.9,127.3 L340.4,127.32 L340.9,127.35 L341.4,127.38 L341.9,127.41 L342.4,127.45 L342.9,127.49 L343.4,127.54 L343.9,127.59 L344.4,127.64 L344.9,127.69 L345.4,127.75 L345.9,127.8 L346.4,127.86 L346.9,127.92 L347.4,127.98 L347.9,128.04 L348.4,128.11 L348.9,128.17 L349.4,128.23 L349.9,128.29 L350.4,128.35 L350.9,128.41 L351.4,128.48 L351.9,128.55 L352.4,128.62 L352.9,128.69 L353.4,128.77 L353.9,128.84 L354.4,128.92 L354.9,129 L355.4,129.08 L355.9,129.16 L356.4,129.24 L356.9,129.32 L357.4,129.39 L357.9,129.47 L358.4,129.55 L358.9,129.63 L359.4,129.71 L359.9,129.78 L360.4,129.86 L360.9,129.93 L361.4,130.01 L361.9,130.08 L362.4,130.16 L362.9,130.23 L363.4,130.31 L363.9,130.38 L364.4,130.45 L364.9,130.53 L365.4,130.6 L365.9,130.68 L366.4,130.75 L366.9,130.83 L367.4,130.9 L367.9,130.98 L368.4,131.05 L368.9,131.13 L369.4,131.21 L369.9,131.28 L370.4,131.36 L370.9,131.44 L371.4,131.52 L371.9,131.59 L372.4,131.67 L372.9,131.75 L373.4,131.83 L373.9,131.9 L374.4,131.98 L374.9,132.06 L375.4,132.14 L375.9,132.22 L376.4,132.3 L376.9,132.38 L377.4,132.46 L377.9,132.54 L378.4,132.63 L378.9,132.71 L379.4,132.8 L379.9,132.88 L380.4,132.97 L380.9,133.06 L381.4,133.15 L381.9,133.25 L382.4,133.34 L382.9,133.44 L383.4,133.54 L383.9,133.64 L384.4,133.74 L384.9,133.84 L385.4,133.94 L385.9,134.04 L386.4,134.14 L386.9,134.23 L387.4,134.33 L387.9,134.42 L388.4,134.52 L388.9,134.61 L389.4,134.7 L389.9,134.78 L390.4,134.87 L390.9,134.95 L391.4,135.03 L391.9,135.11 L392.4,135.19 L392.9,135.26 L393.4,135.34 L393.9,135.42 L394.4,135.49 L394.9,135.56 L395.4,135.64 L395.9,135.71 L396.4,135.78 L396.9,135.85 L397.4,135.93 L397.9,136 L398.4,136.07 L398.9,136.14 L399.4,136.21 L399.9,136.29 L400.4,136.36 L400.9,136.43 L401.4,136.5 L401.9,136.57 L402.4,136.64 L402.9,136.72 L403.4,136.79 L403.9,136.86 L404.4,136.93 L404.9,137 L405.4,137.07 L405.9,137.14 L406.4,137.21 L406.9,137.28 L407.4,137.35 L407.9,137.41 L408.4,137.48 L408.9,137.55 L409.4,137.62 L409.9,137.69 L410.4,137.75 L410.9,137.82 L411.4,137.88 L411.9,137.94 L412.4,138 L412.9,138.06 L413.4,138.12 L413.9,138.18 L414.4,138.24 L414.9,138.3 L415.4,138.36 L415.9,138.42 L416.4,138.48 L416.9,138.55 L417.4,138.61 L417.9,138.68 L418.4,138.75 L418.9,138.83 L419.4,138.9 L419.9,138.98 L420.4,139.07 L420.9,139.16 L421.4,139.25 L421.9,139.35 L422.4,139.45 L422.9,139.55 L423.4,139.66 L423.9,139.77 L424.4,139.88 L424.9,140 L425.4,140.12 L425.9,140.24 L426.4,140.36 L426.9,140.49 L427.4,140.62 L427.9,140.75 L428.4,140.88 L428.9,141.02 L429.4,141.15 L429.9,141.29 L430.4,141.43 L430.9,141.57 L431.4,141.71 L431.9,141.86 L432.4,142.02 L432.9,142.18 L433.4,142.34 L433.9,142.51 L434.4,142.68 L434.9,142.85 L435.4,143.03 L435.9,143.21 L436.4,143.39 L436.9,143.57 L437.4,143.76 L437.9,143.94 L438.4,144.12 L438.9,144.3 L439.4,144.48 L439.9,144.66 L440.4,144.84 L440.9,145.02 L441.4,145.21 L441.9,145.39 L442.4,145.58 L442.9,145.76 L443.4,145.95 L443.9,146.14 L444.4,146.33 L444.9,146.51 L445.4,146.7 L445.9,146.89 L446.4,147.08 L446.9,147.27 L447.4,147.45 L447.9,147.64 L448.4,147.82 L448.9,148.01 L449.4,148.19 L449.9,148.36 L450.4,148.54 L450.9,148.72 L451.4,148.91 L451.9,149.09 L452.4,149.27 L452.9,149.46 L453.4,149.64 L453.9,149.83 L454.4,150.01 L454.9,150.19 L455.4,150.37 L455.9,150.55 L456.4,150.72 L456.9,150.89 L457.4,151.05 L457.9,151.21 L458.4,151.36 L458.9,151.5 L459.4,151.64 L459.9,151.77 L460.4,151.9 L460.9,152.03 L461.4,152.15 L461.9,152.28 L462.4,152.4 L462.9,152.52 L463.4,152.64 L463.9,152.76 L464.4,152.87 L464.9,152.99 L465.4,153.09 L465.9,153.19 L466.4,153.29 L466.9,153.38 L467.4,153.47 L467.9,153.55 L468.4,153.62 L468.9,153.68 L469.4,153.74 L469.9,153.79 L470.4,153.83 L470.9,153.88 L471.4,153.92 L471.9,153.96 L472.4,154 L472.9,154.04 L473.4,154.08 L473.9,154.11 L474.4,154.15 L474.9,154.18 L475.4,154.21 L475.9,154.24 L476.4,154.27 L476.9,154.29 L477.4,154.32 L477.9,154.34 L478.4,154.36 L478.9,154.37 L479.4,154.38" fill="none" stroke="#13898b" stroke-width="1.5"/>
<g fill="none" stroke="#858585" stroke-width="0.8"><circle cx="283.78" cy="123.15" r="2.5"/><circle cx="285.53" cy="121.84" r="2.5"/><circle cx="286.25" cy="122.24" r="2.5"/><circle cx="288.8" cy="121.87" r="2.5"/><circle cx="289.9" cy="121.36" r="2.5"/><circle cx="291.76" cy="123.88" r="2.5"/><circle cx="291.75" cy="122.4" r="2.5"/><circle cx="293.5" cy="121.74" r="2.5"/><circle cx="295.53" cy="123.18" r="2.5"/><circle cx="296.61" cy="120.38" r="2.5"/><circle cx="299.12" cy="121.06" r="2.5"/><circle cx="299.58" cy="119.44" r="2.5"/><circle cx="301.03" cy="120.9" r="2.5"/><circle cx="303.26" cy="121.01" r="2.5"/><circle cx="304.31" cy="119.58" r="2.5"/><circle cx="305.25" cy="118.58" r="2.5"/><circle cx="307.63" cy="119.15" r="2.5"/><circle cx="309.08" cy="118.08" r="2.5"/><circle cx="310.11" cy="117.81" r="2.5"/><circle cx="311.38" cy="117.41" r="2.5"/><circle cx="314.04" cy="118.95" r="2.5"/><circle cx="315.06" cy="117.04" r="2.5"/><circle cx="316.68" cy="118.26" r="2.5"/><circle cx="317.7" cy="116.81" r="2.5"/><circle cx="319.84" cy="118" r="2.5"/><circle cx="320.67" cy="114.54" r="2.5"/><circle cx="322.43" cy="115.47" r="2.5"/><circle cx="322.32" cy="113.67" r="2.5"/><circle cx="325.4" cy="113.92" r="2.5"/><circle cx="326.98" cy="112.56" r="2.5"/><circle cx="327.63" cy="111.49" r="2.5"/><circle cx="329.61" cy="111.5" r="2.5"/><circle cx="331.12" cy="111.41" r="2.5"/><circle cx="332.39" cy="109.33" r="2.5"/><circle cx="333.65" cy="108.97" r="2.5"/><circle cx="335.44" cy="107.35" r="2.5"/><circle cx="337.12" cy="106.13" r="2.5"/><circle cx="338.59" cy="105.34" r="2.5"/><circle cx="339.9" cy="103.26" r="2.5"/><circle cx="339.46" cy="100.89" r="2.5"/><circle cx="343.2" cy="100.24" r="2.5"/><circle cx="344" cy="98.41" r="2.5"/><circle cx="345.6" cy="95.9" r="2.5"/><circle cx="347.12" cy="95.53" r="2.5"/><circle cx="348.48" cy="94.32" r="2.5"/><circle cx="349.79" cy="93.52" r="2.5"/><circle cx="352.54" cy="94.66" r="2.5"/><circle cx="354.14" cy="93.89" r="2.5"/><circle cx="354.44" cy="92.36" r="2.5"/><circle cx="356.23" cy="91.67" r="2.5"/><circle cx="357.47" cy="90.02" r="2.5"/><circle cx="360.5" cy="90.69" r="2.5"/><circle cx="361.85" cy="87.69" r="2.5"/><circle cx="363.34" cy="89.57" r="2.5"/><circle cx="366.17" cy="88.51" r="2.5"/><circle cx="367.1" cy="91.97" r="2.5"/><circle cx="369.27" cy="92.35" r="2.5"/><circle cx="369.12" cy="95.78" r="2.5"/><circle cx="372.91" cy="97.2" r="2.5"/><circle cx="374.08" cy="100.1" r="2.5"/><circle cx="376.03" cy="102.3" r="2.5"/><circle cx="377.2" cy="104.93" r="2.5"/><circle cx="377.93" cy="108.02" r="2.5"/><circle cx="381.08" cy="109.93" r="2.5"/><circle cx="380.6" cy="112.58" r="2.5"/><circle cx="382.65" cy="113.13" r="2.5"/><circle cx="382.62" cy="115.01" r="2.5"/><circle cx="385.17" cy="113.96" r="2.5"/><circle cx="384.48" cy="112.4" r="2.5"/><circle cx="386.86" cy="111.79" r="2.5"/><circle cx="387.81" cy="111.78" r="2.5"/><circle cx="388.81" cy="109.6" r="2.5"/><circle cx="390.42" cy="109" r="2.5"/><circle cx="392.17" cy="107.1" r="2.5"/><circle cx="394.35" cy="107.37" r="2.5"/><circle cx="396.66" cy="109.63" r="2.5"/><circle cx="398.07" cy="107.79" r="2.5"/><circle cx="399.26" cy="106.92" r="2.5"/><circle cx="401.11" cy="109.4" r="2.5"/><circle cx="402.61" cy="108.91" r="2.5"/><circle cx="403.82" cy="109" r="2.5"/><circle cx="405.94" cy="110.58" r="2.5"/><circle cx="406.74" cy="107.76" r="2.5"/><circle cx="406.71" cy="105.84" r="2.5"/><circle cx="409.41" cy="108.23" r="2.5"/><circle cx="410.59" cy="106.26" r="2.5"/><circle cx="410.45" cy="103.65" r="2.5"/><circle cx="411.76" cy="101.47" r="2.5"/><circle cx="413.85" cy="98.74" r="2.5"/><circle cx="415.94" cy="96.49" r="2.5"/><circle cx="417.42" cy="94.25" r="2.5"/><circle cx="420.11" cy="92.35" r="2.5"/><circle cx="419.33" cy="88" r="2.5"/><circle cx="420.74" cy="85.56" r="2.5"/><circle cx="424.28" cy="83.54" r="2.5"/><circle cx="424.57" cy="79.95" r="2.5"/><circle cx="426.35" cy="76.29" r="2.5"/><circle cx="427.94" cy="72.66" r="2.5"/><circle cx="429.93" cy="69.77" r="2.5"/><circle cx="428.61" cy="65.27" r="2.5"/><circle cx="432.6" cy="63.78" r="2.5"/><circle cx="432.69" cy="60.8" r="2.5"/><circle cx="435.81" cy="59.05" r="2.5"/><circle cx="436.66" cy="56.67" r="2.5"/><circle cx="436.92" cy="53.92" r="2.5"/><circle cx="439.62" cy="53.09" r="2.5"/><circle cx="439.75" cy="50.28" r="2.5"/><circle cx="443.5" cy="50.62" r="2.5"/><circle cx="445.03" cy="48.5" r="2.5"/><circle cx="446.75" cy="47.11" r="2.5"/><circle cx="450.6" cy="49.11" r="2.5"/><circle cx="451.86" cy="52.7" r="2.5"/><circle cx="452.13" cy="59.29" r="2.5"/><circle cx="454.42" cy="71.04" r="2.5"/><circle cx="456.39" cy="83.01" r="2.5"/><circle cx="459.33" cy="93.88" r="2.5"/><circle cx="459.07" cy="105.22" r="2.5"/><circle cx="460.26" cy="115.68" r="2.5"/><circle cx="461.84" cy="124.85" r="2.5"/><circle cx="462.93" cy="131.86" r="2.5"/><circle cx="466.45" cy="137.43" r="2.5"/><circle cx="467.61" cy="141.55" r="2.5"/><circle cx="469.21" cy="144.25" r="2.5"/><circle cx="471.18" cy="145.95" r="2.5"/><circle cx="471.84" cy="148.1" r="2.5"/><circle cx="471.68" cy="150.73" r="2.5"/><circle cx="473.89" cy="150.69" r="2.5"/><circle cx="475.33" cy="152.41" r="2.5"/><circle cx="476.04" cy="151.56" r="2.5"/><circle cx="477.36" cy="153.71" r="2.5"/></g>
<path d="M282.9,124.5 L283.4,124.5 L283.9,124.49 L284.4,124.49 L284.9,124.48 L285.4,124.47 L285.9,124.47 L286.4,124.46 L286.9,124.45 L287.4,124.44 L287.9,124.42 L288.4,124.41 L288.9,124.4 L289.4,124.38 L289.9,124.37 L290.4,124.35 L290.9,124.34 L291.4,124.32 L291.9,124.3 L292.4,124.28 L292.9,124.25 L293.4,124.21 L293.9,124.16 L294.4,124.1 L294.9,124.03 L295.4,123.95 L295.9,123.87 L296.4,123.78 L296.9,123.69 L297.4,123.59 L297.9,123.49 L298.4,123.38 L298.9,123.28 L299.4,123.17 L299.9,123.06 L300.4,122.95 L300.9,122.84 L301.4,122.73 L301.9,122.62 L302.4,122.51 L302.9,122.4 L303.4,122.28 L303.9,122.15 L304.4,122.02 L304.9,121.89 L305.4,121.75 L305.9,121.6 L306.4,121.46 L306.9,121.31 L307.4,121.16 L307.9,121.01 L308.4,120.86 L308.9,120.71 L309.4,120.55 L309.9,120.41 L310.4,120.26 L310.9,120.11 L311.4,119.97 L311.9,119.83 L312.4,119.69 L312.9,119.56 L313.4,119.43 L313.9,119.3 L314.4,119.17 L314.9,119.05 L315.4,118.93 L315.9,118.8 L316.4,118.68 L316.9,118.55 L317.4,118.43 L317.9,118.3 L318.4,118.17 L318.9,118.03 L319.4,117.9 L319.9,117.75 L320.4,117.61 L320.9,117.46 L321.4,117.3 L321.9,117.13 L322.4,116.96 L322.9,116.79 L323.4,116.61 L323.9,116.43 L324.4,116.24 L324.9,116.05 L325.4,115.86 L325.9,115.65 L326.4,115.44 L326.9,115.23 L327.4,115.01 L327.9,114.78 L328.4,114.54 L328.9,114.3 L329.4,114.05 L329.9,113.79 L330.4,113.52 L330.9,113.24 L331.4,112.96 L331.9,112.66 L332.4,112.35 L332.9,112 L333.4,111.62 L333.9,111.21 L334.4,110.78 L334.9,110.34 L335.4,109.89 L335.9,109.42 L336.4,108.96 L336.9,108.49 L337.4,108.03 L337.9,107.55 L338.4,107.06 L338.9,106.57 L339.4,106.06 L339.9,105.55 L340.4,105.02 L340.9,104.49 L341.4,103.95 L341.9,103.41 L342.4,102.84 L342.9,102.21 L343.4,101.56 L343.9,100.93 L344.4,100.36 L344.9,99.88 L345.4,99.5 L345.9,99.15 L346.4,98.84 L346.9,98.55 L347.4,98.27 L347.9,98.02 L348.4,97.77 L348.9,97.53 L349.4,97.29 L349.9,97.05 L350.4,96.81 L350.9,96.58 L351.4,96.35 L351.9,96.14 L352.4,95.93 L352.9,95.72 L353.4,95.51 L353.9,95.29 L354.4,95.07 L354.9,94.85 L355.4,94.6 L355.9,94.34 L356.4,94.05 L356.9,93.76 L357.4,93.47 L357.9,93.19 L358.4,92.93 L358.9,92.69 L359.4,92.49 L359.9,92.33 L360.4,92.2 L360.9,92.07 L361.4,91.95 L361.9,91.84 L362.4,91.75 L362.9,91.67 L363.4,91.62 L363.9,91.6 L364.4,91.64 L364.9,91.79 L365.4,92.04 L365.9,92.37 L366.4,92.76 L366.9,93.19 L367.4,93.65 L367.9,94.11 L368.4,94.61 L368.9,95.24 L369.4,95.97 L369.9,96.78 L370.4,97.64 L370.9,98.51 L371.4,99.39 L371.9,100.24 L372.4,101.06 L372.9,101.9 L373.4,102.75 L373.9,103.61 L374.4,104.48 L374.9,105.34 L375.4,106.2 L375.9,107.03 L376.4,107.89 L376.9,108.8 L377.4,109.74 L377.9,110.66 L378.4,111.54 L378.9,112.34 L379.4,113.01 L379.9,113.52 L380.4,113.9 L380.9,114.27 L381.4,114.61 L381.9,114.92 L382.4,115.19 L382.9,115.4 L383.4,115.54 L383.9,115.6 L384.4,115.57 L384.9,115.45 L385.4,115.26 L385.9,115.02 L386.4,114.73 L386.9,114.44 L387.4,114.14 L387.9,113.85 L388.4,113.58 L388.9,113.27 L389.4,112.95 L389.9,112.61 L390.4,112.27 L390.9,111.94 L391.4,111.63 L391.9,111.35 L392.4,111.09 L392.9,110.81 L393.4,110.52 L393.9,110.25 L394.4,110 L394.9,109.8 L395.4,109.66 L395.9,109.6 L396.4,109.6 L396.9,109.6 L397.4,109.6 L397.9,109.6 L398.4,109.6 L398.9,109.6 L399.4,109.6 L399.9,109.6 L400.4,109.62 L400.9,109.7 L401.4,109.83 L401.9,109.97 L402.4,110.12 L402.9,110.25 L403.4,110.35 L403.9,110.4 L404.4,110.39 L404.9,110.35 L405.4,110.28 L405.9,110.18 L406.4,110.07 L406.9,109.94 L407.4,109.79 L407.9,109.63 L408.4,109.44 L408.9,109.16 L409.4,108.8 L409.9,108.37 L410.4,107.88 L410.9,107.35 L411.4,106.77 L411.9,106.17 L412.4,105.55 L412.9,104.93 L413.4,104.26 L413.9,103.48 L414.4,102.62 L414.9,101.7 L415.4,100.78 L415.9,99.86 L416.4,99 L416.9,98.18 L417.4,97.39 L417.9,96.6 L418.4,95.81 L418.9,95.02 L419.4,94.21 L419.9,93.37 L420.4,92.51 L420.9,91.64 L421.4,90.76 L421.9,89.87 L422.4,88.96 L422.9,88.04 L423.4,87.09 L423.9,86.13 L424.4,85.13 L424.9,84.11 L425.4,83.04 L425.9,81.89 L426.4,80.69 L426.9,79.45 L427.4,78.19 L427.9,76.92 L428.4,75.67 L428.9,74.46 L429.4,73.3 L429.9,72.21 L430.4,71.18 L430.9,70.18 L431.4,69.2 L431.9,68.25 L432.4,67.32 L432.9,66.41 L433.4,65.53 L433.9,64.68 L434.4,63.85 L434.9,63.06 L435.4,62.28 L435.9,61.53 L436.4,60.8 L436.9,60.08 L437.4,59.39 L437.9,58.72 L438.4,58.06 L438.9,57.43 L439.4,56.81 L439.9,56.22 L440.4,55.63 L440.9,55.04 L441.4,54.45 L441.9,53.88 L442.4,53.34 L442.9,52.85 L443.4,52.42 L443.9,52.06 L444.4,51.76 L444.9,51.46 L445.4,51.17 L445.9,50.92 L446.4,50.71 L446.9,50.57 L447.4,50.5 L447.9,50.56 L448.4,50.79 L448.9,51.17 L449.4,51.67 L449.9,52.27 L450.4,53.19 L450.9,54.83 L451.4,57 L451.9,59.48 L452.4,62.54 L452.9,66.65 L453.4,71.22 L453.9,75.6 L454.4,79.47 L454.9,83.19 L455.4,86.84 L455.9,90.49 L456.4,94.19 L456.9,97.97 L457.4,101.76 L457.9,105.46 L458.4,109 L458.9,112.44 L459.4,115.86 L459.9,119.15 L460.4,122.23 L460.9,124.99 L461.4,127.47 L461.9,129.87 L462.4,132.16 L462.9,134.32 L463.4,136.33 L463.9,138.17 L464.4,139.82 L464.9,141.24 L465.4,142.47 L465.9,143.59 L466.4,144.61 L466.9,145.54 L467.4,146.39 L467.9,147.16 L468.4,147.87 L468.9,148.52 L469.4,149.13 L469.9,149.71 L470.4,150.24 L470.9,150.72 L471.4,151.15 L471.9,151.53 L472.4,151.87 L472.9,152.18 L473.4,152.47 L473.9,152.74 L474.4,152.99 L474.9,153.21 L475.4,153.4 L475.9,153.57 L476.4,153.72 L476.9,153.86 L477.4,153.99 L477.9,154.12 L478.4,154.24 L478.9,154.34 L479.4,154.43" fill="none" stroke="#4a6cf2" stroke-width="1.45" stroke-linejoin="round"/>
<path d="M353.4,267.24 L353.9,267.31 L354.4,267.38 L354.9,267.45 L355.4,267.53 L355.9,267.6 L356.4,267.67 L356.9,267.75 L357.4,267.82 L357.9,267.89 L358.4,267.97 L358.9,268.04 L359.4,268.11 L359.9,268.19 L360.4,268.26 L360.9,268.34 L361.4,268.42 L361.9,268.5 L362.4,268.58 L362.9,268.66 L363.4,268.74 L363.9,268.82 L364.4,268.9 L364.9,268.98 L365.4,269.06 L365.9,269.14 L366.4,269.22 L366.9,269.3 L367.4,269.37 L367.9,269.44 L368.4,269.51 L368.9,269.58 L369.4,269.64 L369.9,269.7 L370.4,269.75 L370.9,269.81 L371.4,269.86 L371.9,269.9 L372.4,269.95 L372.9,269.99 L373.4,270.04 L373.9,270.08 L374.4,270.12 L374.9,270.16 L375.4,270.19 L375.9,270.23 L376.4,270.27 L376.9,270.31 L377.4,270.35 L377.9,270.39 L378.4,270.43 L378.9,270.47 L379.4,270.51 L379.9,270.56 L380.4,270.6 L380.9,270.65 L381.4,270.7 L381.9,270.74 L382.4,270.79 L382.9,270.84 L383.4,270.89 L383.9,270.94 L384.4,270.99 L384.9,271.04 L385.4,271.09 L385.9,271.14 L386.4,271.19 L386.9,271.24 L387.4,271.29 L387.9,271.34 L388.4,271.38 L388.9,271.43 L389.4,271.47 L389.9,271.51 L390.4,271.55 L390.9,271.59 L391.4,271.63 L391.9,271.67 L392.4,271.7 L392.9,271.73 L393.4,271.76 L393.9,271.8 L394.4,271.83 L394.9,271.86 L395.4,271.88 L395.9,271.91 L396.4,271.94 L396.9,271.97 L397.4,272 L397.9,272.03 L398.4,272.06 L398.9,272.1 L399.4,272.13 L399.9,272.16 L400.4,272.2 L400.9,272.24 L401.4,272.28 L401.9,272.31 L402.4,272.36 L402.9,272.4 L403.4,272.44 L403.9,272.48 L404.4,272.52 L404.9,272.56 L405.4,272.6 L405.9,272.64 L406.4,272.68 L406.9,272.71 L407.4,272.75 L407.9,272.78 L408.4,272.81 L408.9,272.84 L409.4,272.86 L409.9,272.88 L410.4,272.9 L410.9,272.91 L411.4,272.92 L411.9,272.92 L412.4,272.92 L412.9,272.91 L413.4,272.89 L413.9,272.87 L414.4,272.84 L414.9,272.8 L415.4,272.75 L415.9,272.69 L416.4,272.61 L416.9,272.52 L417.4,272.41 L417.9,272.27 L418.4,272.12 L418.9,271.93 L419.4,271.71 L419.9,271.46 L420.4,271.17 L420.9,270.83 L421.4,270.44 L421.9,269.99 L422.4,269.47 L422.9,268.88 L423.4,268.22 L423.9,267.47 L424.4,266.62 L424.9,265.67 L425.4,264.62 L425.9,263.46 L426.4,262.18 L426.9,260.77 L427.4,259.25 L427.9,257.61 L428.4,255.84 L428.9,253.96 L429.4,251.96 L429.9,249.86 L430.4,247.68 L430.9,245.42 L431.4,243.11 L431.9,240.76 L432.4,238.42 L432.9,236.11 L433.4,233.86 L433.9,231.72 L434.4,229.74 L434.9,227.96 L435.4,226.45 L435.9,225.23 L436.4,224.37 L436.9,223.89 L437.4,223.83 L437.9,224.18 L438.4,224.96 L438.9,226.12 L439.4,227.66 L439.9,229.51 L440.4,231.64 L440.9,234 L441.4,236.54 L441.9,239.21 L442.4,241.96 L442.9,244.75 L443.4,247.55 L443.9,250.33 L444.4,253.06 L444.9,255.72 L445.4,258.28 L445.9,260.75 L446.4,263.1 L446.9,265.33 L447.4,267.43 L447.9,269.4 L448.4,271.24 L448.9,272.94 L449.4,274.51 L449.9,275.95 L450.4,277.27 L450.9,278.49 L451.4,279.59 L451.9,280.6 L452.4,281.52 L452.9,282.36 L453.4,283.12 L453.9,283.81 L454.4,284.44 L454.9,285.01 L455.4,285.53 L455.9,286.01 L456.4,286.44 L456.9,286.84 L457.4,287.21 L457.9,287.55 L458.4,287.86 L458.9,288.15 L459.4,288.43 L459.9,288.68 L460.4,288.92 L460.9,289.15 L461.4,289.36 L461.9,289.57 L462.4,289.76 L462.9,289.95 L463.4,290.12 L463.9,290.29 L464.4,290.46 L464.9,290.62 L465.4,290.77 L465.9,290.91 L466.4,291.05 L466.9,291.19 L467.4,291.32 L467.9,291.45 L468.4,291.58 L468.9,291.7 L469.4,291.82 L469.9,291.93 L470.4,292.04 L470.9,292.15 L471.4,292.26 L471.9,292.36 L472.4,292.47 L472.9,292.56 L473.4,292.66 L473.9,292.76 L474.4,292.85 L474.9,292.94 L475.4,293.03 L475.9,293.11 L476.4,293.2 L476.9,293.28 L477.4,293.36 L477.9,293.44 L478.4,293.51 L478.9,293.59 L479.4,293.66 L479.4,294.65 L478.9,294.6 L478.4,294.55 L477.9,294.5 L477.4,294.45 L476.9,294.4 L476.4,294.34 L475.9,294.29 L475.4,294.23 L474.9,294.17 L474.4,294.12 L473.9,294.06 L473.4,294 L472.9,293.94 L472.4,293.88 L471.9,293.81 L471.4,293.75 L470.9,293.69 L470.4,293.62 L469.9,293.56 L469.4,293.49 L468.9,293.42 L468.4,293.35 L467.9,293.28 L467.4,293.21 L466.9,293.14 L466.4,293.07 L465.9,293 L465.4,292.92 L464.9,292.84 L464.4,292.76 L463.9,292.68 L463.4,292.6 L462.9,292.52 L462.4,292.43 L461.9,292.35 L461.4,292.26 L460.9,292.17 L460.4,292.08 L459.9,291.98 L459.4,291.88 L458.9,291.78 L458.4,291.68 L457.9,291.58 L457.4,291.47 L456.9,291.36 L456.4,291.25 L455.9,291.13 L455.4,291.01 L454.9,290.89 L454.4,290.76 L453.9,290.63 L453.4,290.5 L452.9,290.36 L452.4,290.22 L451.9,290.08 L451.4,289.93 L450.9,289.78 L450.4,289.63 L449.9,289.47 L449.4,289.3 L448.9,289.12 L448.4,288.92 L447.9,288.72 L447.4,288.51 L446.9,288.29 L446.4,288.07 L445.9,287.83 L445.4,287.6 L444.9,287.36 L444.4,287.11 L443.9,286.87 L443.4,286.62 L442.9,286.37 L442.4,286.13 L441.9,285.89 L441.4,285.65 L440.9,285.41 L440.4,285.18 L439.9,284.96 L439.4,284.73 L438.9,284.51 L438.4,284.28 L437.9,284.05 L437.4,283.82 L436.9,283.59 L436.4,283.36 L435.9,283.13 L435.4,282.9 L434.9,282.68 L434.4,282.45 L433.9,282.23 L433.4,282.01 L432.9,281.79 L432.4,281.58 L431.9,281.36 L431.4,281.16 L430.9,280.95 L430.4,280.76 L429.9,280.56 L429.4,280.37 L428.9,280.18 L428.4,279.99 L427.9,279.8 L427.4,279.61 L426.9,279.43 L426.4,279.25 L425.9,279.06 L425.4,278.89 L424.9,278.71 L424.4,278.54 L423.9,278.37 L423.4,278.2 L422.9,278.04 L422.4,277.89 L421.9,277.73 L421.4,277.59 L420.9,277.44 L420.4,277.31 L419.9,277.17 L419.4,277.05 L418.9,276.92 L418.4,276.8 L417.9,276.69 L417.4,276.57 L416.9,276.46 L416.4,276.35 L415.9,276.25 L415.4,276.14 L414.9,276.04 L414.4,275.94 L413.9,275.84 L413.4,275.74 L412.9,275.65 L412.4,275.55 L411.9,275.46 L411.4,275.36 L410.9,275.27 L410.4,275.18 L409.9,275.08 L409.4,274.99 L408.9,274.89 L408.4,274.8 L407.9,274.71 L407.4,274.61 L406.9,274.52 L406.4,274.43 L405.9,274.34 L405.4,274.25 L404.9,274.16 L404.4,274.08 L403.9,273.99 L403.4,273.91 L402.9,273.83 L402.4,273.75 L401.9,273.67 L401.4,273.6 L400.9,273.52 L400.4,273.45 L399.9,273.39 L399.4,273.32 L398.9,273.26 L398.4,273.2 L397.9,273.14 L397.4,273.08 L396.9,273.03 L396.4,272.97 L395.9,272.92 L395.4,272.87 L394.9,272.82 L394.4,272.77 L393.9,272.71 L393.4,272.66 L392.9,272.61 L392.4,272.56 L391.9,272.51 L391.4,272.45 L390.9,272.4 L390.4,272.35 L389.9,272.29 L389.4,272.23 L388.9,272.17 L388.4,272.11 L387.9,272.05 L387.4,271.99 L386.9,271.93 L386.4,271.87 L385.9,271.8 L385.4,271.74 L384.9,271.68 L384.4,271.62 L383.9,271.56 L383.4,271.5 L382.9,271.44 L382.4,271.38 L381.9,271.32 L381.4,271.26 L380.9,271.2 L380.4,271.14 L379.9,271.09 L379.4,271.04 L378.9,270.98 L378.4,270.93 L377.9,270.89 L377.4,270.84 L376.9,270.79 L376.4,270.75 L375.9,270.7 L375.4,270.65 L374.9,270.61 L374.4,270.56 L373.9,270.52 L373.4,270.47 L372.9,270.42 L372.4,270.37 L371.9,270.32 L371.4,270.26 L370.9,270.21 L370.4,270.15 L369.9,270.09 L369.4,270.02 L368.9,269.96 L368.4,269.88 L367.9,269.81 L367.4,269.73 L366.9,269.66 L366.4,269.57 L365.9,269.49 L365.4,269.41 L364.9,269.32 L364.4,269.24 L363.9,269.15 L363.4,269.06 L362.9,268.98 L362.4,268.89 L361.9,268.81 L361.4,268.72 L360.9,268.64 L360.4,268.56 L359.9,268.48 L359.4,268.41 L358.9,268.33 L358.4,268.25 L357.9,268.17 L357.4,268.1 L356.9,268.02 L356.4,267.94 L355.9,267.87 L355.4,267.79 L354.9,267.72 L354.4,267.64 L353.9,267.56 L353.4,267.49 Z" fill="url(#g17)" stroke="none"/>
<path d="M353.4,267.24 L353.9,267.31 L354.4,267.38 L354.9,267.45 L355.4,267.53 L355.9,267.6 L356.4,267.67 L356.9,267.75 L357.4,267.82 L357.9,267.89 L358.4,267.97 L358.9,268.04 L359.4,268.11 L359.9,268.19 L360.4,268.26 L360.9,268.34 L361.4,268.42 L361.9,268.5 L362.4,268.58 L362.9,268.66 L363.4,268.74 L363.9,268.82 L364.4,268.9 L364.9,268.98 L365.4,269.06 L365.9,269.14 L366.4,269.22 L366.9,269.3 L367.4,269.37 L367.9,269.44 L368.4,269.51 L368.9,269.58 L369.4,269.64 L369.9,269.7 L370.4,269.75 L370.9,269.81 L371.4,269.86 L371.9,269.9 L372.4,269.95 L372.9,269.99 L373.4,270.04 L373.9,270.08 L374.4,270.12 L374.9,270.16 L375.4,270.19 L375.9,270.23 L376.4,270.27 L376.9,270.31 L377.4,270.35 L377.9,270.39 L378.4,270.43 L378.9,270.47 L379.4,270.51 L379.9,270.56 L380.4,270.6 L380.9,270.65 L381.4,270.7 L381.9,270.74 L382.4,270.79 L382.9,270.84 L383.4,270.89 L383.9,270.94 L384.4,270.99 L384.9,271.04 L385.4,271.09 L385.9,271.14 L386.4,271.19 L386.9,271.24 L387.4,271.29 L387.9,271.34 L388.4,271.38 L388.9,271.43 L389.4,271.47 L389.9,271.51 L390.4,271.55 L390.9,271.59 L391.4,271.63 L391.9,271.67 L392.4,271.7 L392.9,271.73 L393.4,271.76 L393.9,271.8 L394.4,271.83 L394.9,271.86 L395.4,271.88 L395.9,271.91 L396.4,271.94 L396.9,271.97 L397.4,272 L397.9,272.03 L398.4,272.06 L398.9,272.1 L399.4,272.13 L399.9,272.16 L400.4,272.2 L400.9,272.24 L401.4,272.28 L401.9,272.31 L402.4,272.36 L402.9,272.4 L403.4,272.44 L403.9,272.48 L404.4,272.52 L404.9,272.56 L405.4,272.6 L405.9,272.64 L406.4,272.68 L406.9,272.71 L407.4,272.75 L407.9,272.78 L408.4,272.81 L408.9,272.84 L409.4,272.86 L409.9,272.88 L410.4,272.9 L410.9,272.91 L411.4,272.92 L411.9,272.92 L412.4,272.92 L412.9,272.91 L413.4,272.89 L413.9,272.87 L414.4,272.84 L414.9,272.8 L415.4,272.75 L415.9,272.69 L416.4,272.61 L416.9,272.52 L417.4,272.41 L417.9,272.27 L418.4,272.12 L418.9,271.93 L419.4,271.71 L419.9,271.46 L420.4,271.17 L420.9,270.83 L421.4,270.44 L421.9,269.99 L422.4,269.47 L422.9,268.88 L423.4,268.22 L423.9,267.47 L424.4,266.62 L424.9,265.67 L425.4,264.62 L425.9,263.46 L426.4,262.18 L426.9,260.77 L427.4,259.25 L427.9,257.61 L428.4,255.84 L428.9,253.96 L429.4,251.96 L429.9,249.86 L430.4,247.68 L430.9,245.42 L431.4,243.11 L431.9,240.76 L432.4,238.42 L432.9,236.11 L433.4,233.86 L433.9,231.72 L434.4,229.74 L434.9,227.96 L435.4,226.45 L435.9,225.23 L436.4,224.37 L436.9,223.89 L437.4,223.83 L437.9,224.18 L438.4,224.96 L438.9,226.12 L439.4,227.66 L439.9,229.51 L440.4,231.64 L440.9,234 L441.4,236.54 L441.9,239.21 L442.4,241.96 L442.9,244.75 L443.4,247.55 L443.9,250.33 L444.4,253.06 L444.9,255.72 L445.4,258.28 L445.9,260.75 L446.4,263.1 L446.9,265.33 L447.4,267.43 L447.9,269.4 L448.4,271.24 L448.9,272.94 L449.4,274.51 L449.9,275.95 L450.4,277.27 L450.9,278.49 L451.4,279.59 L451.9,280.6 L452.4,281.52 L452.9,282.36 L453.4,283.12 L453.9,283.81 L454.4,284.44 L454.9,285.01 L455.4,285.53 L455.9,286.01 L456.4,286.44 L456.9,286.84 L457.4,287.21 L457.9,287.55 L458.4,287.86 L458.9,288.15 L459.4,288.43 L459.9,288.68 L460.4,288.92 L460.9,289.15 L461.4,289.36 L461.9,289.57 L462.4,289.76 L462.9,289.95 L463.4,290.12 L463.9,290.29 L464.4,290.46 L464.9,290.62 L465.4,290.77 L465.9,290.91 L466.4,291.05 L466.9,291.19 L467.4,291.32 L467.9,291.45 L468.4,291.58 L468.9,291.7 L469.4,291.82 L469.9,291.93 L470.4,292.04 L470.9,292.15 L471.4,292.26 L471.9,292.36 L472.4,292.47 L472.9,292.56 L473.4,292.66 L473.9,292.76 L474.4,292.85 L474.9,292.94 L475.4,293.03 L475.9,293.11 L476.4,293.2 L476.9,293.28 L477.4,293.36 L477.9,293.44 L478.4,293.51 L478.9,293.59 L479.4,293.66" fill="none" stroke="#ff1c1c" stroke-width="1.6" stroke-linejoin="round"/>
<path d="M326.9,264.04 L327.4,264.07 L327.9,264.11 L328.4,264.14 L328.9,264.18 L329.4,264.22 L329.9,264.25 L330.4,264.29 L330.9,264.32 L331.4,264.36 L331.9,264.39 L332.4,264.42 L332.9,264.45 L333.4,264.48 L333.9,264.51 L334.4,264.53 L334.9,264.54 L335.4,264.55 L335.9,264.55 L336.4,264.54 L336.9,264.53 L337.4,264.5 L337.9,264.46 L338.4,264.4 L338.9,264.33 L339.4,264.24 L339.9,264.13 L340.4,264 L340.9,263.85 L341.4,263.67 L341.9,263.46 L342.4,263.23 L342.9,262.96 L343.4,262.66 L343.9,262.32 L344.4,261.95 L344.9,261.54 L345.4,261.09 L345.9,260.6 L346.4,260.07 L346.9,259.5 L347.4,258.89 L347.9,258.24 L348.4,257.55 L348.9,256.83 L349.4,256.09 L349.9,255.32 L350.4,254.52 L350.9,253.72 L351.4,252.9 L351.9,252.09 L352.4,251.28 L352.9,250.49 L353.4,249.72 L353.9,248.98 L354.4,248.29 L354.9,247.65 L355.4,247.06 L355.9,246.55 L356.4,246.11 L356.9,245.76 L357.4,245.5 L357.9,245.34 L358.4,245.29 L358.9,245.33 L359.4,245.48 L359.9,245.74 L360.4,246.09 L360.9,246.55 L361.4,247.09 L361.9,247.72 L362.4,248.42 L362.9,249.19 L363.4,250.02 L363.9,250.89 L364.4,251.8 L364.9,252.74 L365.4,253.7 L365.9,254.66 L366.4,255.63 L366.9,256.6 L367.4,257.55 L367.9,258.48 L368.4,259.39 L368.9,260.26 L369.4,261.1 L369.9,261.91 L370.4,262.67 L370.9,263.39 L371.4,264.07 L371.9,264.71 L372.4,265.3 L372.9,265.85 L373.4,266.36 L373.9,266.83 L374.4,267.26 L374.9,267.66 L375.4,268.02 L375.9,268.35 L376.4,268.65 L376.9,268.92 L377.4,269.17 L377.9,269.4 L378.4,269.6 L378.9,269.79 L379.4,269.97 L379.9,270.12 L380.4,270.27 L380.9,270.41 L381.4,270.54 L381.9,270.66 L382.4,270.77 L382.9,270.88 L383.4,270.98 L383.9,271.07 L384.4,271.17 L384.9,271.26 L385.4,271.34 L385.9,271.43 L386.4,271.51 L386.9,271.58 L387.4,271.66 L387.9,271.74 L388.4,271.81 L388.9,271.88 L389.4,271.95 L389.9,272.02 L390.4,272.08 L390.9,272.15 L390.9,272.4 L390.4,272.35 L389.9,272.29 L389.4,272.23 L388.9,272.17 L388.4,272.11 L387.9,272.05 L387.4,271.99 L386.9,271.93 L386.4,271.87 L385.9,271.8 L385.4,271.74 L384.9,271.68 L384.4,271.62 L383.9,271.56 L383.4,271.5 L382.9,271.44 L382.4,271.38 L381.9,271.32 L381.4,271.26 L380.9,271.2 L380.4,271.14 L379.9,271.09 L379.4,271.04 L378.9,270.98 L378.4,270.93 L377.9,270.89 L377.4,270.84 L376.9,270.79 L376.4,270.75 L375.9,270.7 L375.4,270.65 L374.9,270.61 L374.4,270.56 L373.9,270.52 L373.4,270.47 L372.9,270.42 L372.4,270.37 L371.9,270.32 L371.4,270.26 L370.9,270.21 L370.4,270.15 L369.9,270.09 L369.4,270.02 L368.9,269.96 L368.4,269.88 L367.9,269.81 L367.4,269.73 L366.9,269.66 L366.4,269.57 L365.9,269.49 L365.4,269.41 L364.9,269.32 L364.4,269.24 L363.9,269.15 L363.4,269.06 L362.9,268.98 L362.4,268.89 L361.9,268.81 L361.4,268.72 L360.9,268.64 L360.4,268.56 L359.9,268.48 L359.4,268.41 L358.9,268.33 L358.4,268.25 L357.9,268.17 L357.4,268.1 L356.9,268.02 L356.4,267.94 L355.9,267.87 L355.4,267.79 L354.9,267.72 L354.4,267.64 L353.9,267.56 L353.4,267.49 L352.9,267.42 L352.4,267.34 L351.9,267.27 L351.4,267.2 L350.9,267.13 L350.4,267.06 L349.9,266.99 L349.4,266.92 L348.9,266.85 L348.4,266.78 L347.9,266.71 L347.4,266.64 L346.9,266.57 L346.4,266.5 L345.9,266.43 L345.4,266.37 L344.9,266.3 L344.4,266.24 L343.9,266.17 L343.4,266.11 L342.9,266.04 L342.4,265.98 L341.9,265.92 L341.4,265.86 L340.9,265.8 L340.4,265.74 L339.9,265.69 L339.4,265.63 L338.9,265.58 L338.4,265.52 L337.9,265.46 L337.4,265.4 L336.9,265.35 L336.4,265.29 L335.9,265.23 L335.4,265.17 L334.9,265.12 L334.4,265.06 L333.9,265 L333.4,264.95 L332.9,264.89 L332.4,264.83 L331.9,264.78 L331.4,264.73 L330.9,264.67 L330.4,264.62 L329.9,264.57 L329.4,264.52 L328.9,264.47 L328.4,264.43 L327.9,264.38 L327.4,264.34 L326.9,264.3 Z" fill="url(#g18)" stroke="none"/>
<path d="M326.9,264.04 L327.4,264.07 L327.9,264.11 L328.4,264.14 L328.9,264.18 L329.4,264.22 L329.9,264.25 L330.4,264.29 L330.9,264.32 L331.4,264.36 L331.9,264.39 L332.4,264.42 L332.9,264.45 L333.4,264.48 L333.9,264.51 L334.4,264.53 L334.9,264.54 L335.4,264.55 L335.9,264.55 L336.4,264.54 L336.9,264.53 L337.4,264.5 L337.9,264.46 L338.4,264.4 L338.9,264.33 L339.4,264.24 L339.9,264.13 L340.4,264 L340.9,263.85 L341.4,263.67 L341.9,263.46 L342.4,263.23 L342.9,262.96 L343.4,262.66 L343.9,262.32 L344.4,261.95 L344.9,261.54 L345.4,261.09 L345.9,260.6 L346.4,260.07 L346.9,259.5 L347.4,258.89 L347.9,258.24 L348.4,257.55 L348.9,256.83 L349.4,256.09 L349.9,255.32 L350.4,254.52 L350.9,253.72 L351.4,252.9 L351.9,252.09 L352.4,251.28 L352.9,250.49 L353.4,249.72 L353.9,248.98 L354.4,248.29 L354.9,247.65 L355.4,247.06 L355.9,246.55 L356.4,246.11 L356.9,245.76 L357.4,245.5 L357.9,245.34 L358.4,245.29 L358.9,245.33 L359.4,245.48 L359.9,245.74 L360.4,246.09 L360.9,246.55 L361.4,247.09 L361.9,247.72 L362.4,248.42 L362.9,249.19 L363.4,250.02 L363.9,250.89 L364.4,251.8 L364.9,252.74 L365.4,253.7 L365.9,254.66 L366.4,255.63 L366.9,256.6 L367.4,257.55 L367.9,258.48 L368.4,259.39 L368.9,260.26 L369.4,261.1 L369.9,261.91 L370.4,262.67 L370.9,263.39 L371.4,264.07 L371.9,264.71 L372.4,265.3 L372.9,265.85 L373.4,266.36 L373.9,266.83 L374.4,267.26 L374.9,267.66 L375.4,268.02 L375.9,268.35 L376.4,268.65 L376.9,268.92 L377.4,269.17 L377.9,269.4 L378.4,269.6 L378.9,269.79 L379.4,269.97 L379.9,270.12 L380.4,270.27 L380.9,270.41 L381.4,270.54 L381.9,270.66 L382.4,270.77 L382.9,270.88 L383.4,270.98 L383.9,271.07 L384.4,271.17 L384.9,271.26 L385.4,271.34 L385.9,271.43 L386.4,271.51 L386.9,271.58 L387.4,271.66 L387.9,271.74 L388.4,271.81 L388.9,271.88 L389.4,271.95 L389.9,272.02 L390.4,272.08 L390.9,272.15" fill="none" stroke="#ff1c1c" stroke-width="1.4" stroke-linejoin="round"/>
<path d="M428.9,279.92 L429.4,280.09 L429.9,280.26 L430.4,280.43 L430.9,280.6 L431.4,280.76 L431.9,280.91 L432.4,281.05 L432.9,281.18 L433.4,281.29 L433.9,281.37 L434.4,281.42 L434.9,281.42 L435.4,281.36 L435.9,281.24 L436.4,281.03 L436.9,280.72 L437.4,280.3 L437.9,279.75 L438.4,279.04 L438.9,278.16 L439.4,277.09 L439.9,275.82 L440.4,274.32 L440.9,272.6 L441.4,270.64 L441.9,268.46 L442.4,266.03 L442.9,263.39 L443.4,260.56 L443.9,257.55 L444.4,254.4 L444.9,251.17 L445.4,247.91 L445.9,244.67 L446.4,241.52 L446.9,238.54 L447.4,235.78 L447.9,233.33 L448.4,231.25 L448.9,229.59 L449.4,228.41 L449.9,227.75 L450.4,227.63 L450.9,228.06 L451.4,229.05 L451.9,230.56 L452.4,232.55 L452.9,234.98 L453.4,237.78 L453.9,240.88 L454.4,244.22 L454.9,247.73 L455.4,251.32 L455.9,254.95 L456.4,258.54 L456.9,262.04 L457.4,265.41 L457.9,268.6 L458.4,271.59 L458.9,274.35 L459.4,276.88 L459.9,279.17 L460.4,281.22 L460.9,283.03 L461.4,284.62 L461.9,286 L462.4,287.2 L462.9,288.22 L463.4,289.08 L463.9,289.82 L464.4,290.43 L464.9,290.95 L465.4,291.37 L465.9,291.73 L466.4,292.03 L466.9,292.28 L467.4,292.5 L467.9,292.68 L468.4,292.83 L468.9,292.97 L469.4,293.09 L469.9,293.2 L470.4,293.3 L470.9,293.39 L471.4,293.47 L471.9,293.55 L471.9,293.81 L471.4,293.75 L470.9,293.69 L470.4,293.62 L469.9,293.56 L469.4,293.49 L468.9,293.42 L468.4,293.35 L467.9,293.28 L467.4,293.21 L466.9,293.14 L466.4,293.07 L465.9,293 L465.4,292.92 L464.9,292.84 L464.4,292.76 L463.9,292.68 L463.4,292.6 L462.9,292.52 L462.4,292.43 L461.9,292.35 L461.4,292.26 L460.9,292.17 L460.4,292.08 L459.9,291.98 L459.4,291.88 L458.9,291.78 L458.4,291.68 L457.9,291.58 L457.4,291.47 L456.9,291.36 L456.4,291.25 L455.9,291.13 L455.4,291.01 L454.9,290.89 L454.4,290.76 L453.9,290.63 L453.4,290.5 L452.9,290.36 L452.4,290.22 L451.9,290.08 L451.4,289.93 L450.9,289.78 L450.4,289.63 L449.9,289.47 L449.4,289.3 L448.9,289.12 L448.4,288.92 L447.9,288.72 L447.4,288.51 L446.9,288.29 L446.4,288.07 L445.9,287.83 L445.4,287.6 L444.9,287.36 L444.4,287.11 L443.9,286.87 L443.4,286.62 L442.9,286.37 L442.4,286.13 L441.9,285.89 L441.4,285.65 L440.9,285.41 L440.4,285.18 L439.9,284.96 L439.4,284.73 L438.9,284.51 L438.4,284.28 L437.9,284.05 L437.4,283.82 L436.9,283.59 L436.4,283.36 L435.9,283.13 L435.4,282.9 L434.9,282.68 L434.4,282.45 L433.9,282.23 L433.4,282.01 L432.9,281.79 L432.4,281.58 L431.9,281.36 L431.4,281.16 L430.9,280.95 L430.4,280.76 L429.9,280.56 L429.4,280.37 L428.9,280.18 Z" fill="url(#g19)" stroke="none"/>
<path d="M428.9,279.92 L429.4,280.09 L429.9,280.26 L430.4,280.43 L430.9,280.6 L431.4,280.76 L431.9,280.91 L432.4,281.05 L432.9,281.18 L433.4,281.29 L433.9,281.37 L434.4,281.42 L434.9,281.42 L435.4,281.36 L435.9,281.24 L436.4,281.03 L436.9,280.72 L437.4,280.3 L437.9,279.75 L438.4,279.04 L438.9,278.16 L439.4,277.09 L439.9,275.82 L440.4,274.32 L440.9,272.6 L441.4,270.64 L441.9,268.46 L442.4,266.03 L442.9,263.39 L443.4,260.56 L443.9,257.55 L444.4,254.4 L444.9,251.17 L445.4,247.91 L445.9,244.67 L446.4,241.52 L446.9,238.54 L447.4,235.78 L447.9,233.33 L448.4,231.25 L448.9,229.59 L449.4,228.41 L449.9,227.75 L450.4,227.63 L450.9,228.06 L451.4,229.05 L451.9,230.56 L452.4,232.55 L452.9,234.98 L453.4,237.78 L453.9,240.88 L454.4,244.22 L454.9,247.73 L455.4,251.32 L455.9,254.95 L456.4,258.54 L456.9,262.04 L457.4,265.41 L457.9,268.6 L458.4,271.59 L458.9,274.35 L459.4,276.88 L459.9,279.17 L460.4,281.22 L460.9,283.03 L461.4,284.62 L461.9,286 L462.4,287.2 L462.9,288.22 L463.4,289.08 L463.9,289.82 L464.4,290.43 L464.9,290.95 L465.4,291.37 L465.9,291.73 L466.4,292.03 L466.9,292.28 L467.4,292.5 L467.9,292.68 L468.4,292.83 L468.9,292.97 L469.4,293.09 L469.9,293.2 L470.4,293.3 L470.9,293.39 L471.4,293.47 L471.9,293.55" fill="none" stroke="#13898b" stroke-width="1.6" stroke-linejoin="round"/>
<path d="M335.9,264.96 L336.4,264.98 L336.9,264.99 L337.4,265.01 L337.9,265.01 L338.4,265.01 L338.9,265.01 L339.4,265 L339.9,264.98 L340.4,264.95 L340.9,264.92 L341.4,264.87 L341.9,264.83 L342.4,264.77 L342.9,264.7 L343.4,264.63 L343.9,264.55 L344.4,264.45 L344.9,264.35 L345.4,264.23 L345.9,264.1 L346.4,263.96 L346.9,263.81 L347.4,263.64 L347.9,263.46 L348.4,263.27 L348.9,263.06 L349.4,262.85 L349.9,262.62 L350.4,262.37 L350.9,262.12 L351.4,261.85 L351.9,261.58 L352.4,261.29 L352.9,261 L353.4,260.7 L353.9,260.39 L354.4,260.08 L354.9,259.76 L355.4,259.44 L355.9,259.12 L356.4,258.8 L356.9,258.48 L357.4,258.16 L357.9,257.85 L358.4,257.55 L358.9,257.25 L359.4,256.97 L359.9,256.69 L360.4,256.43 L360.9,256.2 L361.4,255.97 L361.9,255.78 L362.4,255.6 L362.9,255.44 L363.4,255.32 L363.9,255.21 L364.4,255.13 L364.9,255.08 L365.4,255.06 L365.9,255.06 L366.4,255.1 L366.9,255.16 L367.4,255.24 L367.9,255.36 L368.4,255.5 L368.9,255.67 L369.4,255.86 L369.9,256.08 L370.4,256.32 L370.9,256.58 L371.4,256.87 L371.9,257.18 L372.4,257.5 L372.9,257.85 L373.4,258.21 L373.9,258.59 L374.4,258.98 L374.9,259.38 L375.4,259.8 L375.9,260.22 L376.4,260.65 L376.9,261.09 L377.4,261.53 L377.9,261.98 L378.4,262.43 L378.9,262.87 L379.4,263.32 L379.9,263.76 L380.4,264.2 L380.9,264.64 L381.4,265.06 L381.9,265.48 L382.4,265.89 L382.9,266.29 L383.4,266.68 L383.9,267.06 L384.4,267.43 L384.9,267.78 L385.4,268.13 L385.9,268.45 L386.4,268.77 L386.9,269.07 L387.4,269.36 L387.9,269.63 L388.4,269.9 L388.9,270.14 L389.4,270.38 L389.9,270.6 L390.4,270.81 L390.9,271.01 L391.4,271.19 L391.9,271.37 L392.4,271.53 L392.9,271.69 L393.4,271.83 L393.9,271.97 L394.4,272.1 L394.9,272.22 L395.4,272.34 L395.9,272.45 L396.4,272.55 L396.9,272.66 L397.4,272.76 L397.9,272.85 L398.4,272.94 L398.4,273.2 L397.9,273.14 L397.4,273.08 L396.9,273.03 L396.4,272.97 L395.9,272.92 L395.4,272.87 L394.9,272.82 L394.4,272.77 L393.9,272.71 L393.4,272.66 L392.9,272.61 L392.4,272.56 L391.9,272.51 L391.4,272.45 L390.9,272.4 L390.4,272.35 L389.9,272.29 L389.4,272.23 L388.9,272.17 L388.4,272.11 L387.9,272.05 L387.4,271.99 L386.9,271.93 L386.4,271.87 L385.9,271.8 L385.4,271.74 L384.9,271.68 L384.4,271.62 L383.9,271.56 L383.4,271.5 L382.9,271.44 L382.4,271.38 L381.9,271.32 L381.4,271.26 L380.9,271.2 L380.4,271.14 L379.9,271.09 L379.4,271.04 L378.9,270.98 L378.4,270.93 L377.9,270.89 L377.4,270.84 L376.9,270.79 L376.4,270.75 L375.9,270.7 L375.4,270.65 L374.9,270.61 L374.4,270.56 L373.9,270.52 L373.4,270.47 L372.9,270.42 L372.4,270.37 L371.9,270.32 L371.4,270.26 L370.9,270.21 L370.4,270.15 L369.9,270.09 L369.4,270.02 L368.9,269.96 L368.4,269.88 L367.9,269.81 L367.4,269.73 L366.9,269.66 L366.4,269.57 L365.9,269.49 L365.4,269.41 L364.9,269.32 L364.4,269.24 L363.9,269.15 L363.4,269.06 L362.9,268.98 L362.4,268.89 L361.9,268.81 L361.4,268.72 L360.9,268.64 L360.4,268.56 L359.9,268.48 L359.4,268.41 L358.9,268.33 L358.4,268.25 L357.9,268.17 L357.4,268.1 L356.9,268.02 L356.4,267.94 L355.9,267.87 L355.4,267.79 L354.9,267.72 L354.4,267.64 L353.9,267.56 L353.4,267.49 L352.9,267.42 L352.4,267.34 L351.9,267.27 L351.4,267.2 L350.9,267.13 L350.4,267.06 L349.9,266.99 L349.4,266.92 L348.9,266.85 L348.4,266.78 L347.9,266.71 L347.4,266.64 L346.9,266.57 L346.4,266.5 L345.9,266.43 L345.4,266.37 L344.9,266.3 L344.4,266.24 L343.9,266.17 L343.4,266.11 L342.9,266.04 L342.4,265.98 L341.9,265.92 L341.4,265.86 L340.9,265.8 L340.4,265.74 L339.9,265.69 L339.4,265.63 L338.9,265.58 L338.4,265.52 L337.9,265.46 L337.4,265.4 L336.9,265.35 L336.4,265.29 L335.9,265.23 Z" fill="url(#g20)" stroke="none"/>
<path d="M335.9,264.96 L336.4,264.98 L336.9,264.99 L337.4,265.01 L337.9,265.01 L338.4,265.01 L338.9,265.01 L339.4,265 L339.9,264.98 L340.4,264.95 L340.9,264.92 L341.4,264.87 L341.9,264.83 L342.4,264.77 L342.9,264.7 L343.4,264.63 L343.9,264.55 L344.4,264.45 L344.9,264.35 L345.4,264.23 L345.9,264.1 L346.4,263.96 L346.9,263.81 L347.4,263.64 L347.9,263.46 L348.4,263.27 L348.9,263.06 L349.4,262.85 L349.9,262.62 L350.4,262.37 L350.9,262.12 L351.4,261.85 L351.9,261.58 L352.4,261.29 L352.9,261 L353.4,260.7 L353.9,260.39 L354.4,260.08 L354.9,259.76 L355.4,259.44 L355.9,259.12 L356.4,258.8 L356.9,258.48 L357.4,258.16 L357.9,257.85 L358.4,257.55 L358.9,257.25 L359.4,256.97 L359.9,256.69 L360.4,256.43 L360.9,256.2 L361.4,255.97 L361.9,255.78 L362.4,255.6 L362.9,255.44 L363.4,255.32 L363.9,255.21 L364.4,255.13 L364.9,255.08 L365.4,255.06 L365.9,255.06 L366.4,255.1 L366.9,255.16 L367.4,255.24 L367.9,255.36 L368.4,255.5 L368.9,255.67 L369.4,255.86 L369.9,256.08 L370.4,256.32 L370.9,256.58 L371.4,256.87 L371.9,257.18 L372.4,257.5 L372.9,257.85 L373.4,258.21 L373.9,258.59 L374.4,258.98 L374.9,259.38 L375.4,259.8 L375.9,260.22 L376.4,260.65 L376.9,261.09 L377.4,261.53 L377.9,261.98 L378.4,262.43 L378.9,262.87 L379.4,263.32 L379.9,263.76 L380.4,264.2 L380.9,264.64 L381.4,265.06 L381.9,265.48 L382.4,265.89 L382.9,266.29 L383.4,266.68 L383.9,267.06 L384.4,267.43 L384.9,267.78 L385.4,268.13 L385.9,268.45 L386.4,268.77 L386.9,269.07 L387.4,269.36 L387.9,269.63 L388.4,269.9 L388.9,270.14 L389.4,270.38 L389.9,270.6 L390.4,270.81 L390.9,271.01 L391.4,271.19 L391.9,271.37 L392.4,271.53 L392.9,271.69 L393.4,271.83 L393.9,271.97 L394.4,272.1 L394.9,272.22 L395.4,272.34 L395.9,272.45 L396.4,272.55 L396.9,272.66 L397.4,272.76 L397.9,272.85 L398.4,272.94" fill="none" stroke="#13898b" stroke-width="1.4" stroke-linejoin="round"/>
<path d="M377.9,270.59 L378.4,270.56 L378.9,270.51 L379.4,270.44 L379.9,270.34 L380.4,270.22 L380.9,270.06 L381.4,269.87 L381.9,269.63 L382.4,269.35 L382.9,269.01 L383.4,268.62 L383.9,268.18 L384.4,267.68 L384.9,267.12 L385.4,266.5 L385.9,265.82 L386.4,265.09 L386.9,264.32 L387.4,263.51 L387.9,262.67 L388.4,261.81 L388.9,260.94 L389.4,260.09 L389.9,259.25 L390.4,258.46 L390.9,257.72 L391.4,257.06 L391.9,256.48 L392.4,256 L392.9,255.63 L393.4,255.38 L393.9,255.26 L394.4,255.27 L394.9,255.41 L395.4,255.69 L395.9,256.09 L396.4,256.61 L396.9,257.24 L397.4,257.96 L397.9,258.77 L398.4,259.65 L398.9,260.58 L399.4,261.54 L399.9,262.53 L400.4,263.52 L400.9,264.5 L401.4,265.47 L401.9,266.4 L402.4,267.3 L402.9,268.15 L403.4,268.95 L403.9,269.69 L404.4,270.37 L404.9,271 L405.4,271.57 L405.9,272.08 L406.4,272.54 L406.9,272.96 L407.4,273.33 L407.9,273.66 L408.4,273.95 L408.9,274.21 L409.4,274.44 L409.9,274.65 L410.4,274.84 L410.9,275 L410.9,275.27 L410.4,275.18 L409.9,275.08 L409.4,274.99 L408.9,274.89 L408.4,274.8 L407.9,274.71 L407.4,274.61 L406.9,274.52 L406.4,274.43 L405.9,274.34 L405.4,274.25 L404.9,274.16 L404.4,274.08 L403.9,273.99 L403.4,273.91 L402.9,273.83 L402.4,273.75 L401.9,273.67 L401.4,273.6 L400.9,273.52 L400.4,273.45 L399.9,273.39 L399.4,273.32 L398.9,273.26 L398.4,273.2 L397.9,273.14 L397.4,273.08 L396.9,273.03 L396.4,272.97 L395.9,272.92 L395.4,272.87 L394.9,272.82 L394.4,272.77 L393.9,272.71 L393.4,272.66 L392.9,272.61 L392.4,272.56 L391.9,272.51 L391.4,272.45 L390.9,272.4 L390.4,272.35 L389.9,272.29 L389.4,272.23 L388.9,272.17 L388.4,272.11 L387.9,272.05 L387.4,271.99 L386.9,271.93 L386.4,271.87 L385.9,271.8 L385.4,271.74 L384.9,271.68 L384.4,271.62 L383.9,271.56 L383.4,271.5 L382.9,271.44 L382.4,271.38 L381.9,271.32 L381.4,271.26 L380.9,271.2 L380.4,271.14 L379.9,271.09 L379.4,271.04 L378.9,270.98 L378.4,270.93 L377.9,270.89 Z" fill="url(#g21)" stroke="none"/>
<path d="M377.9,270.59 L378.4,270.56 L378.9,270.51 L379.4,270.44 L379.9,270.34 L380.4,270.22 L380.9,270.06 L381.4,269.87 L381.9,269.63 L382.4,269.35 L382.9,269.01 L383.4,268.62 L383.9,268.18 L384.4,267.68 L384.9,267.12 L385.4,266.5 L385.9,265.82 L386.4,265.09 L386.9,264.32 L387.4,263.51 L387.9,262.67 L388.4,261.81 L388.9,260.94 L389.4,260.09 L389.9,259.25 L390.4,258.46 L390.9,257.72 L391.4,257.06 L391.9,256.48 L392.4,256 L392.9,255.63 L393.4,255.38 L393.9,255.26 L394.4,255.27 L394.9,255.41 L395.4,255.69 L395.9,256.09 L396.4,256.61 L396.9,257.24 L397.4,257.96 L397.9,258.77 L398.4,259.65 L398.9,260.58 L399.4,261.54 L399.9,262.53 L400.4,263.52 L400.9,264.5 L401.4,265.47 L401.9,266.4 L402.4,267.3 L402.9,268.15 L403.4,268.95 L403.9,269.69 L404.4,270.37 L404.9,271 L405.4,271.57 L405.9,272.08 L406.4,272.54 L406.9,272.96 L407.4,273.33 L407.9,273.66 L408.4,273.95 L408.9,274.21 L409.4,274.44 L409.9,274.65 L410.4,274.84 L410.9,275" fill="none" stroke="#0b9a2c" stroke-width="1.4" stroke-linejoin="round"/>
<path d="M296.4,263.18 L296.9,263.14 L297.4,263.1 L297.9,263.04 L298.4,262.99 L298.9,262.92 L299.4,262.84 L299.9,262.76 L300.4,262.66 L300.9,262.56 L301.4,262.44 L301.9,262.31 L302.4,262.17 L302.9,262.02 L303.4,261.86 L303.9,261.69 L304.4,261.5 L304.9,261.3 L305.4,261.09 L305.9,260.87 L306.4,260.65 L306.9,260.41 L307.4,260.17 L307.9,259.92 L308.4,259.67 L308.9,259.42 L309.4,259.16 L309.9,258.91 L310.4,258.67 L310.9,258.43 L311.4,258.19 L311.9,257.97 L312.4,257.77 L312.9,257.58 L313.4,257.4 L313.9,257.25 L314.4,257.12 L314.9,257.01 L315.4,256.93 L315.9,256.87 L316.4,256.84 L316.9,256.83 L317.4,256.86 L317.9,256.91 L318.4,256.98 L318.9,257.08 L319.4,257.21 L319.9,257.36 L320.4,257.54 L320.9,257.73 L321.4,257.95 L321.9,258.18 L322.4,258.42 L322.9,258.68 L323.4,258.95 L323.9,259.23 L324.4,259.52 L324.9,259.82 L325.4,260.11 L325.9,260.41 L326.4,260.71 L326.9,261 L327.4,261.29 L327.9,261.57 L328.4,261.85 L328.9,262.12 L329.4,262.37 L329.9,262.62 L330.4,262.86 L330.9,263.09 L331.4,263.3 L331.9,263.51 L332.4,263.7 L332.9,263.89 L333.4,264.06 L333.9,264.22 L334.4,264.37 L334.9,264.52 L335.4,264.65 L335.9,264.78 L336.4,264.9 L336.9,265.01 L337.4,265.12 L337.4,265.4 L336.9,265.35 L336.4,265.29 L335.9,265.23 L335.4,265.17 L334.9,265.12 L334.4,265.06 L333.9,265 L333.4,264.95 L332.9,264.89 L332.4,264.83 L331.9,264.78 L331.4,264.73 L330.9,264.67 L330.4,264.62 L329.9,264.57 L329.4,264.52 L328.9,264.47 L328.4,264.43 L327.9,264.38 L327.4,264.34 L326.9,264.3 L326.4,264.26 L325.9,264.22 L325.4,264.18 L324.9,264.15 L324.4,264.12 L323.9,264.09 L323.4,264.06 L322.9,264.04 L322.4,264.02 L321.9,264 L321.4,263.98 L320.9,263.96 L320.4,263.94 L319.9,263.93 L319.4,263.91 L318.9,263.89 L318.4,263.88 L317.9,263.86 L317.4,263.85 L316.9,263.83 L316.4,263.82 L315.9,263.8 L315.4,263.79 L314.9,263.78 L314.4,263.77 L313.9,263.75 L313.4,263.74 L312.9,263.73 L312.4,263.72 L311.9,263.71 L311.4,263.7 L310.9,263.69 L310.4,263.68 L309.9,263.67 L309.4,263.66 L308.9,263.65 L308.4,263.64 L307.9,263.63 L307.4,263.62 L306.9,263.61 L306.4,263.6 L305.9,263.59 L305.4,263.58 L304.9,263.58 L304.4,263.57 L303.9,263.56 L303.4,263.55 L302.9,263.54 L302.4,263.54 L301.9,263.53 L301.4,263.52 L300.9,263.51 L300.4,263.51 L299.9,263.5 L299.4,263.49 L298.9,263.48 L298.4,263.48 L297.9,263.47 L297.4,263.46 L296.9,263.46 L296.4,263.45 Z" fill="url(#g22)" stroke="none"/>
<path d="M296.4,263.18 L296.9,263.14 L297.4,263.1 L297.9,263.04 L298.4,262.99 L298.9,262.92 L299.4,262.84 L299.9,262.76 L300.4,262.66 L300.9,262.56 L301.4,262.44 L301.9,262.31 L302.4,262.17 L302.9,262.02 L303.4,261.86 L303.9,261.69 L304.4,261.5 L304.9,261.3 L305.4,261.09 L305.9,260.87 L306.4,260.65 L306.9,260.41 L307.4,260.17 L307.9,259.92 L308.4,259.67 L308.9,259.42 L309.4,259.16 L309.9,258.91 L310.4,258.67 L310.9,258.43 L311.4,258.19 L311.9,257.97 L312.4,257.77 L312.9,257.58 L313.4,257.4 L313.9,257.25 L314.4,257.12 L314.9,257.01 L315.4,256.93 L315.9,256.87 L316.4,256.84 L316.9,256.83 L317.4,256.86 L317.9,256.91 L318.4,256.98 L318.9,257.08 L319.4,257.21 L319.9,257.36 L320.4,257.54 L320.9,257.73 L321.4,257.95 L321.9,258.18 L322.4,258.42 L322.9,258.68 L323.4,258.95 L323.9,259.23 L324.4,259.52 L324.9,259.82 L325.4,260.11 L325.9,260.41 L326.4,260.71 L326.9,261 L327.4,261.29 L327.9,261.57 L328.4,261.85 L328.9,262.12 L329.4,262.37 L329.9,262.62 L330.4,262.86 L330.9,263.09 L331.4,263.3 L331.9,263.51 L332.4,263.7 L332.9,263.89 L333.4,264.06 L333.9,264.22 L334.4,264.37 L334.9,264.52 L335.4,264.65 L335.9,264.78 L336.4,264.9 L336.9,265.01 L337.4,265.12" fill="none" stroke="#0b9a2c" stroke-width="1.4" stroke-linejoin="round"/>
<path d="M396.4,272.7 L396.9,272.69 L397.4,272.68 L397.9,272.65 L398.4,272.62 L398.9,272.56 L399.4,272.49 L399.9,272.41 L400.4,272.3 L400.9,272.17 L401.4,272.02 L401.9,271.84 L402.4,271.62 L402.9,271.38 L403.4,271.09 L403.9,270.77 L404.4,270.41 L404.9,270.01 L405.4,269.56 L405.9,269.07 L406.4,268.53 L406.9,267.95 L407.4,267.32 L407.9,266.65 L408.4,265.94 L408.9,265.18 L409.4,264.4 L409.9,263.58 L410.4,262.74 L410.9,261.87 L411.4,261 L411.9,260.12 L412.4,259.25 L412.9,258.39 L413.4,257.55 L413.9,256.75 L414.4,255.99 L414.9,255.28 L415.4,254.63 L415.9,254.05 L416.4,253.55 L416.9,253.14 L417.4,252.82 L417.9,252.59 L418.4,252.47 L418.9,252.46 L419.4,252.55 L419.9,252.75 L420.4,253.06 L420.9,253.47 L421.4,253.99 L421.9,254.61 L422.4,255.32 L422.9,256.11 L423.4,256.99 L423.9,257.93 L424.4,258.93 L424.9,259.98 L425.4,261.07 L425.9,262.19 L426.4,263.33 L426.9,264.48 L427.4,265.64 L427.9,266.79 L428.4,267.93 L428.9,269.04 L429.4,270.14 L429.9,271.19 L430.4,272.22 L430.9,273.21 L431.4,274.16 L431.9,275.07 L432.4,275.93 L432.9,276.76 L433.4,277.54 L433.9,278.28 L434.4,278.97 L434.9,279.62 L435.4,280.24 L435.9,280.82 L436.4,281.36 L436.9,281.86 L437.4,282.34 L437.9,282.78 L438.4,283.2 L438.9,283.59 L439.4,283.96 L439.9,284.31 L440.4,284.64 L440.9,284.96 L441.4,285.27 L441.9,285.58 L442.4,285.87 L442.4,286.13 L441.9,285.89 L441.4,285.65 L440.9,285.41 L440.4,285.18 L439.9,284.96 L439.4,284.73 L438.9,284.51 L438.4,284.28 L437.9,284.05 L437.4,283.82 L436.9,283.59 L436.4,283.36 L435.9,283.13 L435.4,282.9 L434.9,282.68 L434.4,282.45 L433.9,282.23 L433.4,282.01 L432.9,281.79 L432.4,281.58 L431.9,281.36 L431.4,281.16 L430.9,280.95 L430.4,280.76 L429.9,280.56 L429.4,280.37 L428.9,280.18 L428.4,279.99 L427.9,279.8 L427.4,279.61 L426.9,279.43 L426.4,279.25 L425.9,279.06 L425.4,278.89 L424.9,278.71 L424.4,278.54 L423.9,278.37 L423.4,278.2 L422.9,278.04 L422.4,277.89 L421.9,277.73 L421.4,277.59 L420.9,277.44 L420.4,277.31 L419.9,277.17 L419.4,277.05 L418.9,276.92 L418.4,276.8 L417.9,276.69 L417.4,276.57 L416.9,276.46 L416.4,276.35 L415.9,276.25 L415.4,276.14 L414.9,276.04 L414.4,275.94 L413.9,275.84 L413.4,275.74 L412.9,275.65 L412.4,275.55 L411.9,275.46 L411.4,275.36 L410.9,275.27 L410.4,275.18 L409.9,275.08 L409.4,274.99 L408.9,274.89 L408.4,274.8 L407.9,274.71 L407.4,274.61 L406.9,274.52 L406.4,274.43 L405.9,274.34 L405.4,274.25 L404.9,274.16 L404.4,274.08 L403.9,273.99 L403.4,273.91 L402.9,273.83 L402.4,273.75 L401.9,273.67 L401.4,273.6 L400.9,273.52 L400.4,273.45 L399.9,273.39 L399.4,273.32 L398.9,273.26 L398.4,273.2 L397.9,273.14 L397.4,273.08 L396.9,273.03 L396.4,272.97 Z" fill="url(#g23)" stroke="none"/>
<path d="M396.4,272.7 L396.9,272.69 L397.4,272.68 L397.9,272.65 L398.4,272.62 L398.9,272.56 L399.4,272.49 L399.9,272.41 L400.4,272.3 L400.9,272.17 L401.4,272.02 L401.9,271.84 L402.4,271.62 L402.9,271.38 L403.4,271.09 L403.9,270.77 L404.4,270.41 L404.9,270.01 L405.4,269.56 L405.9,269.07 L406.4,268.53 L406.9,267.95 L407.4,267.32 L407.9,266.65 L408.4,265.94 L408.9,265.18 L409.4,264.4 L409.9,263.58 L410.4,262.74 L410.9,261.87 L411.4,261 L411.9,260.12 L412.4,259.25 L412.9,258.39 L413.4,257.55 L413.9,256.75 L414.4,255.99 L414.9,255.28 L415.4,254.63 L415.9,254.05 L416.4,253.55 L416.9,253.14 L417.4,252.82 L417.9,252.59 L418.4,252.47 L418.9,252.46 L419.4,252.55 L419.9,252.75 L420.4,253.06 L420.9,253.47 L421.4,253.99 L421.9,254.61 L422.4,255.32 L422.9,256.11 L423.4,256.99 L423.9,257.93 L424.4,258.93 L424.9,259.98 L425.4,261.07 L425.9,262.19 L426.4,263.33 L426.9,264.48 L427.4,265.64 L427.9,266.79 L428.4,267.93 L428.9,269.04 L429.4,270.14 L429.9,271.19 L430.4,272.22 L430.9,273.21 L431.4,274.16 L431.9,275.07 L432.4,275.93 L432.9,276.76 L433.4,277.54 L433.9,278.28 L434.4,278.97 L434.9,279.62 L435.4,280.24 L435.9,280.82 L436.4,281.36 L436.9,281.86 L437.4,282.34 L437.9,282.78 L438.4,283.2 L438.9,283.59 L439.4,283.96 L439.9,284.31 L440.4,284.64 L440.9,284.96 L441.4,285.27 L441.9,285.58 L442.4,285.87" fill="none" stroke="#ff33ff" stroke-width="1.5" stroke-linejoin="round"/>
<path d="M316.9,263.58 L317.4,263.54 L317.9,263.5 L318.4,263.45 L318.9,263.39 L319.4,263.31 L319.9,263.23 L320.4,263.13 L320.9,263.02 L321.4,262.89 L321.9,262.74 L322.4,262.58 L322.9,262.4 L323.4,262.21 L323.9,261.99 L324.4,261.76 L324.9,261.5 L325.4,261.23 L325.9,260.94 L326.4,260.62 L326.9,260.29 L327.4,259.94 L327.9,259.58 L328.4,259.2 L328.9,258.81 L329.4,258.42 L329.9,258.01 L330.4,257.61 L330.9,257.2 L331.4,256.8 L331.9,256.42 L332.4,256.04 L332.9,255.68 L333.4,255.35 L333.9,255.04 L334.4,254.77 L334.9,254.52 L335.4,254.32 L335.9,254.16 L336.4,254.04 L336.9,253.97 L337.4,253.94 L337.9,253.96 L338.4,254.04 L338.9,254.16 L339.4,254.32 L339.9,254.54 L340.4,254.8 L340.9,255.1 L341.4,255.44 L341.9,255.82 L342.4,256.24 L342.9,256.68 L343.4,257.15 L343.9,257.63 L344.4,258.14 L344.9,258.65 L345.4,259.17 L345.9,259.69 L346.4,260.22 L346.9,260.73 L347.4,261.24 L347.9,261.74 L348.4,262.22 L348.9,262.69 L349.4,263.13 L349.9,263.56 L350.4,263.97 L350.9,264.36 L351.4,264.72 L351.9,265.07 L352.4,265.39 L352.9,265.7 L353.4,265.98 L353.9,266.24 L354.4,266.49 L354.9,266.72 L355.4,266.93 L355.9,267.13 L356.4,267.31 L356.9,267.48 L357.4,267.64 L357.9,267.79 L358.4,267.93 L358.9,268.06 L358.9,268.33 L358.4,268.25 L357.9,268.17 L357.4,268.1 L356.9,268.02 L356.4,267.94 L355.9,267.87 L355.4,267.79 L354.9,267.72 L354.4,267.64 L353.9,267.56 L353.4,267.49 L352.9,267.42 L352.4,267.34 L351.9,267.27 L351.4,267.2 L350.9,267.13 L350.4,267.06 L349.9,266.99 L349.4,266.92 L348.9,266.85 L348.4,266.78 L347.9,266.71 L347.4,266.64 L346.9,266.57 L346.4,266.5 L345.9,266.43 L345.4,266.37 L344.9,266.3 L344.4,266.24 L343.9,266.17 L343.4,266.11 L342.9,266.04 L342.4,265.98 L341.9,265.92 L341.4,265.86 L340.9,265.8 L340.4,265.74 L339.9,265.69 L339.4,265.63 L338.9,265.58 L338.4,265.52 L337.9,265.46 L337.4,265.4 L336.9,265.35 L336.4,265.29 L335.9,265.23 L335.4,265.17 L334.9,265.12 L334.4,265.06 L333.9,265 L333.4,264.95 L332.9,264.89 L332.4,264.83 L331.9,264.78 L331.4,264.73 L330.9,264.67 L330.4,264.62 L329.9,264.57 L329.4,264.52 L328.9,264.47 L328.4,264.43 L327.9,264.38 L327.4,264.34 L326.9,264.3 L326.4,264.26 L325.9,264.22 L325.4,264.18 L324.9,264.15 L324.4,264.12 L323.9,264.09 L323.4,264.06 L322.9,264.04 L322.4,264.02 L321.9,264 L321.4,263.98 L320.9,263.96 L320.4,263.94 L319.9,263.93 L319.4,263.91 L318.9,263.89 L318.4,263.88 L317.9,263.86 L317.4,263.85 L316.9,263.83 Z" fill="url(#g24)" stroke="none"/>
<path d="M316.9,263.58 L317.4,263.54 L317.9,263.5 L318.4,263.45 L318.9,263.39 L319.4,263.31 L319.9,263.23 L320.4,263.13 L320.9,263.02 L321.4,262.89 L321.9,262.74 L322.4,262.58 L322.9,262.4 L323.4,262.21 L323.9,261.99 L324.4,261.76 L324.9,261.5 L325.4,261.23 L325.9,260.94 L326.4,260.62 L326.9,260.29 L327.4,259.94 L327.9,259.58 L328.4,259.2 L328.9,258.81 L329.4,258.42 L329.9,258.01 L330.4,257.61 L330.9,257.2 L331.4,256.8 L331.9,256.42 L332.4,256.04 L332.9,255.68 L333.4,255.35 L333.9,255.04 L334.4,254.77 L334.9,254.52 L335.4,254.32 L335.9,254.16 L336.4,254.04 L336.9,253.97 L337.4,253.94 L337.9,253.96 L338.4,254.04 L338.9,254.16 L339.4,254.32 L339.9,254.54 L340.4,254.8 L340.9,255.1 L341.4,255.44 L341.9,255.82 L342.4,256.24 L342.9,256.68 L343.4,257.15 L343.9,257.63 L344.4,258.14 L344.9,258.65 L345.4,259.17 L345.9,259.69 L346.4,260.22 L346.9,260.73 L347.4,261.24 L347.9,261.74 L348.4,262.22 L348.9,262.69 L349.4,263.13 L349.9,263.56 L350.4,263.97 L350.9,264.36 L351.4,264.72 L351.9,265.07 L352.4,265.39 L352.9,265.7 L353.4,265.98 L353.9,266.24 L354.4,266.49 L354.9,266.72 L355.4,266.93 L355.9,267.13 L356.4,267.31 L356.9,267.48 L357.4,267.64 L357.9,267.79 L358.4,267.93 L358.9,268.06" fill="none" stroke="#ff33ff" stroke-width="1.4" stroke-linejoin="round"/>
<path d="M282.9,263.31 L283.4,263.31 L283.9,263.31 L284.4,263.32 L284.9,263.32 L285.4,263.32 L285.9,263.33 L286.4,263.33 L286.9,263.34 L287.4,263.34 L287.9,263.35 L288.4,263.35 L288.9,263.36 L289.4,263.36 L289.9,263.37 L290.4,263.37 L290.9,263.38 L291.4,263.38 L291.9,263.39 L292.4,263.4 L292.9,263.4 L293.4,263.41 L293.9,263.42 L294.4,263.42 L294.9,263.43 L295.4,263.44 L295.9,263.44 L296.4,263.45 L296.9,263.46 L297.4,263.46 L297.9,263.47 L298.4,263.48 L298.9,263.48 L299.4,263.49 L299.9,263.5 L300.4,263.51 L300.9,263.51 L301.4,263.52 L301.9,263.53 L302.4,263.54 L302.9,263.54 L303.4,263.55 L303.9,263.56 L304.4,263.57 L304.9,263.58 L305.4,263.58 L305.9,263.59 L306.4,263.6 L306.9,263.61 L307.4,263.62 L307.9,263.63 L308.4,263.64 L308.9,263.65 L309.4,263.66 L309.9,263.67 L310.4,263.68 L310.9,263.69 L311.4,263.7 L311.9,263.71 L312.4,263.72 L312.9,263.73 L313.4,263.74 L313.9,263.75 L314.4,263.77 L314.9,263.78 L315.4,263.79 L315.9,263.8 L316.4,263.82 L316.9,263.83 L317.4,263.85 L317.9,263.86 L318.4,263.88 L318.9,263.89 L319.4,263.91 L319.9,263.93 L320.4,263.94 L320.9,263.96 L321.4,263.98 L321.9,264 L322.4,264.02 L322.9,264.04 L323.4,264.06 L323.9,264.09 L324.4,264.12 L324.9,264.15 L325.4,264.18 L325.9,264.22 L326.4,264.26 L326.9,264.3 L327.4,264.34 L327.9,264.38 L328.4,264.43 L328.9,264.47 L329.4,264.52 L329.9,264.57 L330.4,264.62 L330.9,264.67 L331.4,264.73 L331.9,264.78 L332.4,264.83 L332.9,264.89 L333.4,264.95 L333.9,265 L334.4,265.06 L334.9,265.12 L335.4,265.17 L335.9,265.23 L336.4,265.29 L336.9,265.35 L337.4,265.4 L337.9,265.46 L338.4,265.52 L338.9,265.58 L339.4,265.63 L339.9,265.69 L340.4,265.74 L340.9,265.8 L341.4,265.86 L341.9,265.92 L342.4,265.98 L342.9,266.04 L343.4,266.11 L343.9,266.17 L344.4,266.24 L344.9,266.3 L345.4,266.37 L345.9,266.43 L346.4,266.5 L346.9,266.57 L347.4,266.64 L347.9,266.71 L348.4,266.78 L348.9,266.85 L349.4,266.92 L349.9,266.99 L350.4,267.06 L350.9,267.13 L351.4,267.2 L351.9,267.27 L352.4,267.34 L352.9,267.42 L353.4,267.49 L353.9,267.56 L354.4,267.64 L354.9,267.72 L355.4,267.79 L355.9,267.87 L356.4,267.94 L356.9,268.02 L357.4,268.1 L357.9,268.17 L358.4,268.25 L358.9,268.33 L359.4,268.41 L359.9,268.48 L360.4,268.56 L360.9,268.64 L361.4,268.72 L361.9,268.81 L362.4,268.89 L362.9,268.98 L363.4,269.06 L363.9,269.15 L364.4,269.24 L364.9,269.32 L365.4,269.41 L365.9,269.49 L366.4,269.57 L366.9,269.66 L367.4,269.73 L367.9,269.81 L368.4,269.88 L368.9,269.96 L369.4,270.02 L369.9,270.09 L370.4,270.15 L370.9,270.21 L371.4,270.26 L371.9,270.32 L372.4,270.37 L372.9,270.42 L373.4,270.47 L373.9,270.52 L374.4,270.56 L374.9,270.61 L375.4,270.65 L375.9,270.7 L376.4,270.75 L376.9,270.79 L377.4,270.84 L377.9,270.89 L378.4,270.93 L378.9,270.98 L379.4,271.04 L379.9,271.09 L380.4,271.14 L380.9,271.2 L381.4,271.26 L381.9,271.32 L382.4,271.38 L382.9,271.44 L383.4,271.5 L383.9,271.56 L384.4,271.62 L384.9,271.68 L385.4,271.74 L385.9,271.8 L386.4,271.87 L386.9,271.93 L387.4,271.99 L387.9,272.05 L388.4,272.11 L388.9,272.17 L389.4,272.23 L389.9,272.29 L390.4,272.35 L390.9,272.4 L391.4,272.45 L391.9,272.51 L392.4,272.56 L392.9,272.61 L393.4,272.66 L393.9,272.71 L394.4,272.77 L394.9,272.82 L395.4,272.87 L395.9,272.92 L396.4,272.97 L396.9,273.03 L397.4,273.08 L397.9,273.14 L398.4,273.2 L398.9,273.26 L399.4,273.32 L399.9,273.39 L400.4,273.45 L400.9,273.52 L401.4,273.6 L401.9,273.67 L402.4,273.75 L402.9,273.83 L403.4,273.91 L403.9,273.99 L404.4,274.08 L404.9,274.16 L405.4,274.25 L405.9,274.34 L406.4,274.43 L406.9,274.52 L407.4,274.61 L407.9,274.71 L408.4,274.8 L408.9,274.89 L409.4,274.99 L409.9,275.08 L410.4,275.18 L410.9,275.27 L411.4,275.36 L411.9,275.46 L412.4,275.55 L412.9,275.65 L413.4,275.74 L413.9,275.84 L414.4,275.94 L414.9,276.04 L415.4,276.14 L415.9,276.25 L416.4,276.35 L416.9,276.46 L417.4,276.57 L417.9,276.69 L418.4,276.8 L418.9,276.92 L419.4,277.05 L419.9,277.17 L420.4,277.31 L420.9,277.44 L421.4,277.59 L421.9,277.73 L422.4,277.89 L422.9,278.04 L423.4,278.2 L423.9,278.37 L424.4,278.54 L424.9,278.71 L425.4,278.89 L425.9,279.06 L426.4,279.25 L426.9,279.43 L427.4,279.61 L427.9,279.8 L428.4,279.99 L428.9,280.18 L429.4,280.37 L429.9,280.56 L430.4,280.76 L430.9,280.95 L431.4,281.16 L431.9,281.36 L432.4,281.58 L432.9,281.79 L433.4,282.01 L433.9,282.23 L434.4,282.45 L434.9,282.68 L435.4,282.9 L435.9,283.13 L436.4,283.36 L436.9,283.59 L437.4,283.82 L437.9,284.05 L438.4,284.28 L438.9,284.51 L439.4,284.73 L439.9,284.96 L440.4,285.18 L440.9,285.41 L441.4,285.65 L441.9,285.89 L442.4,286.13 L442.9,286.37 L443.4,286.62 L443.9,286.87 L444.4,287.11 L444.9,287.36 L445.4,287.6 L445.9,287.83 L446.4,288.07 L446.9,288.29 L447.4,288.51 L447.9,288.72 L448.4,288.92 L448.9,289.12 L449.4,289.3 L449.9,289.47 L450.4,289.63 L450.9,289.78 L451.4,289.93 L451.9,290.08 L452.4,290.22 L452.9,290.36 L453.4,290.5 L453.9,290.63 L454.4,290.76 L454.9,290.89 L455.4,291.01 L455.9,291.13 L456.4,291.25 L456.9,291.36 L457.4,291.47 L457.9,291.58 L458.4,291.68 L458.9,291.78 L459.4,291.88 L459.9,291.98 L460.4,292.08 L460.9,292.17 L461.4,292.26 L461.9,292.35 L462.4,292.43 L462.9,292.52 L463.4,292.6 L463.9,292.68 L464.4,292.76 L464.9,292.84 L465.4,292.92 L465.9,293 L466.4,293.07 L466.9,293.14 L467.4,293.21 L467.9,293.28 L468.4,293.35 L468.9,293.42 L469.4,293.49 L469.9,293.56 L470.4,293.62 L470.9,293.69 L471.4,293.75 L471.9,293.81 L472.4,293.88 L472.9,293.94 L473.4,294 L473.9,294.06 L474.4,294.12 L474.9,294.17 L475.4,294.23 L475.9,294.29 L476.4,294.34 L476.9,294.4 L477.4,294.45 L477.9,294.5 L478.4,294.55 L478.9,294.6 L479.4,294.65" fill="none" stroke="#ff33ff" stroke-width="1.5"/>
<g fill="none" stroke="#858585" stroke-width="0.8"><circle cx="283.53" cy="260.62" r="2.5"/><circle cx="285.03" cy="260.37" r="2.5"/><circle cx="286.45" cy="259.82" r="2.5"/><circle cx="288.66" cy="260.31" r="2.5"/><circle cx="289.16" cy="257.6" r="2.5"/><circle cx="290.94" cy="260.52" r="2.5"/><circle cx="292.2" cy="259.15" r="2.5"/><circle cx="294.24" cy="260.27" r="2.5"/><circle cx="295.4" cy="260.61" r="2.5"/><circle cx="296.37" cy="259.93" r="2.5"/><circle cx="298.66" cy="260.7" r="2.5"/><circle cx="300.02" cy="258.91" r="2.5"/><circle cx="301.68" cy="260.59" r="2.5"/><circle cx="303.11" cy="257.81" r="2.5"/><circle cx="304.15" cy="258.38" r="2.5"/><circle cx="305.58" cy="257.36" r="2.5"/><circle cx="307.39" cy="258.77" r="2.5"/><circle cx="308.68" cy="255.86" r="2.5"/><circle cx="309.99" cy="255.78" r="2.5"/><circle cx="311.53" cy="255.64" r="2.5"/><circle cx="314.52" cy="256.39" r="2.5"/><circle cx="314.64" cy="255.17" r="2.5"/><circle cx="316.63" cy="255.69" r="2.5"/><circle cx="317.49" cy="254.1" r="2.5"/><circle cx="319.73" cy="256.62" r="2.5"/><circle cx="320.9" cy="254.53" r="2.5"/><circle cx="322.04" cy="252.86" r="2.5"/><circle cx="323.06" cy="252.88" r="2.5"/><circle cx="325.73" cy="252.32" r="2.5"/><circle cx="326.43" cy="251.85" r="2.5"/><circle cx="328.7" cy="251.8" r="2.5"/><circle cx="329.85" cy="252.05" r="2.5"/><circle cx="330.92" cy="250.06" r="2.5"/><circle cx="332.5" cy="249.88" r="2.5"/><circle cx="333.72" cy="248.42" r="2.5"/><circle cx="334.6" cy="246.77" r="2.5"/><circle cx="336.91" cy="245.14" r="2.5"/><circle cx="338.61" cy="244.46" r="2.5"/><circle cx="338.75" cy="241.85" r="2.5"/><circle cx="340.72" cy="240.93" r="2.5"/><circle cx="343.14" cy="239.09" r="2.5"/><circle cx="342.98" cy="237.44" r="2.5"/><circle cx="345.31" cy="237.43" r="2.5"/><circle cx="347.75" cy="236.82" r="2.5"/><circle cx="349.92" cy="236.83" r="2.5"/><circle cx="350.79" cy="234.69" r="2.5"/><circle cx="351.32" cy="233.37" r="2.5"/><circle cx="353.37" cy="232.17" r="2.5"/><circle cx="354.78" cy="231.34" r="2.5"/><circle cx="355.69" cy="230.44" r="2.5"/><circle cx="358.9" cy="228.12" r="2.5"/><circle cx="360.68" cy="228.95" r="2.5"/><circle cx="362.34" cy="228.37" r="2.5"/><circle cx="363.84" cy="230.55" r="2.5"/><circle cx="366.5" cy="230.46" r="2.5"/><circle cx="368.49" cy="232.19" r="2.5"/><circle cx="369.12" cy="235.56" r="2.5"/><circle cx="370.44" cy="237.17" r="2.5"/><circle cx="372.61" cy="239.4" r="2.5"/><circle cx="374.83" cy="240.61" r="2.5"/><circle cx="376.1" cy="243.06" r="2.5"/><circle cx="376.6" cy="245.55" r="2.5"/><circle cx="378.25" cy="247.18" r="2.5"/><circle cx="379.49" cy="249.08" r="2.5"/><circle cx="380.34" cy="249.25" r="2.5"/><circle cx="382.15" cy="249.97" r="2.5"/><circle cx="383.53" cy="249.56" r="2.5"/><circle cx="384.76" cy="248.69" r="2.5"/><circle cx="384.63" cy="247.62" r="2.5"/><circle cx="386.16" cy="248.68" r="2.5"/><circle cx="388.1" cy="247.03" r="2.5"/><circle cx="390" cy="250.05" r="2.5"/><circle cx="391.48" cy="247.09" r="2.5"/><circle cx="392.84" cy="246.59" r="2.5"/><circle cx="395.17" cy="246.65" r="2.5"/><circle cx="397.55" cy="247.65" r="2.5"/><circle cx="398.02" cy="250.46" r="2.5"/><circle cx="400.27" cy="250.34" r="2.5"/><circle cx="401.48" cy="250.51" r="2.5"/><circle cx="403.3" cy="250.99" r="2.5"/><circle cx="403.65" cy="252.76" r="2.5"/><circle cx="405.54" cy="252.02" r="2.5"/><circle cx="406.44" cy="250.87" r="2.5"/><circle cx="407.76" cy="250.62" r="2.5"/><circle cx="409.54" cy="251.41" r="2.5"/><circle cx="409.11" cy="250.1" r="2.5"/><circle cx="411.4" cy="249.4" r="2.5"/><circle cx="412.31" cy="247.02" r="2.5"/><circle cx="413.15" cy="244.34" r="2.5"/><circle cx="414.9" cy="242.08" r="2.5"/><circle cx="416.96" cy="239.26" r="2.5"/><circle cx="419.81" cy="236.71" r="2.5"/><circle cx="420.49" cy="233.41" r="2.5"/><circle cx="420.48" cy="230.12" r="2.5"/><circle cx="423.63" cy="227.67" r="2.5"/><circle cx="424.59" cy="224.52" r="2.5"/><circle cx="425.65" cy="221.77" r="2.5"/><circle cx="426.92" cy="218.78" r="2.5"/><circle cx="428.44" cy="215.36" r="2.5"/><circle cx="431.12" cy="212.26" r="2.5"/><circle cx="431.23" cy="208.23" r="2.5"/><circle cx="434.75" cy="205.56" r="2.5"/><circle cx="436.55" cy="202.62" r="2.5"/><circle cx="434.81" cy="197.91" r="2.5"/><circle cx="437.26" cy="195.53" r="2.5"/><circle cx="439.75" cy="193.96" r="2.5"/><circle cx="442.01" cy="192.89" r="2.5"/><circle cx="443.16" cy="190.12" r="2.5"/><circle cx="445.88" cy="191.34" r="2.5"/><circle cx="449.08" cy="192.42" r="2.5"/><circle cx="451.26" cy="194.65" r="2.5"/><circle cx="453.27" cy="199.6" r="2.5"/><circle cx="453.95" cy="211.1" r="2.5"/><circle cx="454.72" cy="232.02" r="2.5"/><circle cx="456.07" cy="245.09" r="2.5"/><circle cx="459.47" cy="255.23" r="2.5"/><circle cx="460.55" cy="264" r="2.5"/><circle cx="460.34" cy="271.93" r="2.5"/><circle cx="463.43" cy="276.89" r="2.5"/><circle cx="463.98" cy="281.71" r="2.5"/><circle cx="466.35" cy="284.68" r="2.5"/><circle cx="465.5" cy="288.09" r="2.5"/><circle cx="466.75" cy="289.02" r="2.5"/><circle cx="469.45" cy="288.58" r="2.5"/><circle cx="471.61" cy="289.43" r="2.5"/><circle cx="471.93" cy="289.26" r="2.5"/><circle cx="474.11" cy="289.95" r="2.5"/><circle cx="474.31" cy="291.88" r="2.5"/><circle cx="475.67" cy="291.6" r="2.5"/><circle cx="477.07" cy="290.34" r="2.5"/></g>
<path d="M282.9,262.57 L283.4,262.55 L283.9,262.53 L284.4,262.51 L284.9,262.48 L285.4,262.46 L285.9,262.43 L286.4,262.4 L286.9,262.37 L287.4,262.34 L287.9,262.3 L288.4,262.27 L288.9,262.24 L289.4,262.2 L289.9,262.16 L290.4,262.13 L290.9,262.09 L291.4,262.05 L291.9,262.01 L292.4,261.97 L292.9,261.92 L293.4,261.88 L293.9,261.83 L294.4,261.78 L294.9,261.73 L295.4,261.68 L295.9,261.62 L296.4,261.57 L296.9,261.51 L297.4,261.45 L297.9,261.38 L298.4,261.32 L298.9,261.25 L299.4,261.18 L299.9,261.11 L300.4,261.04 L300.9,260.97 L301.4,260.89 L301.9,260.82 L302.4,260.74 L302.9,260.65 L303.4,260.56 L303.9,260.46 L304.4,260.36 L304.9,260.26 L305.4,260.15 L305.9,260.04 L306.4,259.93 L306.9,259.81 L307.4,259.69 L307.9,259.57 L308.4,259.45 L308.9,259.33 L309.4,259.21 L309.9,259.09 L310.4,258.97 L310.9,258.85 L311.4,258.74 L311.9,258.62 L312.4,258.51 L312.9,258.4 L313.4,258.29 L313.9,258.19 L314.4,258.08 L314.9,257.98 L315.4,257.88 L315.9,257.77 L316.4,257.67 L316.9,257.56 L317.4,257.45 L317.9,257.34 L318.4,257.23 L318.9,257.12 L319.4,257 L319.9,256.87 L320.4,256.74 L320.9,256.61 L321.4,256.47 L321.9,256.33 L322.4,256.18 L322.9,256.03 L323.4,255.87 L323.9,255.71 L324.4,255.54 L324.9,255.37 L325.4,255.19 L325.9,255.01 L326.4,254.81 L326.9,254.62 L327.4,254.41 L327.9,254.2 L328.4,253.98 L328.9,253.75 L329.4,253.51 L329.9,253.26 L330.4,253 L330.9,252.73 L331.4,252.45 L331.9,252.16 L332.4,251.84 L332.9,251.47 L333.4,251.06 L333.9,250.61 L334.4,250.13 L334.9,249.63 L335.4,249.11 L335.9,248.59 L336.4,248.07 L336.9,247.56 L337.4,247.06 L337.9,246.59 L338.4,246.14 L338.9,245.68 L339.4,245.22 L339.9,244.77 L340.4,244.32 L340.9,243.89 L341.4,243.47 L341.9,243.08 L342.4,242.71 L342.9,242.37 L343.4,242.04 L343.9,241.73 L344.4,241.4 L344.9,241.07 L345.4,240.72 L345.9,240.36 L346.4,239.99 L346.9,239.62 L347.4,239.25 L347.9,238.88 L348.4,238.5 L348.9,238.12 L349.4,237.75 L349.9,237.37 L350.4,237 L350.9,236.63 L351.4,236.25 L351.9,235.87 L352.4,235.49 L352.9,235.12 L353.4,234.75 L353.9,234.38 L354.4,234.02 L354.9,233.67 L355.4,233.3 L355.9,232.89 L356.4,232.46 L356.9,232.04 L357.4,231.65 L357.9,231.33 L358.4,231.11 L358.9,231 L359.4,231.01 L359.9,231.04 L360.4,231.09 L360.9,231.16 L361.4,231.24 L361.9,231.34 L362.4,231.45 L362.9,231.57 L363.4,231.74 L363.9,232.01 L364.4,232.37 L364.9,232.8 L365.4,233.29 L365.9,233.81 L366.4,234.35 L366.9,234.89 L367.4,235.45 L367.9,236.1 L368.4,236.79 L368.9,237.52 L369.4,238.25 L369.9,238.96 L370.4,239.65 L370.9,240.35 L371.4,241.05 L371.9,241.76 L372.4,242.47 L372.9,243.16 L373.4,243.85 L373.9,244.52 L374.4,245.16 L374.9,245.78 L375.4,246.39 L375.9,247.04 L376.4,247.71 L376.9,248.37 L377.4,249.02 L377.9,249.62 L378.4,250.15 L378.9,250.6 L379.4,250.95 L379.9,251.17 L380.4,251.3 L380.9,251.41 L381.4,251.51 L381.9,251.61 L382.4,251.69 L382.9,251.76 L383.4,251.82 L383.9,251.86 L384.4,251.89 L384.9,251.9 L385.4,251.88 L385.9,251.79 L386.4,251.65 L386.9,251.47 L387.4,251.26 L387.9,251.04 L388.4,250.81 L388.9,250.59 L389.4,250.39 L389.9,250.23 L390.4,250.09 L390.9,249.94 L391.4,249.8 L391.9,249.65 L392.4,249.51 L392.9,249.38 L393.4,249.27 L393.9,249.19 L394.4,249.13 L394.9,249.1 L395.4,249.13 L395.9,249.24 L396.4,249.42 L396.9,249.66 L397.4,249.93 L397.9,250.24 L398.4,250.56 L398.9,250.87 L399.4,251.18 L399.9,251.45 L400.4,251.71 L400.9,252.01 L401.4,252.33 L401.9,252.67 L402.4,252.99 L402.9,253.3 L403.4,253.57 L403.9,253.78 L404.4,253.93 L404.9,254 L405.4,253.99 L405.9,253.97 L406.4,253.93 L406.9,253.87 L407.4,253.79 L407.9,253.7 L408.4,253.6 L408.9,253.49 L409.4,253.36 L409.9,253.23 L410.4,253.04 L410.9,252.72 L411.4,252.27 L411.9,251.73 L412.4,251.1 L412.9,250.42 L413.4,249.69 L413.9,248.94 L414.4,248.18 L414.9,247.44 L415.4,246.71 L415.9,245.91 L416.4,245.06 L416.9,244.16 L417.4,243.24 L417.9,242.28 L418.4,241.31 L418.9,240.33 L419.4,239.36 L419.9,238.39 L420.4,237.43 L420.9,236.46 L421.4,235.47 L421.9,234.46 L422.4,233.46 L422.9,232.44 L423.4,231.43 L423.9,230.41 L424.4,229.4 L424.9,228.4 L425.4,227.41 L425.9,226.43 L426.4,225.46 L426.9,224.49 L427.4,223.53 L427.9,222.55 L428.4,221.57 L428.9,220.57 L429.4,219.55 L429.9,218.51 L430.4,217.43 L430.9,216.31 L431.4,215.15 L431.9,213.96 L432.4,212.75 L432.9,211.53 L433.4,210.32 L433.9,209.11 L434.4,207.93 L434.9,206.78 L435.4,205.67 L435.9,204.61 L436.4,203.6 L436.9,202.6 L437.4,201.58 L437.9,200.57 L438.4,199.6 L438.9,198.69 L439.4,197.87 L439.9,197.16 L440.4,196.59 L440.9,196.13 L441.4,195.69 L441.9,195.25 L442.4,194.85 L442.9,194.47 L443.4,194.14 L443.9,193.86 L444.4,193.64 L444.9,193.48 L445.4,193.41 L445.9,193.43 L446.4,193.59 L446.9,193.88 L447.4,194.3 L447.9,194.83 L448.4,195.46 L448.9,196.19 L449.4,197 L449.9,198.28 L450.4,200.35 L450.9,203.13 L451.4,206.5 L451.9,211.23 L452.4,219.13 L452.9,226.82 L453.4,232.18 L453.9,236.98 L454.4,241.33 L454.9,245.31 L455.4,248.97 L455.9,252.35 L456.4,255.56 L456.9,258.67 L457.4,261.68 L457.9,264.56 L458.4,267.28 L458.9,269.83 L459.4,272.17 L459.9,274.3 L460.4,276.18 L460.9,277.81 L461.4,279.31 L461.9,280.77 L462.4,282.17 L462.9,283.49 L463.4,284.73 L463.9,285.87 L464.4,286.91 L464.9,287.82 L465.4,288.6 L465.9,289.24 L466.4,289.72 L466.9,290.08 L467.4,290.42 L467.9,290.72 L468.4,291 L468.9,291.26 L469.4,291.5 L469.9,291.72 L470.4,291.92 L470.9,292.1 L471.4,292.28 L471.9,292.43 L472.4,292.58 L472.9,292.72 L473.4,292.85 L473.9,292.98 L474.4,293.1 L474.9,293.22 L475.4,293.33 L475.9,293.44 L476.4,293.55 L476.9,293.66 L477.4,293.75 L477.9,293.84 L478.4,293.92 L478.9,294 L479.4,294.06" fill="none" stroke="#4a6cf2" stroke-width="1.45" stroke-linejoin="round"/>
<line x1="284" y1="30.6" x2="309.6" y2="30.6" stroke="#13898b" stroke-width="1.6" />
<text x="311.9" y="34.2" font-size="11" fill="#13898b" stroke="#13898b" stroke-width="0.12" text-anchor="start" >Ti-C</text>
<line x1="284" y1="44.15" x2="309.6" y2="44.15" stroke="#ff2a2a" stroke-width="1.6" />
<text x="311.9" y="47.75" font-size="11" fill="#ff2a2a" stroke="#ff2a2a" stroke-width="0.12" text-anchor="start" >Ti (II)</text>
<line x1="284" y1="57.7" x2="309.6" y2="57.7" stroke="#ff44ff" stroke-width="1.6" />
<text x="311.9" y="61.3" font-size="11" fill="#ff44ff" stroke="#ff44ff" stroke-width="0.12" text-anchor="start" >Ti (III)</text>
<line x1="284" y1="71.25" x2="309.6" y2="71.25" stroke="#10a030" stroke-width="1.6" />
<text x="311.9" y="74.85" font-size="11" fill="#10a030" stroke="#10a030" stroke-width="0.12" text-anchor="start" >Ti-O</text>
<line x1="284" y1="169.6" x2="309.6" y2="169.6" stroke="#13898b" stroke-width="1.6" />
<text x="311.9" y="173.2" font-size="11" fill="#13898b" stroke="#13898b" stroke-width="0.12" text-anchor="start" >Ti-C</text>
<line x1="284" y1="183.15" x2="309.6" y2="183.15" stroke="#ff2a2a" stroke-width="1.6" />
<text x="311.9" y="186.75" font-size="11" fill="#ff2a2a" stroke="#ff2a2a" stroke-width="0.12" text-anchor="start" >Ti (II)</text>
<line x1="284" y1="196.7" x2="309.6" y2="196.7" stroke="#ff44ff" stroke-width="1.6" />
<text x="311.9" y="200.3" font-size="11" fill="#ff44ff" stroke="#ff44ff" stroke-width="0.12" text-anchor="start" >Ti (III)</text>
<line x1="284" y1="210.25" x2="309.6" y2="210.25" stroke="#10a030" stroke-width="1.6" />
<text x="311.9" y="213.85" font-size="11" fill="#10a030" stroke="#10a030" stroke-width="0.12" text-anchor="start" >Ti-O</text>
<text x="346.3" y="79.1" font-size="11" fill="#111" stroke="#111" stroke-width="0.12">Ti 2p<tspan font-size="7.2" dy="3.0">1/2</tspan></text>
<text x="429.6" y="40.7" font-size="11" fill="#111" stroke="#111" stroke-width="0.12">Ti 2p<tspan font-size="7.2" dy="3.0">3/2</tspan></text>
<text x="344.9" y="221.4" font-size="11" fill="#111" stroke="#111" stroke-width="0.12">Ti 2p<tspan font-size="7.2" dy="3.0">1/2</tspan></text>
<text x="427.6" y="184.9" font-size="11" fill="#111" stroke="#111" stroke-width="0.12">Ti 2p<tspan font-size="7.2" dy="3.0">3/2</tspan></text>
<text x="384.6" y="72" font-size="10.8" fill="#111" stroke="#111" stroke-width="0.12" text-anchor="start" >17.74%</text>
<text x="384.9" y="216.8" font-size="10.8" fill="#111" stroke="#111" stroke-width="0.12" text-anchor="start" >11.07%</text>
<line x1="394" y1="105.2" x2="398.85" y2="82.81" stroke="#222" stroke-width="1.1" />
<path d="M399.7,78.9 L400.69,84.23 L396.59,83.34 Z" fill="#222"/>
<line x1="396.4" y1="249.1" x2="400.04" y2="227.15" stroke="#222" stroke-width="1.1" />
<path d="M400.7,223.2 L401.95,228.48 L397.81,227.79 Z" fill="#222"/>
<text x="285" y="152" font-size="10.4" fill="#ff2020" stroke="#ff2020" stroke-width="0.22">&#945;-MoO<tspan font-size="7.4" dy="3.2">3</tspan><tspan dy="-3.2">/Mxene</tspan></text>
<text x="285.5" y="290.5" font-size="10.8" fill="#ff2020" stroke="#ff2020" stroke-width="0.22">Ti<tspan font-size="7.6" dy="2.6">2</tspan><tspan dy="-2.6">C</tspan><tspan font-size="7.6" dy="2.6">3</tspan></text>
<path d="M46.2,425.19 L46.7,423.31 L47.2,419.38 L47.7,418.47 L48.2,421.94 L48.7,423.51 L49.2,423.99 L49.7,422.1 L50.2,419.75 L50.7,413.97 L51.2,411.32 L51.7,416.9 L52.2,421.35 L52.7,423.77 L53.2,425.29 L53.7,425.81 L54.2,425.9 L54.7,426.77 L55.2,426.95 L55.7,426.07 L56.2,426.53 L56.7,427.07 L57.2,426.58 L57.7,426.29 L58.2,425.86 L58.7,425.1 L59.2,424.03 L59.7,423.72 L60.2,425.11 L60.7,425.52 L61.2,425.77 L61.7,425.59 L62.2,425.69 L62.7,425.06 L63.2,424.43 L63.7,423.15 L64.2,420.08 L64.7,417.16 L65.2,418.63 L65.7,421.88 L66.2,423.87 L66.7,424.84 L67.2,425.59 L67.7,425.27 L68.2,425.71 L68.7,424.7 L69.2,422.73 L69.7,420.24 L70.2,421.71 L70.7,424.39 L71.2,425.32 L71.7,426.3 L72.2,426.04 L72.7,425.74 L73.2,426.04 L73.7,425.45 L74.2,425.62 L74.7,426.06 L75.2,426.51 L75.7,426.47 L76.2,426.91 L76.7,427.76 L77.2,427.55 L77.7,427.6 L78.2,427.98 L78.7,428.43 L79.2,428.23 L79.7,428.02 L80.2,428.15 L80.7,428.29 L81.2,428.06 L81.7,428.03 L82.2,428.39 L82.7,428.22 L83.2,428.51 L83.7,428.62 L84.2,429.24 L84.7,428.5 L85.2,428.72 L85.7,428.74 L86.2,428.9 L86.7,429.03 L87.2,428.54 L87.7,428.28 L88.2,427.86 L88.7,427.8 L89.2,427.91 L89.7,427.54 L90.2,427.05 L90.7,426.94 L91.2,426.74 L91.7,426.54 L92.2,425.94 L92.7,425.71 L93.2,425.04 L93.7,424.99 L94.2,425.52 L94.7,424.49 L95.2,424.89 L95.7,424.97 L96.2,424.77 L96.7,424.6 L97.2,424.74 L97.7,424.7 L98.2,424.63 L98.7,424.13 L99.2,424.51 L99.7,424.28 L100.2,424.29 L100.7,424.4 L101.2,424.4 L101.7,424.32 L102.2,423.76 L102.7,423.81 L103.2,423.46 L103.7,423.05 L104.2,422.98 L104.7,422.86 L105.2,423.38 L105.7,424.18 L106.2,424.1 L106.7,424.84 L107.2,424.87 L107.7,425.05 L108.2,424.83 L108.7,425.13 L109.2,425.42 L109.7,425.7 L110.2,425.77 L110.7,425.53 L111.2,425.52 L111.7,425.36 L112.2,425.65 L112.7,425.45 L113.2,425.61 L113.7,425.83 L114.2,425.27 L114.7,424.76 L115.2,424.71 L115.7,424.27 L116.2,423.93 L116.7,423.99 L117.2,422.89 L117.7,421.18 L118.2,419.65 L118.7,416.2 L119.2,408.97 L119.7,395.37 L120.2,374.39 L120.7,371.21 L121.2,392.16 L121.7,407.85 L122.2,415.86 L122.7,420.07 L123.2,422.51 L123.7,423.82 L124.2,424.25 L124.7,425.29 L125.2,425.9 L125.7,426.11 L126.2,426.73 L126.7,426.64 L127.2,426.69 L127.7,427.44 L128.2,427.37 L128.7,427.36 L129.2,427.62 L129.7,427.72 L130.2,427.58 L130.7,426.92 L131.2,427.4 L131.7,427.47 L132.2,427.36 L132.7,427.66 L133.2,427.92 L133.7,427.49 L134.2,427.32 L134.7,428.08 L135.2,427.42 L135.7,427.14 L136.2,427.38 L136.7,427.19 L137.2,426.41 L137.7,425.54 L138.2,421.18 L138.7,413.06 L139.2,421.34 L139.7,425.53 L140.2,426.42 L140.7,427.15 L141.2,427.27 L141.7,428.11 L142.2,427.28 L142.7,427.82 L143.2,427.45 L143.7,427.41 L144.2,427.59 L144.7,427.58 L145.2,427.62 L145.7,427.32 L146.2,427.02 L146.7,426.96 L147.2,427.14 L147.7,427.08 L148.2,427.19 L148.7,426.85 L149.2,426.92 L149.7,426.93 L150.2,426.49 L150.7,425.98 L151.2,425.94 L151.7,425.74 L152.2,426.33 L152.7,425.54 L153.2,425.86 L153.7,425.48 L154.2,425.53 L154.7,425.1 L155.2,424.56 L155.7,424.27 L156.2,424.06 L156.7,423.8 L157.2,423.33 L157.7,423.16 L158.2,423.27 L158.7,422.15 L159.2,422.35 L159.7,421.77 L160.2,421.76 L160.7,421.64 L161.2,421.16 L161.7,421.11 L162.2,420.27 L162.7,420.69 L163.2,420 L163.7,420.05 L164.2,419.69 L164.7,418.74 L165.2,418.94 L165.7,418.92 L166.2,419 L166.7,418.43 L167.2,418.17 L167.7,417.5 L168.2,417.96 L168.7,417.8 L169.2,417.11 L169.7,416.81 L170.2,416.22 L170.7,416.6 L171.2,416.79 L171.7,416.02 L172.2,415.87 L172.7,415.39 L173.2,414.71 L173.7,414.99 L174.2,414.06 L174.7,414.03 L175.2,413.89 L175.7,413.79 L176.2,413.45 L176.7,413.24 L177.2,412.78 L177.7,412.52 L178.2,412.76 L178.7,412.51 L179.2,412.36 L179.7,412.4 L180.2,412.66 L180.7,412.4 L181.2,412.63 L181.7,412.67 L182.2,413.23 L182.7,413.39 L183.2,413.87 L183.7,413.07 L184.2,413.36 L184.7,413.84 L185.2,413.64 L185.7,413.69 L186.2,414.27 L186.7,413.82 L187.2,413.66 L187.7,413.65 L188.2,414.07 L188.7,413.97 L189.2,413.34 L189.7,413.13 L190.2,413.12 L190.7,412.68 L191.2,411.88 L191.7,411.68 L192.2,411.14 L192.7,410.04 L193.2,409.91 L193.7,409.53 L194.2,408.65 L194.7,407.58 L195.2,407.35 L195.7,406.91 L196.2,406.44 L196.7,404.88 L197.2,405.54 L197.7,404.12 L198.2,404.14 L198.7,403.72 L199.2,403.24 L199.7,402.74 L200.2,402.3 L200.7,402.91 L201.2,403.03 L201.7,403.24 L202.2,405.4 L202.7,405.78 L203.2,407.24 L203.7,408.32 L204.2,410.98 L204.7,413.05 L205.2,414.87 L205.7,416.39 L206.2,417.96 L206.7,419.88 L207.2,420.67 L207.7,421.94 L208.2,423.46 L208.7,424.17 L209.2,425.21 L209.7,425.88 L210.2,426.82 L210.7,426.91 L211.2,426.8 L211.7,427.31 L212.2,427 L212.7,427.27 L213.2,427.72 L213.7,427.3 L214.2,427.64 L214.7,427.46 L215.2,427.88 L215.7,428.3 L216.2,427.72 L216.7,427.99 L217.2,427.74 L217.7,427.69 L218.2,427.7 L218.7,428.39 L219.2,428.64 L219.7,428.19 L220.2,427.91 L220.7,428.28 L221.2,428.04 L221.7,428.34 L222.2,428.23 L222.7,428.25 L223.2,428.35 L223.7,428.06 L224.2,428.12 L224.7,427.81 L225.2,428.14 L225.7,427.91 L226.2,428.25 L226.7,428.06 L227.2,428.33 L227.7,428.43 L228.2,427.98 L228.7,428.14 L229.2,428.12 L229.7,428.55 L230.2,428.8 L230.7,428.6 L231.2,428.3 L231.7,428.77 L232.2,428.03 L232.7,428.79 L233.2,428.26 L233.7,427.74 L234.2,429.1 L234.7,428.84 L235.2,428.19 L235.7,428.5 L236.2,428.41 L236.7,428.49 L237.2,428.1 L237.7,428.3 L238.2,428.59 L238.7,428.54 L239.2,428.78 L239.7,428.51 L240.2,429.08 L240.7,428.31 L241.2,428.56 L241.7,428.01 L242.2,428.18 L242.7,428.83 L243.2,428.26" fill="none" stroke="#1a1aff" stroke-width="1.3" stroke-linejoin="round"/>
<path d="M46.2,452.53 L46.7,450.24 L47.2,445.81 L47.7,445.06 L48.2,449.07 L48.7,451.21 L49.2,452.01 L49.7,451.36 L50.2,448.94 L50.7,444.59 L51.2,442.73 L51.7,447.06 L52.2,451.12 L52.7,453.44 L53.2,453.98 L53.7,454.35 L54.2,454.7 L54.7,454.81 L55.2,455 L55.7,455.11 L56.2,455.33 L56.7,455.32 L57.2,455.54 L57.7,455.09 L58.2,454.85 L58.7,454.02 L59.2,453.63 L59.7,451.75 L60.2,452.22 L60.7,453.35 L61.2,454.27 L61.7,454.08 L62.2,454.29 L62.7,454.49 L63.2,452.84 L63.7,452.11 L64.2,449.78 L64.7,446.95 L65.2,448.33 L65.7,451.28 L66.2,452.52 L66.7,453.67 L67.2,453.75 L67.7,453.94 L68.2,453.83 L68.7,453.39 L69.2,451.99 L69.7,449.93 L70.2,450.76 L70.7,453.75 L71.2,454.56 L71.7,454.92 L72.2,454.89 L72.7,455.1 L73.2,455.36 L73.7,455.38 L74.2,454.89 L74.7,455.54 L75.2,456.11 L75.7,454.91 L76.2,455.64 L76.7,455.49 L77.2,455.37 L77.7,455.75 L78.2,455.1 L78.7,455.44 L79.2,455.77 L79.7,455.35 L80.2,455.29 L80.7,455.42 L81.2,455.28 L81.7,455.79 L82.2,455.16 L82.7,455.61 L83.2,455.06 L83.7,455.55 L84.2,455.35 L84.7,454.71 L85.2,455.37 L85.7,455.09 L86.2,455.25 L86.7,455.75 L87.2,455.07 L87.7,455.08 L88.2,455.72 L88.7,455.37 L89.2,455.73 L89.7,455.41 L90.2,455.1 L90.7,455.3 L91.2,455.63 L91.7,455.55 L92.2,455.3 L92.7,455.3 L93.2,455.25 L93.7,455.12 L94.2,455.76 L94.7,455.25 L95.2,454.94 L95.7,455.1 L96.2,455.39 L96.7,455.35 L97.2,455.12 L97.7,454.96 L98.2,455.11 L98.7,454.63 L99.2,454.68 L99.7,455.16 L100.2,454.76 L100.7,454.87 L101.2,454.93 L101.7,454.54 L102.2,454.01 L102.7,453.94 L103.2,452.56 L103.7,450.99 L104.2,450.76 L104.7,451.64 L105.2,452.5 L105.7,453.52 L106.2,453.9 L106.7,453.69 L107.2,454.3 L107.7,454.36 L108.2,454.38 L108.7,454.09 L109.2,454.43 L109.7,454.51 L110.2,454.53 L110.7,454.18 L111.2,454.61 L111.7,454.09 L112.2,454.29 L112.7,454.63 L113.2,454.04 L113.7,454 L114.2,454.3 L114.7,453.79 L115.2,453.64 L115.7,453.55 L116.2,453.47 L116.7,452.22 L117.2,451.96 L117.7,450.98 L118.2,449.42 L118.7,446.75 L119.2,441.49 L119.7,431.48 L120.2,417.32 L120.7,419.93 L121.2,434.21 L121.7,443.07 L122.2,447.95 L122.7,450.81 L123.2,451.91 L123.7,452.55 L124.2,453.27 L124.7,453.45 L125.2,454.03 L125.7,454.39 L126.2,454.12 L126.7,454.39 L127.2,454.82 L127.7,454.48 L128.2,454.71 L128.7,454.45 L129.2,454.54 L129.7,454.64 L130.2,455.34 L130.7,454.71 L131.2,454.68 L131.7,454.68 L132.2,454.78 L132.7,454.99 L133.2,454.86 L133.7,455.32 L134.2,454.84 L134.7,455.12 L135.2,454.78 L135.7,454.8 L136.2,454.17 L136.7,454.31 L137.2,453.91 L137.7,452.86 L138.2,449.09 L138.7,443.33 L139.2,449.54 L139.7,452.82 L140.2,453.88 L140.7,454.3 L141.2,454.66 L141.7,454.35 L142.2,454.51 L142.7,454.86 L143.2,454.86 L143.7,454.75 L144.2,454.72 L144.7,454.67 L145.2,454.88 L145.7,455.2 L146.2,454.64 L146.7,455.3 L147.2,455.13 L147.7,454.81 L148.2,455.13 L148.7,454.57 L149.2,454.51 L149.7,454.62 L150.2,454.84 L150.7,454.87 L151.2,454.82 L151.7,454.98 L152.2,454.42 L152.7,455.08 L153.2,454.6 L153.7,454.79 L154.2,454.86 L154.7,454.67 L155.2,454.62 L155.7,454.71 L156.2,454.96 L156.7,455.11 L157.2,455.11 L157.7,454.72 L158.2,454.77 L158.7,454.74 L159.2,455.08 L159.7,454.46 L160.2,455.28 L160.7,454.85 L161.2,454.78 L161.7,455.06 L162.2,455.23 L162.7,455.06 L163.2,455.24 L163.7,455.01 L164.2,455.29 L164.7,455.29 L165.2,454.95 L165.7,455.34 L166.2,455.02 L166.7,455 L167.2,454.75 L167.7,454.91 L168.2,455.18 L168.7,454.65 L169.2,455.14 L169.7,455.07 L170.2,455.05 L170.7,454.43 L171.2,454.96 L171.7,455.15 L172.2,454.79 L172.7,455.01 L173.2,454.39 L173.7,455.15 L174.2,454.82 L174.7,455.2 L175.2,454.53 L175.7,455.16 L176.2,454.93 L176.7,455.19 L177.2,454.76 L177.7,454.83 L178.2,455.55 L178.7,454.78 L179.2,454.81 L179.7,454.92 L180.2,454.73 L180.7,455.29 L181.2,455.42 L181.7,454.81 L182.2,454.56 L182.7,455.28 L183.2,455.27 L183.7,455.19 L184.2,455.28 L184.7,454.77 L185.2,454.95 L185.7,454.64 L186.2,454.64 L186.7,455.24 L187.2,454.82 L187.7,455.56 L188.2,455.01 L188.7,454.83 L189.2,455.19 L189.7,455.44 L190.2,455.11 L190.7,454.69 L191.2,455.08 L191.7,455.34 L192.2,454.87 L192.7,454.8 L193.2,455.25 L193.7,455.03 L194.2,454.72 L194.7,454.9 L195.2,454.8 L195.7,455.07 L196.2,455.02 L196.7,455.28 L197.2,455.17 L197.7,454.6 L198.2,455.09 L198.7,455.22 L199.2,455.11 L199.7,455.25 L200.2,454.86 L200.7,454.76 L201.2,455.23 L201.7,454.73 L202.2,454.45 L202.7,455.25 L203.2,454.81 L203.7,454.92 L204.2,454.64 L204.7,454.66 L205.2,454.7 L205.7,454.9 L206.2,455.09 L206.7,454.42 L207.2,455.18 L207.7,454.7 L208.2,454.73 L208.7,455.16 L209.2,454.98 L209.7,454.61 L210.2,455.46 L210.7,454.78 L211.2,455.06 L211.7,455.04 L212.2,455.35 L212.7,454.88 L213.2,455.25 L213.7,454.81 L214.2,455.28 L214.7,454.8 L215.2,454.9 L215.7,455.47 L216.2,455.07 L216.7,455.02 L217.2,455.56 L217.7,455.09 L218.2,454.79 L218.7,455.18 L219.2,454.7 L219.7,455.28 L220.2,455.3 L220.7,454.85 L221.2,454.84 L221.7,455.04 L222.2,455 L222.7,454.75 L223.2,455.14 L223.7,454.49 L224.2,454.89 L224.7,454.89 L225.2,454.93 L225.7,455.07 L226.2,454.69 L226.7,455.14 L227.2,454.95 L227.7,454.83 L228.2,454.65 L228.7,454.7 L229.2,455.09 L229.7,454.76 L230.2,455.01 L230.7,455.26 L231.2,455.25 L231.7,455.39 L232.2,454.92 L232.7,454.73 L233.2,455.25 L233.7,455.07 L234.2,455.28 L234.7,455 L235.2,455.3 L235.7,455.21 L236.2,455.18 L236.7,455.12 L237.2,455.1 L237.7,455.05 L238.2,455.05 L238.7,455.24 L239.2,454.87 L239.7,455.43 L240.2,454.97 L240.7,455.24 L241.2,454.97 L241.7,454.94 L242.2,455.5 L242.7,454.92 L243.2,454.68" fill="none" stroke="#ff1a1a" stroke-width="1.3" stroke-linejoin="round"/>
<path d="M46.2,489.92 L46.7,487.87 L47.2,487 L47.7,485.34 L48.2,485.14 L48.7,484.86 L49.2,485.59 L49.7,486.17 L50.2,486.94 L50.7,486.68 L51.2,487.15 L51.7,487 L52.2,486.48 L52.7,486.47 L53.2,486.15 L53.7,485.43 L54.2,486.05 L54.7,486.21 L55.2,486.53 L55.7,487 L56.2,488.29 L56.7,488.34 L57.2,488.85 L57.7,489.25 L58.2,489.04 L58.7,489.62 L59.2,489.58 L59.7,489.82 L60.2,489.99 L60.7,490.16 L61.2,490.58 L61.7,490.47 L62.2,490.54 L62.7,490.63 L63.2,490.9 L63.7,490.69 L64.2,490.87 L64.7,491.04 L65.2,490.95 L65.7,491.07 L66.2,490.91 L66.7,491.48 L67.2,491.2 L67.7,490.84 L68.2,490.56 L68.7,490.96 L69.2,490.33 L69.7,490.08 L70.2,490.02 L70.7,489.83 L71.2,489.9 L71.7,489.32 L72.2,489.63 L72.7,488.66 L73.2,488.84 L73.7,488.21 L74.2,488.75 L74.7,488.07 L75.2,488.04 L75.7,488.24 L76.2,488.32 L76.7,487.75 L77.2,487.98 L77.7,487.77 L78.2,488.22 L78.7,488.24 L79.2,488.27 L79.7,488.29 L80.2,488.47 L80.7,488.49 L81.2,488.92 L81.7,489.29 L82.2,488.54 L82.7,489.16 L83.2,489.3 L83.7,489.77 L84.2,489.65 L84.7,490.09 L85.2,490.06 L85.7,490.63 L86.2,490.52 L86.7,490.45 L87.2,490.57 L87.7,490.38 L88.2,490.01 L88.7,490.49 L89.2,490.35 L89.7,490.17 L90.2,490.38 L90.7,490.32 L91.2,489.48 L91.7,489.17 L92.2,489.28 L92.7,488.72 L93.2,487.64 L93.7,487.02 L94.2,486.71 L94.7,486.41 L95.2,485.94 L95.7,486.31 L96.2,485.98 L96.7,486 L97.2,486.53 L97.7,486.13 L98.2,486.28 L98.7,486.46 L99.2,486.5 L99.7,486.22 L100.2,486.35 L100.7,486.21 L101.2,486.97 L101.7,486.84 L102.2,486.56 L102.7,487.01 L103.2,487.35 L103.7,487.45 L104.2,487.93 L104.7,487.93 L105.2,487.53 L105.7,487.72 L106.2,487.48 L106.7,487.93 L107.2,487.96 L107.7,488.65 L108.2,488.05 L108.7,487.56 L109.2,487.97 L109.7,488.23 L110.2,487.96 L110.7,488.13 L111.2,488.35 L111.7,488.64 L112.2,488.65 L112.7,488.62 L113.2,489.21 L113.7,489.05 L114.2,489.24 L114.7,489.19 L115.2,489.5 L115.7,490 L116.2,489.55 L116.7,490.03 L117.2,490.28 L117.7,490.04 L118.2,490.23 L118.7,489.92 L119.2,490.56 L119.7,490.54 L120.2,490.35 L120.7,489.88 L121.2,490.08 L121.7,490.61 L122.2,490.82 L122.7,490.48 L123.2,490.74 L123.7,490.29 L124.2,490.41 L124.7,490.47 L125.2,490.58 L125.7,490.1 L126.2,490.73 L126.7,490.83 L127.2,490.21 L127.7,490.16 L128.2,490.58 L128.7,490.32 L129.2,489.87 L129.7,490.64 L130.2,490.45 L130.7,490.26 L131.2,490.87 L131.7,490.34 L132.2,490.07 L132.7,490.23 L133.2,489.9 L133.7,489.91 L134.2,490.14 L134.7,489.85 L135.2,489.82 L135.7,490.28 L136.2,490.02 L136.7,489.94 L137.2,489.81 L137.7,489.73 L138.2,489.91 L138.7,489.45 L139.2,489.82 L139.7,489.02 L140.2,489.1 L140.7,488.73 L141.2,488.9 L141.7,489.03 L142.2,489.18 L142.7,488.57 L143.2,488.65 L143.7,488.48 L144.2,488.3 L144.7,488.09 L145.2,488.32 L145.7,487.77 L146.2,488.13 L146.7,488 L147.2,487.72 L147.7,487.51 L148.2,487.29 L148.7,487.97 L149.2,487.01 L149.7,487.55 L150.2,487.11 L150.7,486.64 L151.2,486.2 L151.7,486.49 L152.2,486.39 L152.7,485.45 L153.2,485.32 L153.7,485.36 L154.2,484.89 L154.7,485.01 L155.2,484.08 L155.7,484.07 L156.2,483.35 L156.7,483.92 L157.2,482.97 L157.7,482.36 L158.2,482.64 L158.7,482.41 L159.2,482.69 L159.7,481.89 L160.2,481.75 L160.7,481.67 L161.2,481.7 L161.7,481.06 L162.2,481.12 L162.7,480.77 L163.2,480.34 L163.7,480.22 L164.2,479.99 L164.7,479.53 L165.2,479.85 L165.7,478.98 L166.2,479.41 L166.7,479.14 L167.2,478.66 L167.7,478.28 L168.2,478.2 L168.7,478.17 L169.2,478.02 L169.7,477.7 L170.2,477.67 L170.7,477.07 L171.2,477.06 L171.7,476.4 L172.2,476.78 L172.7,476.42 L173.2,476.07 L173.7,476.26 L174.2,475.94 L174.7,474.85 L175.2,475.34 L175.7,474.71 L176.2,475.07 L176.7,475.16 L177.2,474.14 L177.7,474.04 L178.2,473.74 L178.7,473.71 L179.2,473.65 L179.7,473.73 L180.2,473.16 L180.7,473.84 L181.2,473.3 L181.7,473.72 L182.2,474.08 L182.7,474.11 L183.2,473.85 L183.7,474.05 L184.2,474.23 L184.7,474.42 L185.2,474.78 L185.7,474.18 L186.2,474.62 L186.7,474.65 L187.2,474.64 L187.7,474.62 L188.2,474.88 L188.7,474.62 L189.2,474.71 L189.7,474.64 L190.2,474.86 L190.7,473.59 L191.2,473.85 L191.7,472.77 L192.2,471.98 L192.7,470.97 L193.2,469.92 L193.7,469.53 L194.2,468.81 L194.7,468.47 L195.2,467.32 L195.7,467.38 L196.2,466.44 L196.7,465.69 L197.2,465 L197.7,464.47 L198.2,463.96 L198.7,463.76 L199.2,463.56 L199.7,463.26 L200.2,462.85 L200.7,463.32 L201.2,463.69 L201.7,464.72 L202.2,466.1 L202.7,466.84 L203.2,467.99 L203.7,469.74 L204.2,472.18 L204.7,474.39 L205.2,476.92 L205.7,478.51 L206.2,480.62 L206.7,482.15 L207.2,483.66 L207.7,484.85 L208.2,485.04 L208.7,485.78 L209.2,486.23 L209.7,487.15 L210.2,487.08 L210.7,487.36 L211.2,487.5 L211.7,487.61 L212.2,488.18 L212.7,488.79 L213.2,487.98 L213.7,488.55 L214.2,488.44 L214.7,488.17 L215.2,488.44 L215.7,488.51 L216.2,488.44 L216.7,489.15 L217.2,488.23 L217.7,488.84 L218.2,488.86 L218.7,488.67 L219.2,488.88 L219.7,489.09 L220.2,488.94 L220.7,489.03 L221.2,489.13 L221.7,488.47 L222.2,489.37 L222.7,489.59 L223.2,489.29 L223.7,489.32 L224.2,488.74 L224.7,489.08 L225.2,488.93 L225.7,489.01 L226.2,489.42 L226.7,489 L227.2,489.19 L227.7,488.76 L228.2,489.22 L228.7,489.3 L229.2,489.12 L229.7,489.13 L230.2,489.8 L230.7,489.05 L231.2,489.1 L231.7,489.18 L232.2,489.7 L232.7,489.94 L233.2,489.51 L233.7,489.27 L234.2,489.35 L234.7,489.74 L235.2,489.26 L235.7,489.86 L236.2,489.86 L236.7,489.54 L237.2,489.69 L237.7,489.73 L238.2,489.94 L238.7,489.29 L239.2,489.86 L239.7,489.48 L240.2,489.39 L240.7,489.61 L241.2,489.53 L241.7,489.35 L242.2,489.2 L242.7,489.36 L243.2,489.96" fill="none" stroke="#111" stroke-width="1.3" stroke-linejoin="round"/>
<line x1="126.3" y1="362.5" x2="151.5" y2="362.5" stroke="#1a1aff" stroke-width="1.5" />
<line x1="126.3" y1="380" x2="151.5" y2="380" stroke="#ff1a1a" stroke-width="1.5" />
<line x1="126.3" y1="396.6" x2="151.5" y2="396.6" stroke="#111" stroke-width="1.5" />
<text x="155" y="367.4" font-size="11.4" fill="#111" stroke="#111" stroke-width="0.12">&#945;-MoO<tspan font-size="8" dy="2.8">3</tspan><tspan dy="-2.8">/MXene</tspan></text>
<text x="155" y="384.3" font-size="11.4" fill="#111" stroke="#111" stroke-width="0.12">&#945;-MoO<tspan font-size="8" dy="2.8">3</tspan></text>
<text x="155" y="400.4" font-size="11.4" fill="#111" stroke="#111" stroke-width="0.12">Ti<tspan font-size="8" dy="2.8">3</tspan><tspan dy="-2.8">C</tspan><tspan font-size="8" dy="2.8">2</tspan></text>
<path d="M290.7,430.1 L291.2,429.89 L291.7,429.67 L292.2,429.46 L292.7,429.24 L293.2,429.03 L293.7,428.81 L294.2,428.6 L294.7,428.38 L295.2,428.16 L295.7,427.94 L296.2,427.73 L296.7,427.51 L297.2,427.29 L297.7,427.07 L298.2,426.85 L298.7,426.63 L299.2,426.41 L299.7,426.19 L300.2,425.97 L300.7,425.75 L301.2,425.52 L301.7,425.3 L302.2,425.08 L302.7,424.86 L303.2,424.63 L303.7,424.41 L304.2,424.19 L304.7,423.97 L305.2,423.75 L305.7,423.53 L306.2,423.3 L306.7,423.08 L307.2,422.86 L307.7,422.64 L308.2,422.41 L308.7,422.19 L309.2,421.96 L309.7,421.73 L310.2,421.5 L310.7,421.26 L311.2,421.03 L311.7,420.79 L312.2,420.54 L312.7,420.3 L313.2,420.05 L313.7,419.8 L314.2,419.54 L314.7,419.29 L315.2,419.02 L315.7,418.76 L316.2,418.49 L316.7,418.23 L317.2,417.96 L317.7,417.68 L318.2,417.41 L318.7,417.13 L319.2,416.85 L319.7,416.58 L320.2,416.3 L320.7,416.01 L321.2,415.73 L321.7,415.45 L322.2,415.17 L322.7,414.88 L323.2,414.6 L323.7,414.32 L324.2,414.03 L324.7,413.75 L325.2,413.46 L325.7,413.17 L326.2,412.88 L326.7,412.59 L327.2,412.3 L327.7,412.01 L328.2,411.71 L328.7,411.42 L329.2,411.12 L329.7,410.82 L330.2,410.52 L330.7,410.22 L331.2,409.92 L331.7,409.61 L332.2,409.31 L332.7,409 L333.2,408.69 L333.7,408.37 L334.2,408.06 L334.7,407.74 L335.2,407.42 L335.7,407.09 L336.2,406.77 L336.7,406.44 L337.2,406.11 L337.7,405.77 L338.2,405.44 L338.7,405.1 L339.2,404.77 L339.7,404.43 L340.2,404.09 L340.7,403.75 L341.2,403.42 L341.7,403.08 L342.2,402.74 L342.7,402.4 L343.2,402.07 L343.7,401.73 L344.2,401.4 L344.7,401.06 L345.2,400.73 L345.7,400.39 L346.2,400.05 L346.7,399.71 L347.2,399.37 L347.7,399.04 L348.2,398.7 L348.7,398.36 L349.2,398.02 L349.7,397.69 L350.2,397.35 L350.7,397.02 L351.2,396.69 L351.7,396.36 L352.2,396.03 L352.7,395.71 L353.2,395.38 L353.7,395.06 L354.2,394.74 L354.7,394.42 L355.2,394.1 L355.7,393.78 L356.2,393.47 L356.7,393.16 L357.2,392.86 L357.7,392.55 L358.2,392.23 L358.7,391.89 L359.2,391.56 L359.7,391.23 L360.2,390.91 L360.7,390.62 L361.2,390.36 L361.7,390.13 L362.2,389.96 L362.7,389.83 L363.2,389.72 L363.7,389.62 L364.2,389.53 L364.7,389.45 L365.2,389.38 L365.7,389.32 L366.2,389.25 L366.7,389.19 L367.2,389.12 L367.7,389.05 L368.2,388.97 L368.7,388.88 L369.2,388.77 L369.7,388.65 L370.2,388.51 L370.7,388.37 L371.2,388.23 L371.7,388.1 L372.2,387.99 L372.7,387.89 L373.2,387.83 L373.7,387.8 L374.2,387.81 L374.7,387.87 L375.2,387.97 L375.7,388.1 L376.2,388.25 L376.7,388.44 L377.2,388.64 L377.7,388.86 L378.2,389.09 L378.7,389.33 L379.2,389.56 L379.7,389.8 L380.2,390.02 L380.7,390.24 L381.2,390.43 L381.7,390.61 L382.2,390.76 L382.7,390.88 L383.2,391 L383.7,391.11 L384.2,391.22 L384.7,391.35 L385.2,391.5 L385.7,391.68 L386.2,391.89 L386.7,392.14 L387.2,392.43 L387.7,392.75 L388.2,393.1 L388.7,393.47 L389.2,393.87 L389.7,394.28 L390.2,394.71 L390.7,395.15 L391.2,395.6 L391.7,396.06 L392.2,396.52 L392.7,396.98 L393.2,397.44 L393.7,397.89 L394.2,398.33 L394.7,398.75 L395.2,399.16 L395.7,399.58 L396.2,400 L396.7,400.42 L397.2,400.85 L397.7,401.29 L398.2,401.72 L398.7,402.16 L399.2,402.6 L399.7,403.05 L400.2,403.49 L400.7,403.94 L401.2,404.38 L401.7,404.82 L402.2,405.27 L402.7,405.71 L403.2,406.14 L403.7,406.58 L404.2,407.01 L404.7,407.43 L405.2,407.85 L405.7,408.27 L406.2,408.68 L406.7,409.08 L407.2,409.48 L407.7,409.88 L408.2,410.28 L408.7,410.67 L409.2,411.07 L409.7,411.46 L410.2,411.85 L410.7,412.24 L411.2,412.63 L411.7,413.01 L412.2,413.4 L412.7,413.77 L413.2,414.15 L413.7,414.52 L414.2,414.88 L414.7,415.24 L415.2,415.6 L415.7,415.95 L416.2,416.3 L416.7,416.64 L417.2,416.98 L417.7,417.31 L418.2,417.63 L418.7,417.95 L419.2,418.26 L419.7,418.58 L420.2,418.89 L420.7,419.2 L421.2,419.5 L421.7,419.8 L422.2,420.1 L422.7,420.39 L423.2,420.69 L423.7,420.97 L424.2,421.26 L424.7,421.54 L425.2,421.82 L425.7,422.1 L426.2,422.37 L426.7,422.65 L427.2,422.91 L427.7,423.18 L428.2,423.44 L428.7,423.7 L429.2,423.96 L429.7,424.21 L430.2,424.46 L430.7,424.71 L431.2,424.95 L431.7,425.19 L432.2,425.43 L432.7,425.67 L433.2,425.91 L433.7,426.15 L434.2,426.38 L434.7,426.61 L435.2,426.84 L435.7,427.07 L436.2,427.29 L436.7,427.51 L437.2,427.73 L437.7,427.94 L438.2,428.16 L438.7,428.37 L439.2,428.57 L439.7,428.77 L440.2,428.97 L440.7,429.16 L441.2,429.35 L441.7,429.54 L442.2,429.72 L442.7,429.9 L443.2,430.07 L443.7,430.24 L444.2,430.41 L444.7,430.57 L445.2,430.74 L445.7,430.9 L446.2,431.06 L446.7,431.22 L447.2,431.37 L447.7,431.52 L448.2,431.67 L448.7,431.82 L449.2,431.97 L449.7,432.11 L450.2,432.25 L450.7,432.39 L451.2,432.53 L451.7,432.66 L452.2,432.79 L452.7,432.92 L453.2,433.05 L453.7,433.17 L454.2,433.29 L454.7,433.41 L455.2,433.52 L455.7,433.63 L456.2,433.74 L456.7,433.85 L457.2,433.95 L457.7,434.06 L458.2,434.16 L458.7,434.25 L459.2,434.35 L459.7,434.44 L460.2,434.54 L460.7,434.63 L461.2,434.72 L461.7,434.8 L462.2,434.89 L462.7,434.98 L463.2,435.06 L463.7,435.14 L464.2,435.22 L464.7,435.3 L465.2,435.38 L465.7,435.46 L466.2,435.53 L466.7,435.61 L467.2,435.68 L467.7,435.76 L468.2,435.83 L468.7,435.9 L469.2,435.97 L469.7,436.04 L470.2,436.11 L470.7,436.18 L471.2,436.25 L471.7,436.32 L472.2,436.38 L472.7,436.45 L473.2,436.51 L473.7,436.58 L474.2,436.64 L474.7,436.7 L475.2,436.77 L475.7,436.83 L476.2,436.89 L476.7,436.94 L477.2,437 L477.7,437.06 L478.2,437.11 L478.7,437.17 L479.2,437.22 L479.7,437.27 L480.2,437.32 L480.7,437.37" fill="none" stroke="#1a1aff" stroke-width="1.6" stroke-linejoin="round"/>
<path d="M284,459.81 L284.5,459.75 L285,459.68 L285.5,459.6 L286,459.53 L286.5,459.45 L287,459.37 L287.5,459.29 L288,459.2 L288.5,459.11 L289,459.02 L289.5,458.93 L290,458.83 L290.5,458.73 L291,458.63 L291.5,458.53 L292,458.43 L292.5,458.32 L293,458.21 L293.5,458.1 L294,457.99 L294.5,457.88 L295,457.76 L295.5,457.64 L296,457.52 L296.5,457.39 L297,457.26 L297.5,457.12 L298,456.98 L298.5,456.84 L299,456.7 L299.5,456.55 L300,456.4 L300.5,456.25 L301,456.1 L301.5,455.94 L302,455.78 L302.5,455.62 L303,455.45 L303.5,455.29 L304,455.12 L304.5,454.95 L305,454.79 L305.5,454.61 L306,454.44 L306.5,454.27 L307,454.1 L307.5,453.92 L308,453.74 L308.5,453.56 L309,453.38 L309.5,453.19 L310,453 L310.5,452.81 L311,452.62 L311.5,452.42 L312,452.22 L312.5,452.02 L313,451.82 L313.5,451.61 L314,451.4 L314.5,451.19 L315,450.97 L315.5,450.76 L316,450.53 L316.5,450.31 L317,450.08 L317.5,449.85 L318,449.62 L318.5,449.39 L319,449.15 L319.5,448.91 L320,448.66 L320.5,448.4 L321,448.14 L321.5,447.87 L322,447.6 L322.5,447.32 L323,447.04 L323.5,446.75 L324,446.46 L324.5,446.17 L325,445.87 L325.5,445.58 L326,445.27 L326.5,444.97 L327,444.67 L327.5,444.36 L328,444.05 L328.5,443.74 L329,443.43 L329.5,443.13 L330,442.82 L330.5,442.51 L331,442.2 L331.5,441.9 L332,441.59 L332.5,441.28 L333,440.96 L333.5,440.63 L334,440.3 L334.5,439.97 L335,439.63 L335.5,439.29 L336,438.95 L336.5,438.61 L337,438.27 L337.5,437.93 L338,437.59 L338.5,437.25 L339,436.92 L339.5,436.59 L340,436.27 L340.5,435.95 L341,435.64 L341.5,435.33 L342,435.04 L342.5,434.75 L343,434.47 L343.5,434.21 L344,433.95 L344.5,433.7 L345,433.46 L345.5,433.23 L346,433.01 L346.5,432.79 L347,432.57 L347.5,432.36 L348,432.15 L348.5,431.95 L349,431.75 L349.5,431.55 L350,431.35 L350.5,431.15 L351,430.95 L351.5,430.75 L352,430.54 L352.5,430.32 L353,430.08 L353.5,429.81 L354,429.55 L354.5,429.29 L355,429.07 L355.5,428.89 L356,428.76 L356.5,428.7 L357,428.7 L357.5,428.72 L358,428.74 L358.5,428.77 L359,428.81 L359.5,428.85 L360,428.89 L360.5,428.94 L361,428.98 L361.5,429.03 L362,429.07 L362.5,429.11 L363,429.14 L363.5,429.17 L364,429.2 L364.5,429.23 L365,429.26 L365.5,429.3 L366,429.34 L366.5,429.38 L367,429.43 L367.5,429.49 L368,429.57 L368.5,429.69 L369,429.85 L369.5,430.05 L370,430.28 L370.5,430.54 L371,430.82 L371.5,431.12 L372,431.43 L372.5,431.75 L373,432.07 L373.5,432.4 L374,432.71 L374.5,433.02 L375,433.32 L375.5,433.63 L376,433.95 L376.5,434.28 L377,434.63 L377.5,434.98 L378,435.34 L378.5,435.7 L379,436.06 L379.5,436.42 L380,436.77 L380.5,437.12 L381,437.46 L381.5,437.79 L382,438.1 L382.5,438.39 L383,438.67 L383.5,438.95 L384,439.22 L384.5,439.5 L385,439.8 L385.5,440.12 L386,440.45 L386.5,440.79 L387,441.14 L387.5,441.49 L388,441.86 L388.5,442.22 L389,442.6 L389.5,442.97 L390,443.34 L390.5,443.71 L391,444.08 L391.5,444.45 L392,444.81 L392.5,445.16 L393,445.5 L393.5,445.84 L394,446.18 L394.5,446.52 L395,446.86 L395.5,447.21 L396,447.55 L396.5,447.88 L397,448.22 L397.5,448.55 L398,448.88 L398.5,449.2 L399,449.51 L399.5,449.82 L400,450.11 L400.5,450.4 L401,450.68 L401.5,450.95 L402,451.21 L402.5,451.46 L403,451.72 L403.5,451.97 L404,452.22 L404.5,452.46 L405,452.71 L405.5,452.95 L406,453.18 L406.5,453.41 L407,453.64 L407.5,453.87 L408,454.09 L408.5,454.3 L409,454.51 L409.5,454.72 L410,454.92 L410.5,455.11 L411,455.3 L411.5,455.48 L412,455.66 L412.5,455.83 L413,455.99 L413.5,456.15 L414,456.3 L414.5,456.45 L415,456.59 L415.5,456.73 L416,456.86 L416.5,457 L417,457.13 L417.5,457.26 L418,457.38 L418.5,457.51 L419,457.63 L419.5,457.75 L420,457.87 L420.5,457.98 L421,458.09 L421.5,458.2 L422,458.31 L422.5,458.42 L423,458.52 L423.5,458.62 L424,458.72 L424.5,458.82 L425,458.92 L425.5,459.01 L426,459.11 L426.5,459.2 L427,459.29 L427.5,459.38 L428,459.46 L428.5,459.55 L429,459.63 L429.5,459.72 L430,459.8 L430.5,459.88 L431,459.96 L431.5,460.04 L432,460.12 L432.5,460.2 L433,460.27 L433.5,460.35 L434,460.43 L434.5,460.5 L435,460.57 L435.5,460.65 L436,460.72 L436.5,460.79 L437,460.86 L437.5,460.93 L438,460.99 L438.5,461.06 L439,461.13 L439.5,461.19 L440,461.25 L440.5,461.31 L441,461.38 L441.5,461.43 L442,461.49 L442.5,461.55 L443,461.6 L443.5,461.66 L444,461.71 L444.5,461.76 L445,461.81 L445.5,461.86 L446,461.91 L446.5,461.96 L447,462 L447.5,462.04 L448,462.09 L448.5,462.13 L449,462.17 L449.5,462.22 L450,462.26 L450.5,462.3 L451,462.34 L451.5,462.39 L452,462.43 L452.5,462.47 L453,462.51 L453.5,462.55 L454,462.59 L454.5,462.63 L455,462.67 L455.5,462.71 L456,462.75 L456.5,462.79 L457,462.82 L457.5,462.86 L458,462.9 L458.5,462.93 L459,462.97 L459.5,463 L460,463.04 L460.5,463.07 L461,463.11 L461.5,463.14 L462,463.17 L462.5,463.2 L463,463.23 L463.5,463.26 L464,463.29 L464.5,463.32 L465,463.35 L465.5,463.38 L466,463.4 L466.5,463.43 L467,463.45 L467.5,463.48 L468,463.5 L468.5,463.52 L469,463.54 L469.5,463.56 L470,463.58 L470.5,463.6 L471,463.62 L471.5,463.64 L472,463.65 L472.5,463.67 L473,463.68 L473.5,463.69" fill="none" stroke="#ff1a1a" stroke-width="1.6" stroke-linejoin="round"/>
<line x1="356.8" y1="353.5" x2="356.8" y2="503" stroke="#222" stroke-width="1.5" stroke-dasharray="5.6,4.4"/>
<line x1="369.5" y1="353.5" x2="369.5" y2="503" stroke="#222" stroke-width="1.3" stroke-dasharray="5.6,4.4"/>
<line x1="319.1" y1="378" x2="351" y2="378" stroke="#222" stroke-width="1.1" />
<path d="M355,378 L350,380 L350,376 Z" fill="#222"/>
<line x1="407.8" y1="377.5" x2="375.6" y2="377.5" stroke="#222" stroke-width="1.1" />
<path d="M371.6,377.5 L376.6,375.5 L376.6,379.5 Z" fill="#222"/>
<text x="374.2" y="373.2" font-size="12.9" fill="#111" stroke="#111" stroke-width="0.12">1.8cm<tspan font-size="8.8" dy="-5.6">-1</tspan></text>
<rect x="44.7" y="23.3" width="200" height="279.3" fill="none" stroke="#1a1a1a" stroke-width="1.8"/>
<line x1="44.7" y1="162.8" x2="244.7" y2="162.8" stroke="#1a1a1a" stroke-width="1.8" />
<rect x="282" y="23.5" width="198.6" height="277.4" fill="none" stroke="#1a1a1a" stroke-width="1.8"/>
<line x1="282" y1="162.4" x2="480.6" y2="162.4" stroke="#1a1a1a" stroke-width="1.8" />
<rect x="45.5" y="352.8" width="198.5" height="150.7" fill="none" stroke="#1a1a1a" stroke-width="1.3"/>
<rect x="282.3" y="353" width="199.2" height="150.6" fill="none" stroke="#1a1a1a" stroke-width="1.3"/>
<line x1="64.9" y1="302.6" x2="64.9" y2="306.2" stroke="#1a1a1a" stroke-width="1.4" />
<line x1="104.92" y1="302.6" x2="104.92" y2="306.2" stroke="#1a1a1a" stroke-width="1.4" />
<line x1="144.94" y1="302.6" x2="144.94" y2="306.2" stroke="#1a1a1a" stroke-width="1.4" />
<line x1="184.96" y1="302.6" x2="184.96" y2="306.2" stroke="#1a1a1a" stroke-width="1.4" />
<line x1="224.98" y1="302.6" x2="224.98" y2="306.2" stroke="#1a1a1a" stroke-width="1.4" />
<line x1="44.89" y1="302.6" x2="44.89" y2="304.8" stroke="#1a1a1a" stroke-width="1.4" />
<line x1="84.91" y1="302.6" x2="84.91" y2="304.8" stroke="#1a1a1a" stroke-width="1.4" />
<line x1="124.93" y1="302.6" x2="124.93" y2="304.8" stroke="#1a1a1a" stroke-width="1.4" />
<line x1="164.95" y1="302.6" x2="164.95" y2="304.8" stroke="#1a1a1a" stroke-width="1.4" />
<line x1="204.97" y1="302.6" x2="204.97" y2="304.8" stroke="#1a1a1a" stroke-width="1.4" />
<line x1="296.1" y1="300.9" x2="296.1" y2="304.5" stroke="#1a1a1a" stroke-width="1.4" />
<line x1="324.36" y1="300.9" x2="324.36" y2="304.5" stroke="#1a1a1a" stroke-width="1.4" />
<line x1="352.62" y1="300.9" x2="352.62" y2="304.5" stroke="#1a1a1a" stroke-width="1.4" />
<line x1="380.88" y1="300.9" x2="380.88" y2="304.5" stroke="#1a1a1a" stroke-width="1.4" />
<line x1="409.14" y1="300.9" x2="409.14" y2="304.5" stroke="#1a1a1a" stroke-width="1.4" />
<line x1="437.4" y1="300.9" x2="437.4" y2="304.5" stroke="#1a1a1a" stroke-width="1.4" />
<line x1="465.66" y1="300.9" x2="465.66" y2="304.5" stroke="#1a1a1a" stroke-width="1.4" />
<line x1="281.97" y1="300.9" x2="281.97" y2="303.1" stroke="#1a1a1a" stroke-width="1.4" />
<line x1="310.23" y1="300.9" x2="310.23" y2="303.1" stroke="#1a1a1a" stroke-width="1.4" />
<line x1="338.49" y1="300.9" x2="338.49" y2="303.1" stroke="#1a1a1a" stroke-width="1.4" />
<line x1="366.75" y1="300.9" x2="366.75" y2="303.1" stroke="#1a1a1a" stroke-width="1.4" />
<line x1="395.01" y1="300.9" x2="395.01" y2="303.1" stroke="#1a1a1a" stroke-width="1.4" />
<line x1="423.27" y1="300.9" x2="423.27" y2="303.1" stroke="#1a1a1a" stroke-width="1.4" />
<line x1="451.53" y1="300.9" x2="451.53" y2="303.1" stroke="#1a1a1a" stroke-width="1.4" />
<line x1="479.79" y1="300.9" x2="479.79" y2="303.1" stroke="#1a1a1a" stroke-width="1.4" />
<line x1="76.7" y1="503.5" x2="76.7" y2="506.5" stroke="#1a1a1a" stroke-width="1.1" />
<line x1="118.4" y1="503.5" x2="118.4" y2="506.5" stroke="#1a1a1a" stroke-width="1.1" />
<line x1="160.1" y1="503.5" x2="160.1" y2="506.5" stroke="#1a1a1a" stroke-width="1.1" />
<line x1="201.8" y1="503.5" x2="201.8" y2="506.5" stroke="#1a1a1a" stroke-width="1.1" />
<line x1="243.5" y1="503.5" x2="243.5" y2="506.5" stroke="#1a1a1a" stroke-width="1.1" />
<line x1="55.85" y1="503.5" x2="55.85" y2="505.3" stroke="#1a1a1a" stroke-width="1.1" />
<line x1="97.55" y1="503.5" x2="97.55" y2="505.3" stroke="#1a1a1a" stroke-width="1.1" />
<line x1="139.25" y1="503.5" x2="139.25" y2="505.3" stroke="#1a1a1a" stroke-width="1.1" />
<line x1="180.95" y1="503.5" x2="180.95" y2="505.3" stroke="#1a1a1a" stroke-width="1.1" />
<line x1="222.65" y1="503.5" x2="222.65" y2="505.3" stroke="#1a1a1a" stroke-width="1.1" />
<line x1="315.5" y1="503.6" x2="315.5" y2="506.6" stroke="#1a1a1a" stroke-width="1.1" />
<line x1="382.5" y1="503.6" x2="382.5" y2="506.6" stroke="#1a1a1a" stroke-width="1.1" />
<line x1="449.5" y1="503.6" x2="449.5" y2="506.6" stroke="#1a1a1a" stroke-width="1.1" />
<line x1="349" y1="503.6" x2="349" y2="505.4" stroke="#1a1a1a" stroke-width="1.1" />
<line x1="416" y1="503.6" x2="416" y2="505.4" stroke="#1a1a1a" stroke-width="1.1" />
<text x="64.9" y="319.8" font-size="14" fill="#111" stroke="#111" stroke-width="0.12" text-anchor="middle" >238</text>
<text x="104.92" y="319.8" font-size="14" fill="#111" stroke="#111" stroke-width="0.12" text-anchor="middle" >236</text>
<text x="144.94" y="319.8" font-size="14" fill="#111" stroke="#111" stroke-width="0.12" text-anchor="middle" >234</text>
<text x="184.96" y="319.8" font-size="14" fill="#111" stroke="#111" stroke-width="0.12" text-anchor="middle" >232</text>
<text x="224.98" y="319.8" font-size="14" fill="#111" stroke="#111" stroke-width="0.12" text-anchor="middle" >230</text>
<text x="296.1" y="317.8" font-size="13.9" fill="#111" stroke="#111" stroke-width="0.12" text-anchor="middle" >466</text>
<text x="324.36" y="317.8" font-size="13.9" fill="#111" stroke="#111" stroke-width="0.12" text-anchor="middle" >464</text>
<text x="352.62" y="317.8" font-size="13.9" fill="#111" stroke="#111" stroke-width="0.12" text-anchor="middle" >462</text>
<text x="380.88" y="317.8" font-size="13.9" fill="#111" stroke="#111" stroke-width="0.12" text-anchor="middle" >460</text>
<text x="409.14" y="317.8" font-size="13.9" fill="#111" stroke="#111" stroke-width="0.12" text-anchor="middle" >458</text>
<text x="437.4" y="317.8" font-size="13.9" fill="#111" stroke="#111" stroke-width="0.12" text-anchor="middle" >456</text>
<text x="465.66" y="317.8" font-size="13.9" fill="#111" stroke="#111" stroke-width="0.12" text-anchor="middle" >454</text>
<text x="76.7" y="520.4" font-size="14.2" fill="#111" stroke="#111" stroke-width="0.12" text-anchor="middle" >400</text>
<text x="118.4" y="520.4" font-size="14.2" fill="#111" stroke="#111" stroke-width="0.12" text-anchor="middle" >800</text>
<text x="160.1" y="520.4" font-size="14.2" fill="#111" stroke="#111" stroke-width="0.12" text-anchor="middle" >1200</text>
<text x="201.8" y="520.4" font-size="14.2" fill="#111" stroke="#111" stroke-width="0.12" text-anchor="middle" >1600</text>
<text x="243.5" y="520.4" font-size="14.2" fill="#111" stroke="#111" stroke-width="0.12" text-anchor="middle" >2000</text>
<text x="315.5" y="520.4" font-size="14.2" fill="#111" stroke="#111" stroke-width="0.12" text-anchor="middle" >810</text>
<text x="382.5" y="520.4" font-size="14.2" fill="#111" stroke="#111" stroke-width="0.12" text-anchor="middle" >820</text>
<text x="449.5" y="520.4" font-size="14.2" fill="#111" stroke="#111" stroke-width="0.12" text-anchor="middle" >830</text>
<text x="74.2" y="337.2" font-size="18.2" fill="#111" stroke="#111" stroke-width="0.12" text-anchor="start" >Binding energy(eV)</text>
<text x="308.6" y="335.6" font-size="18" fill="#111" stroke="#111" stroke-width="0.12" text-anchor="start" >Binding energy(eV)</text>
<text x="183" y="540.3" font-size="19.4" fill="#111" stroke="#111" stroke-width="0.12">Raman shift (cm<tspan font-size="12" dy="-7.5">-1</tspan><tspan dy="7.5">)</tspan></text>
<text transform="translate(31.9,220.2) rotate(-90)" font-size="18.5" fill="#111" stroke="#111" stroke-width="0.12">Intensity(a.u.)</text>
<text transform="translate(268.9,219.9) rotate(-90)" font-size="18.5" fill="#111" stroke="#111" stroke-width="0.12">Intensity(a.u.)</text>
<text transform="translate(35.9,484.4) rotate(-90)" font-size="19.5" fill="#111" stroke="#111" stroke-width="0.12">Intensity (a.u.)</text>
<text x="8.2" y="31.3" font-size="27" fill="#111" stroke="#111" stroke-width="0.12" text-anchor="start" >(a)</text>
<text x="246" y="27.1" font-size="27" fill="#111" stroke="#111" stroke-width="0.12" text-anchor="start" >(b)</text>
<text x="8.2" y="351.9" font-size="27" fill="#111" stroke="#111" stroke-width="0.12" text-anchor="start" >(c)</text></svg>
</body></html>
